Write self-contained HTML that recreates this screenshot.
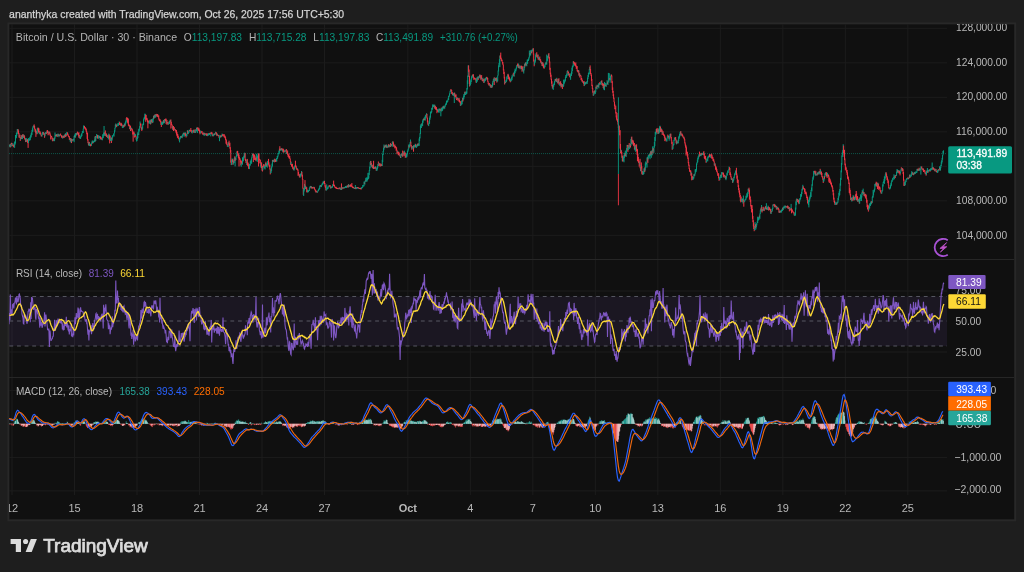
<!DOCTYPE html>
<html><head><meta charset="utf-8">
<style>
html,body{margin:0;padding:0;background:#1e1e1e;width:1024px;height:572px;overflow:hidden}
svg{display:block;font-family:"Liberation Sans",sans-serif;will-change:transform}
</style></head>
<body>
<svg width="1024" height="572" viewBox="0 0 1024 572">
<rect x="0" y="0" width="1024" height="572" fill="#1e1e1e"/>
<text x="9.1" y="17.6" font-size="11.3" fill="#d4d4d4" stroke="#d4d4d4" stroke-width="0.25" textLength="335" lengthAdjust="spacingAndGlyphs">ananthyka created with TradingView.com, Oct 26, 2025 17:56 UTC+5:30</text>
<rect x="8.4" y="23.4" width="1006.8" height="496.9" fill="#101010" stroke="#282828" stroke-width="1.9"/>
<defs><clipPath id="cp"><rect x="9" y="24" width="938" height="471"/></clipPath>
<clipPath id="cpm"><rect x="9" y="24" width="938" height="235"/></clipPath>
<clipPath id="cpt"><rect x="9" y="495" width="938" height="24"/></clipPath><clipPath id="cpa"><rect x="947" y="24" width="67" height="471"/></clipPath></defs>
<path d="M12.0 24V495M74.5 24V495M137.0 24V495M199.5 24V495M262.0 24V495M324.5 24V495M407.8 24V495M470.3 24V495M532.8 24V495M595.3 24V495M657.8 24V495M720.3 24V495M782.8 24V495M845.3 24V495M907.8 24V495M9 28.3H947M9 62.8H947M9 97.3H947M9 131.8H947M9 166.3H947M9 200.8H947M9 235.3H947M9 291.0H947M9 352.0H947M9 390.6H947M9 423.8H947M9 457.6H947M9 490.9H947" stroke="#1c1c1c" stroke-width="1" fill="none" clip-path="url(#cp)"/>
<path d="M9 259.5H1014M9 377.5H1014" stroke="#262626" stroke-width="1"/>
<!-- current price dotted -->
<path d="M9 153.6H947" stroke="#089981" stroke-width="1" stroke-dasharray="1 1" opacity="0.5"/>
<g clip-path="url(#cpm)">
<g stroke-width="1" fill="none"><path d="M9.00 145.3V146.3M9.43 144.5V146.2M9.87 145.4V147.2" stroke="#089981"/><path d="M10.30 143.9V147.4" stroke="#f23645"/><path d="M10.74 144.9V146.2M11.17 142.9V146.7" stroke="#089981"/><path d="M11.60 142.8V144.0M12.04 143.2V145.8M12.47 144.6V145.8" stroke="#f23645"/><path d="M12.91 143.1V145.7" stroke="#089981"/><path d="M13.34 145.1V147.3M13.77 144.4V146.6" stroke="#f23645"/><path d="M14.21 145.3V146.6M14.64 141.5V147.9M15.08 141.8V144.7M15.51 135.0V143.4M15.94 135.3V138.5M16.38 132.7V137.9M16.81 132.6V135.8M17.25 129.0V134.0M17.68 129.1V131.7" stroke="#089981"/><path d="M18.11 129.2V132.8M18.55 130.5V134.2M18.98 133.0V137.6" stroke="#f23645"/><path d="M19.42 134.8V137.2" stroke="#089981"/><path d="M19.85 134.6V138.0M20.28 137.2V140.9" stroke="#f23645"/><path d="M20.72 137.7V139.8" stroke="#089981"/><path d="M21.15 135.1V139.0" stroke="#f23645"/><path d="M21.59 135.5V138.5" stroke="#089981"/><path d="M22.02 135.6V138.9" stroke="#f23645"/><path d="M22.45 134.6V139.1" stroke="#089981"/><path d="M22.89 134.2V136.8M23.32 134.6V137.5" stroke="#f23645"/><path d="M23.76 134.6V137.9" stroke="#089981"/><path d="M24.19 135.1V138.0M24.62 136.2V138.9M25.06 138.4V140.1M25.49 138.4V142.1" stroke="#f23645"/><path d="M25.93 138.0V141.8" stroke="#089981"/><path d="M26.36 139.5V141.8" stroke="#f23645"/><path d="M26.79 138.3V141.6" stroke="#089981"/><path d="M27.23 139.8V140.9M27.66 139.2V143.1M28.10 141.2V147.9" stroke="#f23645"/><path d="M28.53 138.2V143.0M28.96 138.8V140.5M29.40 138.7V140.4M29.83 137.2V140.6M30.27 136.4V139.9M30.70 135.1V137.7M31.14 133.3V137.4M31.57 132.4V135.4M32.00 129.9V134.9M32.44 128.2V131.9M32.87 126.6V131.5M33.31 125.9V127.3M33.74 125.3V127.4" stroke="#089981"/><path d="M34.17 124.4V127.9M34.61 126.0V129.3M35.04 128.5V131.7M35.48 129.2V132.7M35.91 131.8V136.9" stroke="#f23645"/><path d="M36.34 130.9V133.1" stroke="#089981"/><path d="M36.78 130.6V134.3" stroke="#f23645"/><path d="M37.21 128.5V134.1M37.65 127.9V130.5" stroke="#089981"/><path d="M38.08 127.5V129.9M38.51 128.3V132.3M38.95 128.4V133.2" stroke="#f23645"/><path d="M39.38 131.6V134.3" stroke="#089981"/><path d="M39.82 131.1V132.2M40.25 131.8V134.0M40.68 133.0V134.8M41.12 134.7V136.4M41.55 135.0V136.3" stroke="#f23645"/><path d="M41.99 133.5V136.6M42.42 131.9V134.8M42.85 132.0V133.6" stroke="#089981"/><path d="M43.29 131.9V134.6M43.72 132.8V134.5" stroke="#f23645"/><path d="M44.16 132.8V134.0" stroke="#089981"/><path d="M44.59 133.6V137.8" stroke="#f23645"/><path d="M45.02 134.3V136.3M45.46 132.3V134.4M45.89 132.2V133.3" stroke="#089981"/><path d="M46.33 132.3V134.1" stroke="#f23645"/><path d="M46.76 131.3V133.2" stroke="#089981"/><path d="M47.19 130.0V132.7M47.63 130.3V133.1M48.06 131.7V135.3" stroke="#f23645"/><path d="M48.50 131.6V133.6" stroke="#089981"/><path d="M48.93 131.5V134.8" stroke="#f23645"/><path d="M49.36 131.9V133.7" stroke="#089981"/><path d="M49.80 131.7V134.3M50.23 133.5V136.1M50.67 135.2V139.5" stroke="#f23645"/><path d="M51.10 136.2V137.2" stroke="#089981"/><path d="M51.53 135.9V137.4M51.97 136.7V139.3M52.40 138.1V141.0M52.84 140.1V141.4" stroke="#f23645"/><path d="M53.27 138.9V141.0M53.70 138.4V140.6" stroke="#089981"/><path d="M54.14 137.9V140.9" stroke="#f23645"/><path d="M54.57 137.5V141.2M55.01 132.5V138.6M55.44 134.5V136.7" stroke="#089981"/><path d="M55.87 135.1V136.1" stroke="#f23645"/><path d="M56.31 134.0V136.2" stroke="#089981"/><path d="M56.74 134.7V136.4M57.18 134.2V136.9" stroke="#f23645"/><path d="M57.61 134.4V136.4M58.04 133.5V136.4" stroke="#089981"/><path d="M58.48 134.4V135.8" stroke="#f23645"/><path d="M58.91 134.9V137.2" stroke="#089981"/><path d="M59.35 134.7V136.2" stroke="#f23645"/><path d="M59.78 134.4V135.4M60.21 133.9V135.5" stroke="#089981"/><path d="M60.65 133.5V135.5M61.08 135.3V136.3M61.52 135.4V137.3M61.95 135.5V138.0M62.38 136.2V138.3" stroke="#f23645"/><path d="M62.82 136.6V138.5M63.25 135.3V137.2" stroke="#089981"/><path d="M63.69 136.1V137.9M64.12 136.4V137.4M64.55 134.7V137.5" stroke="#f23645"/><path d="M64.99 134.4V137.0M65.42 133.1V137.1" stroke="#089981"/><path d="M65.86 134.2V136.9M66.29 134.2V135.8" stroke="#f23645"/><path d="M66.72 131.9V135.0M67.16 133.0V134.0" stroke="#089981"/><path d="M67.59 132.3V134.9M68.03 133.8V136.1M68.46 135.4V136.7M68.89 136.1V137.3M69.33 136.3V139.8M69.76 138.0V139.7" stroke="#f23645"/><path d="M70.20 138.4V141.7" stroke="#089981"/><path d="M70.63 138.1V141.4" stroke="#f23645"/><path d="M71.06 138.6V142.8" stroke="#089981"/><path d="M71.50 138.8V143.1" stroke="#f23645"/><path d="M71.93 139.2V141.8" stroke="#089981"/><path d="M72.37 139.7V140.7" stroke="#f23645"/><path d="M72.80 139.2V140.2" stroke="#089981"/><path d="M73.24 139.1V140.4" stroke="#f23645"/><path d="M73.67 138.7V140.6M74.10 135.9V142.2M74.54 134.6V137.5" stroke="#089981"/><path d="M74.97 136.1V137.3" stroke="#f23645"/><path d="M75.41 133.2V137.7M75.84 133.3V136.2M76.27 133.4V134.4" stroke="#089981"/><path d="M76.71 132.9V135.3" stroke="#f23645"/><path d="M77.14 132.5V135.0" stroke="#089981"/><path d="M77.58 131.6V134.1" stroke="#f23645"/><path d="M78.01 133.3V134.3" stroke="#089981"/><path d="M78.44 133.0V135.6M78.88 132.2V137.6M79.31 135.0V137.7" stroke="#f23645"/><path d="M79.75 136.0V138.4" stroke="#089981"/><path d="M80.18 136.7V138.7" stroke="#f23645"/><path d="M80.61 136.4V138.9M81.05 134.7V137.3M81.48 133.6V136.5M81.92 133.2V136.1M82.35 131.0V133.5M82.78 131.1V132.7M83.22 128.7V133.0M83.65 125.4V129.0M84.09 125.9V127.6" stroke="#089981"/><path d="M84.52 125.9V128.0M84.95 127.4V129.3M85.39 127.3V128.8M85.82 127.9V130.4M86.26 128.8V131.9M86.69 130.8V134.2M87.12 133.6V138.9M87.56 132.6V140.5M87.99 139.2V143.2M88.43 141.9V145.3" stroke="#f23645"/><path d="M88.86 141.9V145.5" stroke="#089981"/><path d="M89.29 141.9V145.6" stroke="#f23645"/><path d="M89.73 143.4V146.0M90.16 143.7V146.1" stroke="#089981"/><path d="M90.60 144.2V146.3M91.03 144.8V145.8" stroke="#f23645"/><path d="M91.46 143.2V145.7M91.90 141.5V143.8M92.33 140.4V142.9" stroke="#089981"/><path d="M92.77 141.6V143.6" stroke="#f23645"/><path d="M93.20 141.3V143.0M93.63 140.8V142.8M94.07 140.7V141.9M94.50 139.5V141.9M94.94 136.6V142.1" stroke="#089981"/><path d="M95.37 136.0V141.2" stroke="#f23645"/><path d="M95.80 137.1V141.0M96.24 136.1V138.3M96.67 134.0V136.7M97.11 135.8V136.8" stroke="#089981"/><path d="M97.54 134.9V138.5M97.97 135.8V138.4" stroke="#f23645"/><path d="M98.41 135.2V138.7M98.84 136.1V137.3M99.28 135.7V138.1" stroke="#089981"/><path d="M99.71 136.4V137.8" stroke="#f23645"/><path d="M100.14 136.1V139.9" stroke="#089981"/><path d="M100.58 136.5V138.8M101.01 137.0V139.0M101.45 138.3V139.3M101.88 138.3V139.9" stroke="#f23645"/><path d="M102.31 137.1V140.3M102.75 134.3V138.1M103.18 134.6V138.2M103.62 132.6V136.4M104.05 126.0V135.3M104.48 132.5V135.7" stroke="#089981"/><path d="M104.92 132.4V133.9M105.35 130.4V136.2" stroke="#f23645"/><path d="M105.79 133.6V135.8" stroke="#089981"/><path d="M106.22 133.3V135.3M106.65 134.3V137.1M107.09 135.1V136.6M107.52 136.3V137.9" stroke="#f23645"/><path d="M107.96 134.9V137.8M108.39 136.4V139.5M108.82 133.6V138.5" stroke="#089981"/><path d="M109.26 134.5V138.1M109.69 136.1V143.4M110.13 135.5V140.6" stroke="#f23645"/><path d="M110.56 138.1V140.8M110.99 137.2V140.9" stroke="#089981"/><path d="M111.43 137.6V143.0" stroke="#f23645"/><path d="M111.86 138.9V141.1M112.30 135.4V139.6M112.73 135.4V137.5M113.17 135.1V136.1M113.60 133.8V135.5M114.03 133.0V136.6M114.47 130.2V133.4M114.90 127.8V131.6M115.34 124.6V128.3M115.77 123.5V126.8" stroke="#089981"/><path d="M116.20 124.5V126.2M116.64 124.7V127.2" stroke="#f23645"/><path d="M117.07 124.8V126.3M117.51 124.6V125.6M117.94 123.2V125.6M118.37 122.9V125.8M118.81 123.0V124.7M119.24 121.4V124.1" stroke="#089981"/><path d="M119.68 122.0V125.0M120.11 123.4V125.2" stroke="#f23645"/><path d="M120.54 123.3V125.6" stroke="#089981"/><path d="M120.98 122.7V125.7M121.41 123.4V125.4M121.85 123.8V126.0M122.28 125.3V127.5" stroke="#f23645"/><path d="M122.71 125.8V128.1M123.15 125.2V127.9M123.58 124.8V127.2" stroke="#089981"/><path d="M124.02 125.3V127.1" stroke="#f23645"/><path d="M124.45 123.4V126.1" stroke="#089981"/><path d="M124.88 123.9V126.3" stroke="#f23645"/><path d="M125.32 122.1V125.5M125.75 120.6V123.9M126.19 118.2V122.5" stroke="#089981"/><path d="M126.62 117.2V120.3" stroke="#f23645"/><path d="M127.05 119.4V121.3" stroke="#089981"/><path d="M127.49 117.7V122.6M127.92 120.2V123.5M128.36 118.5V125.6M128.79 124.1V125.9M129.22 124.8V126.8M129.66 125.3V129.2" stroke="#f23645"/><path d="M130.09 126.2V128.4" stroke="#089981"/><path d="M130.53 125.7V131.0" stroke="#f23645"/><path d="M130.96 128.4V129.8M131.39 127.6V129.0" stroke="#089981"/><path d="M131.83 128.2V130.5M132.26 129.1V131.7M132.70 130.3V134.5M133.13 131.5V141.7M133.56 132.5V134.0M134.00 131.7V134.6M134.43 133.3V137.5" stroke="#f23645"/><path d="M134.87 133.8V136.1M135.30 133.9V135.9" stroke="#089981"/><path d="M135.73 135.3V137.1M136.17 136.5V139.7" stroke="#f23645"/><path d="M136.60 138.8V141.5M137.04 137.2V140.9M137.47 133.4V139.1M137.90 131.8V138.1" stroke="#089981"/><path d="M138.34 133.7V134.7" stroke="#f23645"/><path d="M138.77 128.8V135.0M139.21 128.8V131.5M139.64 126.2V129.5M140.07 121.5V127.0" stroke="#089981"/><path d="M140.51 123.5V125.6M140.94 123.6V128.0M141.38 127.3V129.6M141.81 128.0V131.0" stroke="#f23645"/><path d="M142.24 126.7V129.9M142.68 124.3V128.6M143.11 123.3V125.2M143.55 119.2V125.1M143.98 117.7V120.4M144.41 116.9V119.1M144.85 113.6V119.1M145.28 113.9V117.6" stroke="#089981"/><path d="M145.72 114.7V121.8M146.15 114.9V120.0M146.58 118.1V119.6M147.02 117.9V120.4M147.45 119.5V122.3M147.89 121.1V128.3M148.32 121.2V122.4M148.75 120.4V123.4" stroke="#f23645"/><path d="M149.19 121.4V123.7M149.62 120.6V123.5M150.06 119.7V122.3" stroke="#089981"/><path d="M150.49 120.3V124.4" stroke="#f23645"/><path d="M150.92 119.6V124.1M151.36 119.1V122.5" stroke="#089981"/><path d="M151.79 119.5V121.9M152.23 120.3V123.1" stroke="#f23645"/><path d="M152.66 118.8V121.9M153.09 118.1V122.6M153.53 116.0V119.5" stroke="#089981"/><path d="M153.96 115.4V118.7" stroke="#f23645"/><path d="M154.40 114.9V118.1M154.83 114.8V117.3" stroke="#089981"/><path d="M155.27 114.1V117.4" stroke="#f23645"/><path d="M155.70 115.4V117.5M156.13 114.3V116.2" stroke="#089981"/><path d="M156.57 113.9V116.5" stroke="#f23645"/><path d="M157.00 114.4V115.8" stroke="#089981"/><path d="M157.44 114.1V116.7M157.87 114.4V116.8M158.30 115.9V117.4M158.74 115.3V119.5M159.17 118.5V120.6M159.61 119.7V121.3M160.04 119.1V121.2M160.47 120.6V122.4M160.91 120.8V124.8M161.34 122.9V127.0" stroke="#f23645"/><path d="M161.78 122.0V125.0M162.21 122.2V124.9M162.64 121.8V124.6M163.08 120.8V124.1M163.51 120.0V123.0" stroke="#089981"/><path d="M163.95 120.1V123.0" stroke="#f23645"/><path d="M164.38 119.1V123.2" stroke="#089981"/><path d="M164.81 119.3V120.3" stroke="#f23645"/><path d="M165.25 119.3V121.0" stroke="#089981"/><path d="M165.68 118.6V121.4M166.12 118.7V124.0" stroke="#f23645"/><path d="M166.55 121.4V123.0" stroke="#089981"/><path d="M166.98 120.0V124.9M167.42 122.1V123.8" stroke="#f23645"/><path d="M167.85 123.4V124.4" stroke="#089981"/><path d="M168.29 123.5V124.6" stroke="#f23645"/><path d="M168.72 122.1V124.3" stroke="#089981"/><path d="M169.15 121.2V123.4" stroke="#f23645"/><path d="M169.59 121.1V124.0M170.02 119.7V122.5M170.46 120.2V121.7" stroke="#089981"/><path d="M170.89 119.5V128.6M171.32 121.8V125.1M171.76 124.2V125.3M172.19 124.8V128.1M172.63 126.2V129.7" stroke="#f23645"/><path d="M173.06 126.1V129.8" stroke="#089981"/><path d="M173.49 126.0V131.0M173.93 128.6V129.6M174.36 127.2V130.3" stroke="#f23645"/><path d="M174.80 129.0V130.2" stroke="#089981"/><path d="M175.23 129.1V130.3M175.66 129.7V131.5M176.10 130.3V133.2M176.53 130.1V134.6M176.97 131.9V136.1M177.40 133.8V137.5M177.83 134.2V138.1M178.27 135.8V138.4M178.70 138.0V139.0M179.14 138.7V140.6" stroke="#f23645"/><path d="M179.57 137.9V142.4M180.00 137.1V139.4M180.44 136.1V138.5M180.87 135.9V138.0" stroke="#089981"/><path d="M181.31 136.0V137.2M181.74 136.7V137.7" stroke="#f23645"/><path d="M182.17 135.1V138.2M182.61 134.4V136.5M183.04 133.4V136.5M183.48 132.7V134.9" stroke="#089981"/><path d="M183.91 132.9V134.2" stroke="#f23645"/><path d="M184.34 132.6V136.6" stroke="#089981"/><path d="M184.78 133.0V134.7" stroke="#f23645"/><path d="M185.21 132.1V134.6" stroke="#089981"/><path d="M185.65 133.2V136.2M186.08 134.2V137.5" stroke="#f23645"/><path d="M186.51 134.0V136.2M186.95 133.5V136.3M187.38 130.1V134.0" stroke="#089981"/><path d="M187.82 130.7V134.1" stroke="#f23645"/><path d="M188.25 132.4V134.1M188.68 131.2V133.0M189.12 129.8V132.6" stroke="#089981"/><path d="M189.55 130.0V131.2" stroke="#f23645"/><path d="M189.99 129.6V130.6" stroke="#089981"/><path d="M190.42 130.2V131.5M190.85 128.0V131.4M191.29 130.1V131.6M191.72 130.6V132.9" stroke="#f23645"/><path d="M192.16 130.9V133.5M192.59 130.4V131.9M193.02 130.4V131.7" stroke="#089981"/><path d="M193.46 130.3V131.7M193.89 129.6V133.0" stroke="#f23645"/><path d="M194.33 130.5V132.4M194.76 129.8V132.8" stroke="#089981"/><path d="M195.19 129.4V132.9" stroke="#f23645"/><path d="M195.63 131.9V132.9M196.06 129.4V131.9M196.50 127.5V131.0" stroke="#089981"/><path d="M196.93 128.0V129.0" stroke="#f23645"/><path d="M197.37 127.7V133.1" stroke="#089981"/><path d="M197.80 127.2V129.2M198.23 127.8V130.2M198.67 129.0V130.9M199.10 128.4V131.1M199.54 130.1V132.8M199.97 130.6V134.3" stroke="#f23645"/><path d="M200.40 131.8V133.3M200.84 130.6V132.7" stroke="#089981"/><path d="M201.27 131.6V132.6M201.71 131.2V132.4M202.14 131.3V133.8M202.57 133.4V134.4M203.01 132.7V134.6M203.44 132.8V134.7" stroke="#f23645"/><path d="M203.88 132.5V135.6" stroke="#089981"/><path d="M204.31 132.9V135.0" stroke="#f23645"/><path d="M204.74 134.0V135.8M205.18 133.8V134.9M205.61 133.5V134.5" stroke="#089981"/><path d="M206.05 133.0V135.3M206.48 133.7V135.6M206.91 134.5V136.0" stroke="#f23645"/><path d="M207.35 133.9V136.2" stroke="#089981"/><path d="M207.78 133.3V135.4" stroke="#f23645"/><path d="M208.22 134.0V135.8M208.65 133.1V135.0M209.08 133.4V134.4M209.52 133.1V135.1" stroke="#089981"/><path d="M209.95 132.8V133.8M210.39 133.0V134.0" stroke="#f23645"/><path d="M210.82 132.4V136.4" stroke="#089981"/><path d="M211.25 131.9V133.8M211.69 133.2V134.2M212.12 132.4V134.5" stroke="#f23645"/><path d="M212.56 134.4V135.9" stroke="#089981"/><path d="M212.99 134.1V136.5" stroke="#f23645"/><path d="M213.42 134.5V136.0M213.86 133.6V135.4M214.29 133.4V135.3" stroke="#089981"/><path d="M214.73 133.6V135.0" stroke="#f23645"/><path d="M215.16 133.1V134.7M215.59 131.7V133.6" stroke="#089981"/><path d="M216.03 132.1V133.6M216.46 132.6V134.8M216.90 133.5V136.1" stroke="#f23645"/><path d="M217.33 133.6V135.6" stroke="#089981"/><path d="M217.76 134.5V135.6" stroke="#f23645"/><path d="M218.20 135.1V136.1" stroke="#089981"/><path d="M218.63 135.1V136.3M219.07 135.6V138.1" stroke="#f23645"/><path d="M219.50 136.5V141.2M219.93 134.9V138.2M220.37 135.7V137.4" stroke="#089981"/><path d="M220.80 135.7V137.2M221.24 135.0V137.1" stroke="#f23645"/><path d="M221.67 134.9V137.1M222.10 133.5V135.2" stroke="#089981"/><path d="M222.54 134.1V136.2" stroke="#f23645"/><path d="M222.97 134.5V135.5" stroke="#089981"/><path d="M223.41 134.3V135.7M223.84 135.2V136.6M224.27 134.2V137.4M224.71 136.4V137.4M225.14 135.7V138.4M225.58 137.1V140.2M226.01 138.9V143.7M226.44 140.2V143.8M226.88 142.2V145.0M227.31 144.1V146.5" stroke="#f23645"/><path d="M227.75 145.7V146.7M228.18 142.6V147.1M228.61 142.3V144.5" stroke="#089981"/><path d="M229.05 140.7V145.5M229.48 143.5V145.8M229.92 142.7V148.6M230.35 147.2V152.7M230.78 150.1V162.6M231.22 160.3V165.0" stroke="#f23645"/><path d="M231.65 159.6V165.1M232.09 158.3V161.6" stroke="#089981"/><path d="M232.52 159.3V161.9M232.95 159.2V164.8" stroke="#f23645"/><path d="M233.39 160.3V164.4" stroke="#089981"/><path d="M233.82 160.7V163.0" stroke="#f23645"/><path d="M234.26 157.9V163.1" stroke="#089981"/><path d="M234.69 156.4V161.2" stroke="#f23645"/><path d="M235.12 157.4V166.4" stroke="#089981"/><path d="M235.56 157.7V160.5" stroke="#f23645"/><path d="M235.99 156.2V160.1M236.43 154.3V156.8M236.86 151.5V154.7" stroke="#089981"/><path d="M237.29 150.9V153.3M237.73 150.9V155.9" stroke="#f23645"/><path d="M238.16 153.8V157.5" stroke="#089981"/><path d="M238.60 153.3V158.4M239.03 154.7V166.5M239.47 157.1V159.8M239.90 158.0V160.0M240.33 159.5V162.4M240.77 160.7V165.4" stroke="#f23645"/><path d="M241.20 162.0V166.8" stroke="#089981"/><path d="M241.64 160.6V163.4M242.07 161.9V163.8" stroke="#f23645"/><path d="M242.50 157.3V164.7M242.94 157.9V161.6M243.37 157.3V161.1M243.81 155.8V158.6M244.24 154.1V157.8M244.67 152.6V157.2" stroke="#089981"/><path d="M245.11 153.1V159.9M245.54 158.9V161.0M245.98 159.7V162.9M246.41 161.6V162.8" stroke="#f23645"/><path d="M246.84 159.4V165.1" stroke="#089981"/><path d="M247.28 158.9V165.0M247.71 162.5V165.9M248.15 162.7V166.5M248.58 164.4V168.7M249.01 167.2V169.1" stroke="#f23645"/><path d="M249.45 163.9V169.0M249.88 164.4V165.7M250.32 161.3V165.5M250.75 160.4V163.2M251.18 159.2V162.4M251.62 157.5V163.8M252.05 155.3V158.1M252.49 153.6V156.2" stroke="#089981"/><path d="M252.92 153.5V154.8M253.35 153.8V162.1M253.79 154.1V157.4M254.22 155.3V157.5M254.66 154.6V160.0M255.09 156.4V159.3M255.52 157.9V160.1M255.96 159.9V161.2" stroke="#f23645"/><path d="M256.39 153.8V160.6" stroke="#089981"/><path d="M256.83 157.3V159.8" stroke="#f23645"/><path d="M257.26 156.1V161.9M257.69 155.4V158.3M258.13 153.6V158.2" stroke="#089981"/><path d="M258.56 153.4V166.5M259.00 153.8V159.5M259.43 158.8V160.2M259.86 159.3V163.3M260.30 159.8V163.7" stroke="#f23645"/><path d="M260.73 162.9V167.6" stroke="#089981"/><path d="M261.17 162.0V166.0M261.60 163.0V168.2M262.03 165.9V170.7M262.47 165.8V171.5" stroke="#f23645"/><path d="M262.90 167.1V170.3M263.34 164.7V167.3" stroke="#089981"/><path d="M263.77 164.0V166.6M264.20 164.6V168.4" stroke="#f23645"/><path d="M264.64 166.0V168.3M265.07 166.2V169.5M265.51 163.0V166.9" stroke="#089981"/><path d="M265.94 161.7V165.5" stroke="#f23645"/><path d="M266.37 163.2V166.5" stroke="#089981"/><path d="M266.81 164.2V166.8" stroke="#f23645"/><path d="M267.24 163.0V167.7M267.68 161.1V165.1M268.11 160.7V163.8" stroke="#089981"/><path d="M268.54 158.9V164.7M268.98 162.3V166.3M269.41 165.3V167.0M269.85 164.6V169.5M270.28 168.7V174.4" stroke="#f23645"/><path d="M270.71 171.6V173.3M271.15 168.1V172.7M271.58 166.4V171.1M272.02 163.5V167.5M272.45 159.9V166.4" stroke="#089981"/><path d="M272.88 160.0V161.7" stroke="#f23645"/><path d="M273.32 159.7V161.7M273.75 159.9V162.1" stroke="#089981"/><path d="M274.19 160.0V161.7M274.62 158.7V162.3" stroke="#f23645"/><path d="M275.05 159.6V161.8" stroke="#089981"/><path d="M275.49 159.4V161.8M275.92 159.8V162.0" stroke="#f23645"/><path d="M276.36 158.2V161.1M276.79 158.0V161.6M277.22 155.9V159.0M277.66 155.8V158.3M278.09 153.2V156.5M278.53 152.9V153.9M278.96 150.6V154.3M279.39 148.6V152.8" stroke="#089981"/><path d="M279.83 146.2V150.6M280.26 149.2V150.4" stroke="#f23645"/><path d="M280.70 148.7V150.5" stroke="#089981"/><path d="M281.13 148.3V150.0" stroke="#f23645"/><path d="M281.57 148.3V150.5" stroke="#089981"/><path d="M282.00 148.3V149.7M282.43 148.8V151.2" stroke="#f23645"/><path d="M282.87 149.7V152.0" stroke="#089981"/><path d="M283.30 148.7V152.8M283.74 149.6V151.6M284.17 150.9V151.9" stroke="#f23645"/><path d="M284.60 150.6V152.4" stroke="#089981"/><path d="M285.04 150.3V151.4" stroke="#f23645"/><path d="M285.47 150.6V151.6M285.91 149.7V151.1" stroke="#089981"/><path d="M286.34 149.0V153.7" stroke="#f23645"/><path d="M286.77 152.0V154.0" stroke="#089981"/><path d="M287.21 152.0V153.5M287.64 150.4V155.1M288.08 154.7V156.9M288.51 154.6V156.5M288.94 153.4V158.4M289.38 156.0V158.1M289.81 156.1V159.0M290.25 158.5V161.5M290.68 161.0V164.8" stroke="#f23645"/><path d="M291.11 162.1V164.8" stroke="#089981"/><path d="M291.55 164.0V166.6M291.98 164.6V166.5M292.42 163.8V167.7M292.85 166.2V169.1M293.28 167.6V169.4M293.72 167.4V170.2" stroke="#f23645"/><path d="M294.15 167.8V170.6M294.59 166.2V169.2M295.02 165.1V167.0" stroke="#089981"/><path d="M295.45 160.7V166.6M295.89 165.2V167.6M296.32 166.3V169.4M296.76 168.1V169.7" stroke="#f23645"/><path d="M297.19 168.1V169.5" stroke="#089981"/><path d="M297.62 168.8V170.5M298.06 169.6V175.8M298.49 171.9V174.6M298.93 173.9V175.6M299.36 174.4V177.4M299.79 174.9V177.3" stroke="#f23645"/><path d="M300.23 173.8V177.6M300.66 173.5V176.1M301.10 174.1V175.1M301.53 171.0V175.3" stroke="#089981"/><path d="M301.96 171.8V176.7M302.40 174.7V179.6M302.83 179.0V188.6M303.27 187.9V194.8" stroke="#f23645"/><path d="M303.70 189.4V196.0M304.13 187.5V191.5M304.57 183.9V189.9" stroke="#089981"/><path d="M305.00 180.1V186.6M305.44 185.7V188.9" stroke="#f23645"/><path d="M305.87 186.1V188.9" stroke="#089981"/><path d="M306.30 187.3V189.3M306.74 187.3V192.4M307.17 189.7V192.0" stroke="#f23645"/><path d="M307.61 189.7V192.6" stroke="#089981"/><path d="M308.04 190.7V191.7" stroke="#f23645"/><path d="M308.47 190.4V192.2M308.91 190.1V191.1M309.34 188.2V191.0M309.78 187.1V189.1M310.21 186.0V188.1M310.64 185.9V186.9" stroke="#089981"/><path d="M311.08 186.1V188.1" stroke="#f23645"/><path d="M311.51 186.5V188.3" stroke="#089981"/><path d="M311.95 186.9V188.6M312.38 187.3V188.3M312.81 187.3V188.3M313.25 187.1V188.2" stroke="#f23645"/><path d="M313.68 186.8V188.3" stroke="#089981"/><path d="M314.12 186.9V188.5M314.55 187.5V189.7M314.98 189.4V190.4M315.42 189.6V191.8M315.85 191.4V192.5" stroke="#f23645"/><path d="M316.29 191.2V192.3" stroke="#089981"/><path d="M316.72 190.6V192.2M317.15 191.6V192.6" stroke="#f23645"/><path d="M317.59 191.3V192.7M318.02 190.3V191.6M318.46 189.2V191.0M318.89 188.5V190.2M319.32 187.6V189.5M319.76 185.7V189.0M320.19 184.9V187.1M320.63 185.1V186.2" stroke="#089981"/><path d="M321.06 185.0V187.0" stroke="#f23645"/><path d="M321.49 185.2V187.1M321.93 183.8V185.8M322.36 182.8V184.9M322.80 182.6V184.5M323.23 181.1V184.1" stroke="#089981"/><path d="M323.67 181.9V182.9" stroke="#f23645"/><path d="M324.10 180.7V182.0" stroke="#089981"/><path d="M324.53 180.9V184.0M324.97 183.1V186.6M325.40 185.3V188.1M325.84 187.7V190.4" stroke="#f23645"/><path d="M326.27 189.1V190.7M326.70 184.4V189.7M327.14 188.6V189.6M327.57 187.4V189.0M328.01 186.3V188.9M328.44 186.5V187.5M328.87 185.4V186.9" stroke="#089981"/><path d="M329.31 185.3V186.3M329.74 185.6V186.6M330.18 185.1V187.6M330.61 186.8V188.5" stroke="#f23645"/><path d="M331.04 186.2V188.5" stroke="#089981"/><path d="M331.48 186.8V187.8" stroke="#f23645"/><path d="M331.91 187.0V188.0M332.35 186.0V187.6M332.78 184.2V186.9M333.21 184.5V186.0" stroke="#089981"/><path d="M333.65 180.6V186.0M334.08 185.0V186.0M334.52 184.7V186.8M334.95 186.7V187.7M335.38 187.1V188.1M335.82 186.6V188.3M336.25 187.1V188.7M336.69 188.0V189.0M337.12 187.8V188.8M337.55 188.0V189.0M337.99 188.1V189.2" stroke="#f23645"/><path d="M338.42 188.2V189.2" stroke="#089981"/><path d="M338.86 187.8V188.8" stroke="#f23645"/><path d="M339.29 187.5V188.6" stroke="#089981"/><path d="M339.72 187.7V188.7M340.16 187.5V189.6" stroke="#f23645"/><path d="M340.59 188.7V189.7M341.03 187.9V189.7" stroke="#089981"/><path d="M341.46 183.4V189.8" stroke="#f23645"/><path d="M341.89 187.3V189.6" stroke="#089981"/><path d="M342.33 187.4V188.4M342.76 187.7V188.7" stroke="#f23645"/><path d="M343.20 187.4V188.4M343.63 187.4V188.4" stroke="#089981"/><path d="M344.06 187.4V188.6" stroke="#f23645"/><path d="M344.50 187.0V188.0M344.93 187.1V188.1M345.37 186.2V187.7M345.80 186.1V187.9" stroke="#089981"/><path d="M346.23 186.3V187.5" stroke="#f23645"/><path d="M346.67 185.8V188.0M347.10 185.6V186.9" stroke="#089981"/><path d="M347.54 185.4V186.7M347.97 185.9V187.7" stroke="#f23645"/><path d="M348.40 184.1V187.4" stroke="#089981"/><path d="M348.84 184.5V186.9" stroke="#f23645"/><path d="M349.27 185.1V186.9" stroke="#089981"/><path d="M349.71 185.3V186.4" stroke="#f23645"/><path d="M350.14 184.9V187.2" stroke="#089981"/><path d="M350.57 184.6V186.7M351.01 184.2V186.1M351.44 185.4V186.8M351.88 183.0V186.7M352.31 186.3V187.9M352.74 186.5V187.8M353.18 187.3V188.3M353.61 186.9V188.1" stroke="#f23645"/><path d="M354.05 187.7V188.7" stroke="#089981"/><path d="M354.48 187.9V188.9" stroke="#f23645"/><path d="M354.91 187.9V188.9M355.35 185.0V188.4" stroke="#089981"/><path d="M355.78 187.2V189.2" stroke="#f23645"/><path d="M356.22 188.1V189.1M356.65 187.0V188.5M357.08 187.0V188.6" stroke="#089981"/><path d="M357.52 187.1V188.1" stroke="#f23645"/><path d="M357.95 187.5V188.5" stroke="#089981"/><path d="M358.39 187.3V188.3M358.82 187.7V188.7" stroke="#f23645"/><path d="M359.25 188.1V189.1" stroke="#089981"/><path d="M359.69 188.0V189.0M360.12 187.8V188.8M360.56 187.9V189.0M360.99 188.0V189.7" stroke="#f23645"/><path d="M361.42 187.3V189.0M361.86 187.3V188.3M362.29 187.1V188.1M362.73 185.0V187.5M363.16 185.6V186.6M363.60 185.2V186.2M364.03 181.6V186.3" stroke="#089981"/><path d="M364.46 182.2V184.0" stroke="#f23645"/><path d="M364.90 181.1V184.7M365.33 180.2V181.8M365.77 177.8V181.7" stroke="#089981"/><path d="M366.20 179.7V181.4" stroke="#f23645"/><path d="M366.63 177.4V181.4M367.07 178.6V181.6M367.50 177.5V180.1M367.94 172.9V179.0M368.37 175.6V179.3M368.80 172.8V178.4M369.24 170.2V174.9M369.67 166.6V171.0M370.11 162.1V168.3M370.54 160.9V165.1" stroke="#089981"/><path d="M370.97 161.1V165.0M371.41 163.2V166.6" stroke="#f23645"/><path d="M371.84 164.3V167.0" stroke="#089981"/><path d="M372.28 164.9V168.1M372.71 165.9V168.1" stroke="#f23645"/><path d="M373.14 165.9V168.8" stroke="#089981"/><path d="M373.58 160.8V169.1M374.01 167.2V168.6M374.45 167.1V168.9" stroke="#f23645"/><path d="M374.88 167.5V168.6M375.31 166.0V168.6" stroke="#089981"/><path d="M375.75 167.0V168.6M376.18 167.9V170.8" stroke="#f23645"/><path d="M376.62 168.3V170.6M377.05 166.7V170.7M377.48 165.9V169.2M377.92 164.0V167.7" stroke="#089981"/><path d="M378.35 161.5V166.0" stroke="#f23645"/><path d="M378.79 163.6V165.5M379.22 162.8V164.4" stroke="#089981"/><path d="M379.65 163.5V165.8M380.09 163.5V166.7" stroke="#f23645"/><path d="M380.52 164.6V166.1" stroke="#089981"/><path d="M380.96 163.6V166.2M381.39 164.2V166.0M381.82 164.8V165.8" stroke="#f23645"/><path d="M382.26 159.8V166.0M382.69 153.8V162.0M383.13 151.0V155.0M383.56 147.7V151.7M383.99 144.5V149.7" stroke="#089981"/><path d="M384.43 145.8V147.9" stroke="#f23645"/><path d="M384.86 145.6V147.7" stroke="#089981"/><path d="M385.30 145.3V146.9" stroke="#f23645"/><path d="M385.73 144.8V147.5" stroke="#089981"/><path d="M386.16 144.6V147.1" stroke="#f23645"/><path d="M386.60 144.8V147.7" stroke="#089981"/><path d="M387.03 145.9V148.1" stroke="#f23645"/><path d="M387.47 146.4V147.6M387.90 145.5V146.8M388.33 144.7V147.2" stroke="#089981"/><path d="M388.77 144.1V147.4" stroke="#f23645"/><path d="M389.20 145.7V147.3" stroke="#089981"/><path d="M389.64 145.0V146.5" stroke="#f23645"/><path d="M390.07 144.5V146.9" stroke="#089981"/><path d="M390.50 143.2V146.9" stroke="#f23645"/><path d="M390.94 144.8V146.4M391.37 144.0V145.9" stroke="#089981"/><path d="M391.81 144.0V145.6" stroke="#f23645"/><path d="M392.24 142.2V146.8M392.67 141.3V144.3" stroke="#089981"/><path d="M393.11 141.4V143.8M393.54 142.5V146.4M393.98 145.7V146.7" stroke="#f23645"/><path d="M394.41 145.1V146.6" stroke="#089981"/><path d="M394.84 144.4V148.4M395.28 145.9V147.4M395.71 146.2V148.1M396.15 147.1V150.8M396.58 147.5V150.2M397.01 149.9V154.2" stroke="#f23645"/><path d="M397.45 151.1V152.8" stroke="#089981"/><path d="M397.88 151.5V153.1M398.32 151.9V155.3M398.75 151.8V154.8M399.18 152.7V155.2" stroke="#f23645"/><path d="M399.62 154.7V155.8" stroke="#089981"/><path d="M400.05 154.4V156.6M400.49 156.2V158.0" stroke="#f23645"/><path d="M400.92 154.4V157.9M401.35 153.4V155.7" stroke="#089981"/><path d="M401.79 154.1V155.5" stroke="#f23645"/><path d="M402.22 154.3V156.0" stroke="#089981"/><path d="M402.66 150.6V156.8" stroke="#f23645"/><path d="M403.09 153.5V155.4M403.52 152.6V154.1" stroke="#089981"/><path d="M403.96 151.2V156.2" stroke="#f23645"/><path d="M404.39 150.7V154.4" stroke="#089981"/><path d="M404.83 152.5V155.8M405.26 152.6V157.8M405.70 155.5V157.4" stroke="#f23645"/><path d="M406.13 154.4V156.8M406.56 153.5V157.6M407.00 153.3V156.7M407.43 151.0V154.3M407.87 149.6V151.9M408.30 148.6V150.5M408.73 144.5V149.0" stroke="#089981"/><path d="M409.17 145.4V147.6" stroke="#f23645"/><path d="M409.60 144.4V147.1M410.04 142.2V146.0M410.47 139.5V143.5" stroke="#089981"/><path d="M410.90 141.6V146.6M411.34 145.1V147.8M411.77 146.8V149.7" stroke="#f23645"/><path d="M412.21 146.3V149.3" stroke="#089981"/><path d="M412.64 146.3V147.5" stroke="#f23645"/><path d="M413.07 146.1V148.0" stroke="#089981"/><path d="M413.51 145.5V151.7" stroke="#f23645"/><path d="M413.94 145.0V148.3M414.38 145.2V147.3M414.81 144.8V146.3M415.24 143.7V146.7" stroke="#089981"/><path d="M415.68 144.3V147.2" stroke="#f23645"/><path d="M416.11 146.6V147.9M416.55 145.2V147.7M416.98 144.4V147.0" stroke="#089981"/><path d="M417.41 143.8V145.9" stroke="#f23645"/><path d="M417.85 143.7V146.1" stroke="#089981"/><path d="M418.28 143.3V145.3" stroke="#f23645"/><path d="M418.72 144.0V145.9M419.15 138.5V145.8M419.58 136.9V141.1M420.02 133.2V138.4M420.45 125.7V134.1M420.89 124.3V127.7M421.32 124.2V128.0M421.75 123.3V125.5" stroke="#089981"/><path d="M422.19 123.5V124.5" stroke="#f23645"/><path d="M422.62 120.5V126.2M423.06 119.1V122.8M423.49 118.6V120.6" stroke="#089981"/><path d="M423.92 118.5V120.1" stroke="#f23645"/><path d="M424.36 117.2V119.8" stroke="#089981"/><path d="M424.79 118.9V120.4" stroke="#f23645"/><path d="M425.23 115.8V120.5M425.66 115.0V118.5M426.09 114.4V117.3M426.53 113.2V115.0" stroke="#089981"/><path d="M426.96 113.9V118.4M427.40 117.6V122.4M427.83 120.5V124.5M428.26 123.5V125.4" stroke="#f23645"/><path d="M428.70 123.6V126.1M429.13 121.5V123.8M429.57 117.6V123.8M430.00 115.7V119.7M430.43 111.6V117.7M430.87 112.1V113.7M431.30 111.0V113.2M431.74 107.8V112.2M432.17 107.9V109.8M432.60 104.4V109.4M433.04 105.8V106.8M433.47 104.7V107.0M433.91 104.6V105.6" stroke="#089981"/><path d="M434.34 104.9V108.2" stroke="#f23645"/><path d="M434.77 104.7V108.6" stroke="#089981"/><path d="M435.21 105.8V108.9M435.64 106.3V109.4M436.08 107.7V110.0M436.51 107.2V110.0M436.94 108.8V113.2" stroke="#f23645"/><path d="M437.38 109.1V110.7" stroke="#089981"/><path d="M437.81 109.9V111.9M438.25 109.9V112.0" stroke="#f23645"/><path d="M438.68 109.2V112.5M439.11 108.3V112.7" stroke="#089981"/><path d="M439.55 109.1V110.2" stroke="#f23645"/><path d="M439.98 108.6V110.8" stroke="#089981"/><path d="M440.42 109.2V110.6" stroke="#f23645"/><path d="M440.85 108.9V116.3" stroke="#089981"/><path d="M441.28 107.6V111.1" stroke="#f23645"/><path d="M441.72 107.9V111.5M442.15 108.1V110.8M442.59 106.5V110.7M443.02 106.9V108.9" stroke="#089981"/><path d="M443.45 106.1V108.0" stroke="#f23645"/><path d="M443.89 105.6V109.3" stroke="#089981"/><path d="M444.32 106.5V108.1" stroke="#f23645"/><path d="M444.76 105.8V108.7M445.19 104.8V106.8M445.62 103.8V105.5M446.06 102.7V105.1M446.49 100.6V104.5M446.93 101.4V102.6M447.36 100.5V102.4M447.80 99.6V101.8M448.23 98.0V100.2M448.66 96.0V100.0M449.10 95.3V97.0M449.53 93.3V95.8M449.97 91.3V93.9M450.40 89.8V92.0" stroke="#089981"/><path d="M450.83 89.3V90.4M451.27 89.5V90.5M451.70 90.0V93.8M452.14 92.3V94.2M452.57 92.4V95.0" stroke="#f23645"/><path d="M453.00 93.3V95.8" stroke="#089981"/><path d="M453.44 93.5V95.3" stroke="#f23645"/><path d="M453.87 93.0V96.0M454.31 92.5V103.0" stroke="#089981"/><path d="M454.74 92.8V96.6" stroke="#f23645"/><path d="M455.17 94.7V96.1" stroke="#089981"/><path d="M455.61 94.8V97.1M456.04 94.3V98.6M456.48 97.4V100.1" stroke="#f23645"/><path d="M456.91 97.3V98.9M457.34 97.7V98.7" stroke="#089981"/><path d="M457.78 97.8V100.5M458.21 98.4V100.6" stroke="#f23645"/><path d="M458.65 98.8V100.4" stroke="#089981"/><path d="M459.08 97.9V102.0M459.51 99.8V102.3M459.95 100.9V102.5M460.38 101.3V105.8" stroke="#f23645"/><path d="M460.82 104.3V105.8M461.25 103.1V105.1M461.68 100.7V104.3M462.12 100.1V104.3M462.55 97.8V101.7" stroke="#089981"/><path d="M462.99 97.8V101.4" stroke="#f23645"/><path d="M463.42 96.2V99.7M463.85 94.2V99.3M464.29 93.9V97.2M464.72 91.8V95.1" stroke="#089981"/><path d="M465.16 91.5V94.5" stroke="#f23645"/><path d="M465.59 92.4V95.0M466.02 93.1V94.5M466.46 91.4V93.7M466.89 88.1V93.7M467.33 80.3V89.5M467.76 75.5V84.0M468.19 65.3V77.0" stroke="#089981"/><path d="M468.63 65.4V71.9M469.06 69.5V76.9M469.50 75.9V86.5" stroke="#f23645"/><path d="M469.93 84.0V85.6M470.36 81.4V85.4M470.80 79.7V84.0M471.23 78.4V82.0M471.67 76.3V79.4M472.10 75.3V78.1" stroke="#089981"/><path d="M472.53 74.6V76.5" stroke="#f23645"/><path d="M472.97 74.7V77.3" stroke="#089981"/><path d="M473.40 74.2V77.7M473.84 77.0V79.9M474.27 77.8V78.8M474.70 77.8V79.4M475.14 78.2V79.6" stroke="#f23645"/><path d="M475.57 79.3V80.3" stroke="#089981"/><path d="M476.01 78.1V82.6" stroke="#f23645"/><path d="M476.44 79.5V83.0M476.87 77.4V80.5M477.31 78.4V81.7M477.74 76.6V79.1" stroke="#089981"/><path d="M478.18 76.7V80.0" stroke="#f23645"/><path d="M478.61 76.7V78.7M479.04 76.0V77.5M479.48 75.1V76.8" stroke="#089981"/><path d="M479.91 74.4V78.2" stroke="#f23645"/><path d="M480.35 75.0V77.9" stroke="#089981"/><path d="M480.78 75.4V79.7" stroke="#f23645"/><path d="M481.21 77.1V79.4" stroke="#089981"/><path d="M481.65 75.1V78.7M482.08 78.0V80.7M482.52 79.3V81.3" stroke="#f23645"/><path d="M482.95 77.7V80.5" stroke="#089981"/><path d="M483.38 79.2V81.1M483.82 79.7V83.0" stroke="#f23645"/><path d="M484.25 79.8V82.7M484.69 78.9V81.9" stroke="#089981"/><path d="M485.12 78.0V80.5" stroke="#f23645"/><path d="M485.55 78.3V80.8M485.99 77.4V80.1M486.42 76.9V79.2" stroke="#089981"/><path d="M486.86 76.9V78.0M487.29 77.6V79.6M487.72 78.0V81.8M488.16 81.3V84.2M488.59 83.5V84.5M489.03 83.5V85.7M489.46 83.1V85.2" stroke="#f23645"/><path d="M489.90 83.9V86.1" stroke="#089981"/><path d="M490.33 84.4V87.5" stroke="#f23645"/><path d="M490.76 86.1V87.4" stroke="#089981"/><path d="M491.20 86.0V87.5" stroke="#f23645"/><path d="M491.63 84.8V88.0" stroke="#089981"/><path d="M492.07 85.0V87.5" stroke="#f23645"/><path d="M492.50 82.5V86.6M492.93 80.8V85.3M493.37 79.1V82.1M493.80 78.4V79.9" stroke="#089981"/><path d="M494.24 77.3V85.0" stroke="#f23645"/><path d="M494.67 78.7V81.4M495.10 77.7V79.8" stroke="#089981"/><path d="M495.54 78.2V80.8" stroke="#f23645"/><path d="M495.97 79.4V81.0M496.41 77.3V80.4" stroke="#089981"/><path d="M496.84 78.1V82.6" stroke="#f23645"/><path d="M497.27 79.4V81.7M497.71 75.3V81.3M498.14 70.5V75.6M498.58 65.4V71.5M499.01 63.1V66.9M499.44 59.1V64.6M499.88 55.6V67.2" stroke="#089981"/><path d="M500.31 55.3V58.6M500.75 52.6V59.0M501.18 57.7V60.5M501.61 59.4V61.0M502.05 59.7V61.9M502.48 61.8V63.7M502.92 62.1V65.1M503.35 64.6V70.4M503.78 69.3V74.0M504.22 71.8V78.5M504.65 76.8V84.5" stroke="#f23645"/><path d="M505.09 81.3V83.4" stroke="#089981"/><path d="M505.52 81.8V82.8" stroke="#f23645"/><path d="M505.95 80.1V82.5M506.39 79.4V81.9M506.82 76.6V80.7M507.26 75.8V79.0M507.69 74.4V76.7" stroke="#089981"/><path d="M508.12 73.8V76.6M508.56 75.1V78.9M508.99 76.6V79.6M509.43 77.4V80.2M509.86 78.3V81.2M510.29 80.0V82.3" stroke="#f23645"/><path d="M510.73 79.1V81.3M511.16 78.7V81.3M511.60 77.2V79.1M512.03 75.3V80.2M512.46 76.4V77.5M512.90 74.3V76.4" stroke="#089981"/><path d="M513.33 72.8V75.4M513.77 75.1V76.2" stroke="#f23645"/><path d="M514.20 71.9V76.6M514.63 70.7V74.1M515.07 68.7V73.1M515.50 69.8V71.1M515.94 68.5V71.4M516.37 66.6V69.4M516.80 65.2V67.7M517.24 64.8V66.3" stroke="#089981"/><path d="M517.67 63.5V66.1M518.11 63.9V67.5" stroke="#f23645"/><path d="M518.54 63.6V68.2" stroke="#089981"/><path d="M518.97 64.8V67.8" stroke="#f23645"/><path d="M519.41 65.8V67.6" stroke="#089981"/><path d="M519.84 66.7V68.6" stroke="#f23645"/><path d="M520.28 66.2V69.3M520.71 65.7V67.2" stroke="#089981"/><path d="M521.14 65.6V68.2M521.58 65.9V69.0M522.01 67.1V71.7" stroke="#f23645"/><path d="M522.45 66.9V70.7" stroke="#089981"/><path d="M522.88 66.0V69.9M523.31 69.7V71.8" stroke="#f23645"/><path d="M523.75 69.4V73.5M524.18 67.0V70.4M524.62 63.5V68.2" stroke="#089981"/><path d="M525.05 64.3V66.4" stroke="#f23645"/><path d="M525.48 62.4V65.5" stroke="#089981"/><path d="M525.92 62.5V64.7M526.35 63.9V65.6" stroke="#f23645"/><path d="M526.79 61.9V66.3M527.22 59.6V63.8M527.65 59.7V63.6M528.09 59.5V60.9M528.52 58.4V60.9M528.96 56.9V59.6M529.39 50.5V57.6M529.82 52.9V56.3" stroke="#089981"/><path d="M530.26 53.0V54.9" stroke="#f23645"/><path d="M530.69 50.4V55.5M531.13 49.9V52.5" stroke="#089981"/><path d="M531.56 50.6V53.3" stroke="#f23645"/><path d="M532.00 49.7V52.5M532.43 49.6V51.1M532.86 48.5V51.3" stroke="#089981"/><path d="M533.30 48.2V54.5M533.73 53.6V61.5M534.17 60.2V66.3" stroke="#f23645"/><path d="M534.60 61.5V64.8M535.03 59.2V62.9M535.47 55.1V61.6M535.90 53.4V55.9M536.34 53.6V54.6" stroke="#089981"/><path d="M536.77 52.2V57.2M537.20 54.9V57.6" stroke="#f23645"/><path d="M537.64 54.8V57.5" stroke="#089981"/><path d="M538.07 54.5V59.6" stroke="#f23645"/><path d="M538.51 57.0V59.2" stroke="#089981"/><path d="M538.94 58.2V60.1" stroke="#f23645"/><path d="M539.37 57.8V60.6" stroke="#089981"/><path d="M539.81 56.5V59.8M540.24 59.1V60.7M540.68 59.5V62.5M541.11 61.2V63.4" stroke="#f23645"/><path d="M541.54 62.0V64.0" stroke="#089981"/><path d="M541.98 62.1V65.9" stroke="#f23645"/><path d="M542.41 62.4V66.1" stroke="#089981"/><path d="M542.85 62.3V66.0M543.28 63.5V67.3M543.71 65.3V68.2M544.15 66.1V68.7" stroke="#f23645"/><path d="M544.58 65.4V67.9M545.02 63.7V67.1M545.45 63.1V64.5M545.88 61.8V64.9" stroke="#089981"/><path d="M546.32 62.1V64.1" stroke="#f23645"/><path d="M546.75 54.6V64.6M547.19 59.3V61.4M547.62 55.7V60.5M548.05 56.0V57.9M548.49 53.8V57.2" stroke="#089981"/><path d="M548.92 53.1V58.6M549.36 56.9V62.6M549.79 61.5V69.8M550.22 67.8V74.3M550.66 72.6V76.9M551.09 74.7V79.7M551.53 78.7V83.7M551.96 81.2V86.3M552.39 84.8V88.5" stroke="#f23645"/><path d="M552.83 87.6V88.6M553.26 84.6V89.9M553.70 84.2V87.0M554.13 82.6V85.3M554.56 81.1V84.9M555.00 79.2V82.3M555.43 78.8V80.8" stroke="#089981"/><path d="M555.87 78.9V80.8M556.30 79.2V81.6" stroke="#f23645"/><path d="M556.73 77.8V82.2" stroke="#089981"/><path d="M557.17 78.7V82.0M557.60 81.2V83.4" stroke="#f23645"/><path d="M558.04 81.0V83.1M558.47 79.0V82.6" stroke="#089981"/><path d="M558.90 78.2V84.6M559.34 82.3V84.4" stroke="#f23645"/><path d="M559.77 83.5V85.6M560.21 82.1V86.1" stroke="#089981"/><path d="M560.64 81.2V84.8M561.07 84.2V87.5M561.51 83.4V86.8" stroke="#f23645"/><path d="M561.94 84.2V86.6" stroke="#089981"/><path d="M562.38 84.2V89.0M562.81 85.3V86.3" stroke="#f23645"/><path d="M563.24 84.4V87.0M563.68 79.7V86.2M564.11 79.7V84.2M564.55 81.2V82.9M564.98 79.4V82.1M565.41 76.9V80.9M565.85 75.1V77.7M566.28 75.2V77.9M566.72 73.6V76.4M567.15 70.9V75.7M567.58 70.3V71.8" stroke="#089981"/><path d="M568.02 70.8V73.7M568.45 72.0V75.5" stroke="#f23645"/><path d="M568.89 73.1V75.1" stroke="#089981"/><path d="M569.32 74.3V75.3M569.75 73.5V77.0M570.19 75.9V77.9" stroke="#f23645"/><path d="M570.62 74.4V79.8M571.06 73.1V75.3M571.49 71.4V75.9M571.93 67.7V73.9M572.36 65.7V70.9M572.79 65.7V67.6M573.23 61.2V66.6" stroke="#089981"/><path d="M573.66 61.3V63.8" stroke="#f23645"/><path d="M574.10 63.1V65.8" stroke="#089981"/><path d="M574.53 62.2V64.6M574.96 63.1V65.5M575.40 63.8V66.1M575.83 62.4V66.7M576.27 65.5V68.9M576.70 66.3V68.4M577.13 66.1V71.3M577.57 70.0V71.7M578.00 70.2V72.5" stroke="#f23645"/><path d="M578.44 70.0V72.4" stroke="#089981"/><path d="M578.87 70.5V75.5" stroke="#f23645"/><path d="M579.30 73.0V76.1" stroke="#089981"/><path d="M579.74 73.4V77.5" stroke="#f23645"/><path d="M580.17 74.7V75.8" stroke="#089981"/><path d="M580.61 75.2V76.2M581.04 75.7V80.1M581.47 78.0V79.7M581.91 78.5V81.4M582.34 80.0V82.1" stroke="#f23645"/><path d="M582.78 81.6V82.6" stroke="#089981"/><path d="M583.21 81.4V82.9M583.64 81.5V83.8M584.08 81.1V86.1" stroke="#f23645"/><path d="M584.51 82.1V85.7M584.95 81.9V84.9" stroke="#089981"/><path d="M585.38 82.7V84.1" stroke="#f23645"/><path d="M585.81 82.1V84.3" stroke="#089981"/><path d="M586.25 81.7V83.2" stroke="#f23645"/><path d="M586.68 81.8V83.6M587.12 81.1V84.0M587.55 77.5V82.2M587.98 75.1V79.1M588.42 73.0V77.1M588.85 72.4V74.6M589.29 69.0V74.2M589.72 66.9V69.7" stroke="#089981"/><path d="M590.15 65.4V70.0M590.59 69.1V74.1M591.02 73.0V75.8M591.46 74.6V80.9M591.89 79.0V86.0M592.32 84.8V89.0M592.76 88.2V92.7M593.19 91.2V95.7" stroke="#f23645"/><path d="M593.63 94.3V95.7M594.06 91.5V94.7" stroke="#089981"/><path d="M594.49 90.5V93.3" stroke="#f23645"/><path d="M594.93 91.4V93.9M595.36 90.5V93.8M595.80 87.1V92.2" stroke="#089981"/><path d="M596.23 85.6V88.4M596.66 87.6V88.6" stroke="#f23645"/><path d="M597.10 84.7V89.3" stroke="#089981"/><path d="M597.53 85.4V86.8" stroke="#f23645"/><path d="M597.97 85.1V87.0" stroke="#089981"/><path d="M598.40 84.4V87.1" stroke="#f23645"/><path d="M598.83 83.0V88.3M599.27 83.8V85.2" stroke="#089981"/><path d="M599.70 82.2V84.3" stroke="#f23645"/><path d="M600.14 83.2V84.2M600.57 82.6V84.6M601.00 81.0V83.4M601.44 80.8V82.8" stroke="#089981"/><path d="M601.87 80.3V85.1" stroke="#f23645"/><path d="M602.31 82.8V85.6" stroke="#089981"/><path d="M602.74 83.0V85.6M603.17 83.7V88.0M603.61 83.8V88.7" stroke="#f23645"/><path d="M604.04 85.8V90.0M604.48 81.9V90.2" stroke="#089981"/><path d="M604.91 84.3V86.5" stroke="#f23645"/><path d="M605.34 82.9V86.3" stroke="#089981"/><path d="M605.78 84.8V86.0" stroke="#f23645"/><path d="M606.21 83.9V86.9M606.65 83.4V84.4M607.08 80.2V83.6" stroke="#089981"/><path d="M607.51 81.6V84.3" stroke="#f23645"/><path d="M607.95 81.6V85.0M608.38 72.9V82.4M608.82 78.4V80.2M609.25 73.2V79.3" stroke="#089981"/><path d="M609.68 78.0V80.4" stroke="#f23645"/><path d="M610.12 77.7V82.7M610.55 76.1V80.2M610.99 74.5V76.9" stroke="#089981"/><path d="M611.42 74.6V76.2M611.85 75.5V82.9M612.29 81.2V90.0M612.72 87.4V92.8M613.16 90.9V96.1M613.59 94.2V98.8M614.03 97.7V102.1M614.46 101.7V106.3M614.89 104.4V109.3M615.33 107.8V109.0M615.76 105.7V113.5M616.20 112.0V117.4M616.63 115.5V119.7M617.06 112.9V120.8M617.50 118.8V122.1M617.93 121.7V124.5M618.37 123.9V128.0M618.80 125.0V130.0M619.23 126.1V132.1M619.67 130.7V135.3M620.10 130.1V148.6M620.54 144.0V153.3" stroke="#f23645"/><path d="M620.97 149.7V152.2" stroke="#089981"/><path d="M621.40 150.3V154.1M621.84 152.1V157.8" stroke="#f23645"/><path d="M622.27 156.2V161.4" stroke="#089981"/><path d="M622.71 155.6V161.4M623.14 159.8V161.4" stroke="#f23645"/><path d="M623.57 156.6V161.2M624.01 154.9V162.3M624.44 152.8V157.9" stroke="#089981"/><path d="M624.88 154.8V156.1" stroke="#f23645"/><path d="M625.31 150.7V156.0" stroke="#089981"/><path d="M625.74 152.9V156.4" stroke="#f23645"/><path d="M626.18 150.5V156.9M626.61 148.1V153.4M627.05 144.9V151.0" stroke="#089981"/><path d="M627.48 145.3V146.3M627.91 145.0V151.9" stroke="#f23645"/><path d="M628.35 146.8V150.1M628.78 145.1V147.6" stroke="#089981"/><path d="M629.22 143.1V147.9" stroke="#f23645"/><path d="M629.65 147.4V149.1M630.08 144.2V148.0" stroke="#089981"/><path d="M630.52 143.8V147.3" stroke="#f23645"/><path d="M630.95 139.0V145.8M631.39 137.2V144.1" stroke="#089981"/><path d="M631.82 136.6V143.3" stroke="#f23645"/><path d="M632.25 140.2V144.2" stroke="#089981"/><path d="M632.69 139.8V142.4M633.12 140.4V144.8M633.56 141.6V145.7M633.99 143.1V146.4M634.42 143.0V149.5" stroke="#f23645"/><path d="M634.86 145.2V150.4" stroke="#089981"/><path d="M635.29 144.6V149.3" stroke="#f23645"/><path d="M635.73 146.8V151.9M636.16 145.0V150.4" stroke="#089981"/><path d="M636.59 144.3V151.1M637.03 148.8V154.8M637.46 149.3V161.2M637.90 153.6V159.2M638.33 157.0V162.2M638.76 159.3V163.1M639.20 161.3V166.6" stroke="#f23645"/><path d="M639.63 161.7V164.7" stroke="#089981"/><path d="M640.07 158.8V168.3M640.50 166.8V171.0" stroke="#f23645"/><path d="M640.93 164.7V171.5" stroke="#089981"/><path d="M641.37 162.4V168.5M641.80 166.3V173.8M642.24 171.0V174.9" stroke="#f23645"/><path d="M642.67 171.1V174.7" stroke="#089981"/><path d="M643.10 171.5V174.2" stroke="#f23645"/><path d="M643.54 171.6V174.6M643.97 168.4V173.8M644.41 168.5V171.9" stroke="#089981"/><path d="M644.84 167.3V171.9" stroke="#f23645"/><path d="M645.27 163.4V170.6M645.71 161.5V168.1M646.14 162.5V165.2" stroke="#089981"/><path d="M646.58 162.7V163.9" stroke="#f23645"/><path d="M647.01 157.5V167.5M647.44 156.7V161.9" stroke="#089981"/><path d="M647.88 157.6V162.9" stroke="#f23645"/><path d="M648.31 155.1V159.4M648.75 154.5V157.0M649.18 154.9V157.8" stroke="#089981"/><path d="M649.61 154.0V155.9" stroke="#f23645"/><path d="M650.05 152.8V159.2M650.48 151.6V155.9" stroke="#089981"/><path d="M650.92 151.1V154.8" stroke="#f23645"/><path d="M651.35 150.6V157.8" stroke="#089981"/><path d="M651.78 151.4V154.7" stroke="#f23645"/><path d="M652.22 150.3V155.4M652.65 146.4V151.4" stroke="#089981"/><path d="M653.09 148.5V153.2M653.52 148.2V150.7" stroke="#f23645"/><path d="M653.95 146.2V152.7M654.39 141.9V147.6M654.82 137.0V146.1M655.26 132.0V141.2M655.69 131.6V134.2M656.13 129.1V134.5" stroke="#089981"/><path d="M656.56 128.7V132.5M656.99 128.5V132.0" stroke="#f23645"/><path d="M657.43 129.7V131.9" stroke="#089981"/><path d="M657.86 128.1V133.8" stroke="#f23645"/><path d="M658.30 128.7V134.0" stroke="#089981"/><path d="M658.73 129.5V133.4" stroke="#f23645"/><path d="M659.16 128.9V133.3M659.60 126.3V131.6M660.03 125.7V132.0" stroke="#089981"/><path d="M660.47 126.7V132.1M660.90 129.7V130.7" stroke="#f23645"/><path d="M661.33 128.3V132.3" stroke="#089981"/><path d="M661.77 129.1V131.9M662.20 130.3V134.9" stroke="#f23645"/><path d="M662.64 131.9V133.7" stroke="#089981"/><path d="M663.07 131.2V134.9M663.50 133.5V135.5M663.94 134.8V135.8M664.37 134.5V137.8M664.81 135.7V141.1" stroke="#f23645"/><path d="M665.24 138.0V139.4" stroke="#089981"/><path d="M665.67 137.5V140.3M666.11 139.5V141.5" stroke="#f23645"/><path d="M666.54 138.8V140.7M666.98 138.2V141.5M667.41 135.9V138.5" stroke="#089981"/><path d="M667.84 134.6V136.3" stroke="#f23645"/><path d="M668.28 135.6V136.9" stroke="#089981"/><path d="M668.71 135.8V138.6" stroke="#f23645"/><path d="M669.15 137.1V140.7M669.58 135.7V138.9M670.01 133.9V136.8M670.45 133.8V136.9" stroke="#089981"/><path d="M670.88 133.6V138.4M671.32 137.0V140.7M671.75 140.2V143.9M672.18 141.8V149.8" stroke="#f23645"/><path d="M672.62 147.7V149.3M673.05 145.5V148.7M673.49 143.8V145.8M673.92 139.9V145.1M674.35 137.4V140.8M674.79 138.1V139.3" stroke="#089981"/><path d="M675.22 137.4V139.2M675.66 137.0V140.4M676.09 139.5V143.4" stroke="#f23645"/><path d="M676.52 140.5V144.4" stroke="#089981"/><path d="M676.96 140.5V143.5M677.39 142.2V143.2" stroke="#f23645"/><path d="M677.83 141.3V143.4M678.26 139.7V143.3M678.69 136.6V141.0M679.13 135.7V138.8M679.56 133.9V137.4M680.00 132.2V136.3M680.43 131.4V134.2" stroke="#089981"/><path d="M680.86 131.2V135.3" stroke="#f23645"/><path d="M681.30 133.6V135.8" stroke="#089981"/><path d="M681.73 133.6V134.7M682.17 133.7V136.3M682.60 134.7V136.4M683.03 135.6V137.5" stroke="#f23645"/><path d="M683.47 137.0V138.0" stroke="#089981"/><path d="M683.90 136.6V138.8M684.34 137.7V140.4M684.77 139.2V143.4M685.20 142.5V145.6M685.64 144.4V147.7M686.07 145.5V155.6M686.51 147.3V153.5M686.94 152.2V154.3M687.37 151.7V156.8M687.81 154.0V158.8M688.24 157.5V163.2M688.68 162.0V165.7M689.11 164.7V169.0M689.54 168.2V171.7M689.98 170.5V171.5M690.41 170.3V172.5M690.85 170.6V175.7" stroke="#f23645"/><path d="M691.28 172.3V174.9" stroke="#089981"/><path d="M691.71 173.2V180.3M692.15 176.7V177.7M692.58 176.3V179.8" stroke="#f23645"/><path d="M693.02 177.5V180.0M693.45 176.9V178.6M693.88 174.3V178.5" stroke="#089981"/><path d="M694.32 173.9V176.1" stroke="#f23645"/><path d="M694.75 173.7V176.2M695.19 169.3V174.3M695.62 169.4V172.6M696.05 169.1V172.0M696.49 163.5V170.4M696.92 162.4V164.7M697.36 159.6V162.9M697.79 157.7V162.2M698.23 156.1V159.5M698.66 155.3V158.3M699.09 153.9V155.7" stroke="#089981"/><path d="M699.53 151.6V156.6" stroke="#f23645"/><path d="M699.96 154.2V155.8" stroke="#089981"/><path d="M700.40 153.3V155.7" stroke="#f23645"/><path d="M700.83 154.2V156.2M701.26 152.8V155.5" stroke="#089981"/><path d="M701.70 153.3V154.6M702.13 153.6V154.8" stroke="#f23645"/><path d="M702.57 153.1V154.9M703.00 152.9V154.1M703.43 152.0V154.7" stroke="#089981"/><path d="M703.87 151.1V155.4M704.30 153.3V158.2M704.74 156.1V158.9M705.17 156.4V159.4M705.60 155.8V159.6M706.04 158.5V162.8" stroke="#f23645"/><path d="M706.47 160.9V162.3M706.91 158.8V161.2M707.34 158.4V160.7M707.77 156.8V161.4M708.21 156.0V158.3M708.64 155.9V157.3M709.08 154.8V156.1" stroke="#089981"/><path d="M709.51 154.1V156.9M709.94 155.6V157.4" stroke="#f23645"/><path d="M710.38 154.7V157.8" stroke="#089981"/><path d="M710.81 154.3V156.1" stroke="#f23645"/><path d="M711.25 154.7V155.7" stroke="#089981"/><path d="M711.68 153.6V158.6M712.11 155.3V158.2M712.55 157.2V158.7M712.98 157.2V160.8M713.42 158.9V160.9M713.85 159.4V161.9M714.28 161.4V165.5" stroke="#f23645"/><path d="M714.72 163.2V165.7" stroke="#089981"/><path d="M715.15 163.5V166.4M715.59 165.6V169.8M716.02 166.4V169.3M716.45 167.5V171.3M716.89 169.1V172.1M717.32 171.4V173.5M717.76 173.1V175.7M718.19 174.3V175.8M718.62 173.2V178.3M719.06 176.8V180.9" stroke="#f23645"/><path d="M719.49 177.3V180.1M719.93 176.8V179.9M720.36 174.7V177.9M720.79 175.1V176.6" stroke="#089981"/><path d="M721.23 174.5V176.2" stroke="#f23645"/><path d="M721.66 172.0V177.9M722.10 172.8V174.0M722.53 172.4V173.7" stroke="#089981"/><path d="M722.96 172.3V174.9M723.40 172.8V176.7M723.83 174.5V177.5M724.27 175.1V176.4M724.70 174.9V177.4" stroke="#f23645"/><path d="M725.13 175.7V178.1" stroke="#089981"/><path d="M725.57 175.9V179.2" stroke="#f23645"/><path d="M726.00 176.6V180.2M726.44 175.6V178.6M726.87 173.2V175.8M727.30 172.2V175.4M727.74 170.7V172.8M728.17 170.2V172.9M728.61 169.4V170.5M729.04 166.6V170.2" stroke="#089981"/><path d="M729.47 167.2V169.8M729.91 168.0V175.1M730.34 172.3V175.2M730.78 174.0V177.2M731.21 176.5V179.5" stroke="#f23645"/><path d="M731.64 178.0V180.0" stroke="#089981"/><path d="M732.08 178.1V180.1M732.51 179.5V182.8" stroke="#f23645"/><path d="M732.95 179.7V182.8M733.38 179.2V181.5M733.81 177.0V180.3M734.25 175.7V178.3M734.68 173.5V176.3M735.12 172.6V175.0M735.55 170.4V173.6M735.98 171.6V173.4" stroke="#089981"/><path d="M736.42 167.8V175.0M736.85 173.4V178.7M737.29 175.5V182.7M737.72 179.0V183.0M738.15 180.0V187.0M738.59 185.1V190.1M739.02 188.1V192.6M739.46 190.4V194.7M739.89 192.9V197.3M740.33 194.9V201.0M740.76 199.9V202.4M741.19 196.6V201.7" stroke="#f23645"/><path d="M741.63 198.7V201.5M742.06 198.8V201.6" stroke="#089981"/><path d="M742.50 198.8V201.7" stroke="#f23645"/><path d="M742.93 198.4V203.5M743.36 195.5V200.7" stroke="#089981"/><path d="M743.80 199.9V206.7" stroke="#f23645"/><path d="M744.23 201.3V202.3M744.67 200.3V201.9M745.10 199.0V200.8M745.53 198.7V199.7M745.97 195.7V199.8M746.40 196.1V198.3M746.84 193.3V197.2M747.27 193.6V197.4M747.70 192.1V196.0M748.14 188.7V193.8M748.57 188.9V190.9" stroke="#089981"/><path d="M749.01 187.7V192.0M749.44 189.7V199.7M749.87 195.7V198.2M750.31 196.7V202.1M750.74 199.5V206.4M751.18 205.1V208.9M751.61 205.2V212.4M752.04 205.2V212.3M752.48 209.0V218.9M752.91 215.9V222.2M753.35 220.2V226.4M753.78 223.2V229.0M754.21 225.9V231.2" stroke="#f23645"/><path d="M754.65 228.6V229.6M755.08 222.1V230.2" stroke="#089981"/><path d="M755.52 224.3V228.0" stroke="#f23645"/><path d="M755.95 226.2V229.4M756.38 223.7V227.3M756.82 223.0V225.4M757.25 221.2V223.1M757.69 216.7V223.0M758.12 217.3V220.8M758.55 217.6V220.0M758.99 216.7V219.9" stroke="#089981"/><path d="M759.42 215.5V217.9" stroke="#f23645"/><path d="M759.86 213.6V218.9M760.29 210.3V214.1M760.72 208.6V211.4" stroke="#089981"/><path d="M761.16 207.5V210.4" stroke="#f23645"/><path d="M761.59 205.0V211.5" stroke="#089981"/><path d="M762.03 206.8V212.5M762.46 209.2V211.2" stroke="#f23645"/><path d="M762.89 209.7V210.8M763.33 208.6V210.8" stroke="#089981"/><path d="M763.76 206.8V209.7M764.20 208.4V211.1" stroke="#f23645"/><path d="M764.63 208.6V209.7M765.06 207.3V209.4" stroke="#089981"/><path d="M765.50 206.2V209.2" stroke="#f23645"/><path d="M765.93 207.8V208.8M766.37 203.2V209.6" stroke="#089981"/><path d="M766.80 207.8V209.4M767.23 208.1V209.8" stroke="#f23645"/><path d="M767.67 206.9V209.9M768.10 205.6V209.3" stroke="#089981"/><path d="M768.54 206.6V210.5" stroke="#f23645"/><path d="M768.97 207.6V209.5" stroke="#089981"/><path d="M769.40 207.3V210.0M769.84 207.7V209.9M770.27 209.2V211.4M770.71 209.0V213.6" stroke="#f23645"/><path d="M771.14 211.1V214.0" stroke="#089981"/><path d="M771.57 211.2V212.2" stroke="#f23645"/><path d="M772.01 208.9V211.9M772.44 208.2V210.7M772.88 204.5V208.9" stroke="#089981"/><path d="M773.31 204.6V205.6" stroke="#f23645"/><path d="M773.74 204.2V205.2" stroke="#089981"/><path d="M774.18 203.9V205.7M774.61 204.5V206.8M775.05 205.5V207.5" stroke="#f23645"/><path d="M775.48 204.7V207.2" stroke="#089981"/><path d="M775.91 205.6V207.1M776.35 206.1V209.4" stroke="#f23645"/><path d="M776.78 207.0V209.4" stroke="#089981"/><path d="M777.22 207.5V209.7" stroke="#f23645"/><path d="M777.65 206.7V208.6" stroke="#089981"/><path d="M778.08 207.5V208.8M778.52 208.1V209.7M778.95 208.8V212.7" stroke="#f23645"/><path d="M779.39 210.6V212.7" stroke="#089981"/><path d="M779.82 210.9V212.9" stroke="#f23645"/><path d="M780.26 210.6V212.6" stroke="#089981"/><path d="M780.69 210.8V212.0" stroke="#f23645"/><path d="M781.12 210.5V212.9M781.56 209.8V212.0M781.99 209.3V211.1M782.43 207.8V211.0" stroke="#089981"/><path d="M782.86 207.7V209.7" stroke="#f23645"/><path d="M783.29 207.2V210.1M783.73 206.8V208.3M784.16 205.7V207.9M784.60 206.6V207.6M785.03 205.5V208.7" stroke="#089981"/><path d="M785.46 205.8V207.3" stroke="#f23645"/><path d="M785.90 205.9V207.1M786.33 206.2V207.3" stroke="#089981"/><path d="M786.77 206.3V207.7" stroke="#f23645"/><path d="M787.20 206.3V207.5" stroke="#089981"/><path d="M787.63 205.5V207.8M788.07 206.0V209.0M788.50 207.3V208.9" stroke="#f23645"/><path d="M788.94 207.4V209.1" stroke="#089981"/><path d="M789.37 207.2V211.4" stroke="#f23645"/><path d="M789.80 207.6V209.3" stroke="#089981"/><path d="M790.24 208.4V210.2M790.67 209.4V210.4" stroke="#f23645"/><path d="M791.11 203.9V210.2" stroke="#089981"/><path d="M791.54 208.2V213.3M791.97 209.0V211.2M792.41 210.1V211.7M792.84 210.9V212.4M793.28 211.7V212.8M793.71 212.5V213.5M794.14 212.4V215.4" stroke="#f23645"/><path d="M794.58 214.3V215.6M795.01 212.7V216.0M795.45 207.5V215.3M795.88 201.4V209.6M796.31 199.5V205.2M796.75 198.5V200.6" stroke="#089981"/><path d="M797.18 198.9V201.2M797.62 199.2V202.2" stroke="#f23645"/><path d="M798.05 199.7V200.8" stroke="#089981"/><path d="M798.48 199.8V202.9M798.92 200.8V204.2" stroke="#f23645"/><path d="M799.35 199.4V203.8M799.79 198.3V201.6M800.22 198.0V199.8M800.65 194.1V198.9M801.09 193.9V197.1M801.52 191.8V196.3M801.96 189.1V194.1M802.39 187.7V190.5M802.82 184.8V189.4" stroke="#089981"/><path d="M803.26 186.3V188.4M803.69 187.9V188.9M804.13 188.0V189.8M804.56 188.6V191.9M804.99 188.8V194.1M805.43 191.8V193.5M805.86 191.5V194.3M806.30 192.4V195.6M806.73 194.8V198.0M807.16 196.6V199.9M807.60 196.8V203.1M808.03 201.5V204.2" stroke="#f23645"/><path d="M808.47 199.7V205.1M808.90 201.3V207.4M809.33 197.8V201.9M809.77 196.6V200.5M810.20 195.2V198.6M810.64 192.2V196.8M811.07 189.9V197.0M811.50 187.5V190.8M811.94 184.3V191.4M812.37 179.8V185.8M812.81 177.3V180.5M813.24 176.1V179.6M813.67 170.9V177.5M814.11 171.1V174.6" stroke="#089981"/><path d="M814.54 171.2V172.4M814.98 170.6V173.6" stroke="#f23645"/><path d="M815.41 171.7V175.8" stroke="#089981"/><path d="M815.84 171.2V174.9" stroke="#f23645"/><path d="M816.28 174.1V175.2" stroke="#089981"/><path d="M816.71 174.4V175.4" stroke="#f23645"/><path d="M817.15 173.1V175.6M817.58 172.4V174.5" stroke="#089981"/><path d="M818.01 172.7V174.8" stroke="#f23645"/><path d="M818.45 172.1V174.0M818.88 171.5V172.5" stroke="#089981"/><path d="M819.32 171.3V173.4" stroke="#f23645"/><path d="M819.75 171.2V174.5" stroke="#089981"/><path d="M820.18 168.8V173.2" stroke="#f23645"/><path d="M820.62 169.9V174.5" stroke="#089981"/><path d="M821.05 171.4V174.2M821.49 171.8V175.2M821.92 173.0V177.0M822.36 176.2V178.0M822.79 177.7V179.7M823.22 178.3V183.0" stroke="#f23645"/><path d="M823.66 178.7V182.0M824.09 176.0V180.6" stroke="#089981"/><path d="M824.53 175.9V178.7" stroke="#f23645"/><path d="M824.96 173.3V177.0M825.39 173.0V175.2M825.83 172.1V173.8" stroke="#089981"/><path d="M826.26 172.1V175.6M826.70 172.6V176.5M827.13 174.4V178.0" stroke="#f23645"/><path d="M827.56 172.8V176.7" stroke="#089981"/><path d="M828.00 174.4V175.7M828.43 174.7V176.7M828.87 175.5V181.7M829.30 177.5V183.0M829.73 178.3V180.1M830.17 179.3V182.1M830.60 180.5V183.9M831.04 181.8V184.9M831.47 183.0V186.3M831.90 185.2V187.2M832.34 185.6V188.5M832.77 187.5V191.7M833.21 190.0V195.3M833.64 193.1V199.6M834.07 197.7V202.2M834.51 200.7V203.2M834.94 202.7V204.9" stroke="#f23645"/><path d="M835.38 202.7V204.9M835.81 201.6V204.3M836.24 203.3V204.6" stroke="#089981"/><path d="M836.68 202.5V204.7" stroke="#f23645"/><path d="M837.11 202.2V204.3M837.55 201.8V202.8M837.98 198.0V202.6M838.41 196.3V200.2M838.85 192.9V197.5M839.28 191.1V195.8M839.72 189.1V195.1M840.15 183.4V191.2M840.58 177.9V185.7M841.02 170.4V179.9M841.45 163.0V172.4M841.89 155.4V164.8M842.32 152.3V156.9M842.75 150.2V154.9M843.19 144.2V151.2" stroke="#089981"/><path d="M843.62 145.6V153.0M844.06 150.0V156.9M844.49 149.8V160.1M844.92 158.4V165.3M845.36 163.6V170.3M845.79 166.6V168.7M846.23 167.5V170.4M846.66 169.9V172.6M847.09 169.9V175.1M847.53 172.3V178.7M847.96 175.7V179.3M848.40 177.1V180.4M848.83 179.4V184.0M849.26 182.6V192.9M849.70 188.0V193.4M850.13 189.8V195.4M850.57 193.7V199.9" stroke="#f23645"/><path d="M851.00 197.2V199.8" stroke="#089981"/><path d="M851.43 197.9V200.7" stroke="#f23645"/><path d="M851.87 199.2V201.6M852.30 196.9V199.6" stroke="#089981"/><path d="M852.74 198.6V200.8" stroke="#f23645"/><path d="M853.17 195.1V200.2" stroke="#089981"/><path d="M853.60 196.3V199.2M854.04 196.8V200.5M854.47 196.9V200.0" stroke="#f23645"/><path d="M854.91 196.8V200.1M855.34 195.0V199.5" stroke="#089981"/><path d="M855.77 194.1V197.3M856.21 191.0V197.9M856.64 193.5V200.0M857.08 198.7V200.8M857.51 196.1V201.6" stroke="#f23645"/><path d="M857.94 199.8V201.5M858.38 199.4V201.7M858.81 199.0V200.9" stroke="#089981"/><path d="M859.25 197.4V203.6" stroke="#f23645"/><path d="M859.68 198.4V203.6M860.11 197.9V201.0M860.55 194.3V198.9M860.98 195.7V197.8M861.42 195.4V201.0M861.85 192.4V197.5M862.28 190.0V194.8" stroke="#089981"/><path d="M862.72 191.2V193.0" stroke="#f23645"/><path d="M863.15 188.6V194.2M863.59 191.9V194.2" stroke="#089981"/><path d="M864.02 192.1V195.9" stroke="#f23645"/><path d="M864.46 193.6V196.3" stroke="#089981"/><path d="M864.89 194.1V196.1M865.32 193.8V197.5M865.76 195.6V198.4M866.19 194.6V198.8M866.63 198.1V202.7M867.06 199.8V207.2M867.49 204.9V209.1M867.93 204.7V209.8M868.36 205.6V211.6" stroke="#f23645"/><path d="M868.80 208.3V210.2M869.23 206.1V208.6M869.66 203.6V208.4M870.10 203.1V206.0M870.53 202.5V205.9M870.97 201.3V204.4M871.40 201.5V204.2" stroke="#089981"/><path d="M871.83 201.0V203.2" stroke="#f23645"/><path d="M872.27 196.8V202.8M872.70 195.7V197.9M873.14 190.0V197.5M873.57 191.6V195.4M874.00 189.6V192.5M874.44 188.6V191.6M874.87 183.9V189.7M875.31 184.2V186.5M875.74 183.1V185.5" stroke="#089981"/><path d="M876.17 181.7V185.2M876.61 182.4V186.6" stroke="#f23645"/><path d="M877.04 184.3V185.6" stroke="#089981"/><path d="M877.48 182.8V189.1" stroke="#f23645"/><path d="M877.91 182.7V186.0" stroke="#089981"/><path d="M878.34 183.6V187.5M878.78 186.6V189.9M879.21 186.6V189.3M879.65 186.6V188.3M880.08 187.5V191.1M880.51 190.6V191.8M880.95 190.0V193.4M881.38 192.4V193.5" stroke="#f23645"/><path d="M881.82 191.3V193.7M882.25 189.9V191.7M882.68 184.4V190.7M883.12 182.2V186.5M883.55 181.3V183.0M883.99 179.2V182.5M884.42 176.3V183.9M884.85 176.9V180.9M885.29 174.4V178.5M885.72 172.4V175.8" stroke="#089981"/><path d="M886.16 172.3V174.5M886.59 173.8V177.4M887.02 175.9V180.1M887.46 177.4V180.5M887.89 179.2V183.2M888.33 180.5V185.4M888.76 185.0V188.2M889.19 187.4V189.2" stroke="#f23645"/><path d="M889.63 188.1V189.3M890.06 187.2V189.2M890.50 185.2V188.2M890.93 183.2V186.4M891.36 181.5V185.7M891.80 180.2V182.3M892.23 179.5V181.7M892.67 178.1V180.2M893.10 177.6V180.2M893.53 177.2V178.3M893.97 174.3V178.2M894.40 175.8V179.3M894.84 175.5V176.5" stroke="#089981"/><path d="M895.27 175.4V178.1" stroke="#f23645"/><path d="M895.70 174.9V176.3" stroke="#089981"/><path d="M896.14 175.0V176.0" stroke="#f23645"/><path d="M896.57 171.6V175.6M897.01 169.1V173.2M897.44 169.6V172.8" stroke="#089981"/><path d="M897.87 170.2V172.0" stroke="#f23645"/><path d="M898.31 170.4V171.4" stroke="#089981"/><path d="M898.74 170.6V173.3" stroke="#f23645"/><path d="M899.18 170.2V172.5" stroke="#089981"/><path d="M899.61 171.1V173.6M900.04 172.6V175.4" stroke="#f23645"/><path d="M900.48 171.6V173.6M900.91 169.6V171.9" stroke="#089981"/><path d="M901.35 167.3V170.5" stroke="#f23645"/><path d="M901.78 168.9V170.3M902.21 168.1V170.3" stroke="#089981"/><path d="M902.65 168.2V171.0M903.08 169.2V174.1M903.52 172.0V180.7M903.95 179.4V185.9M904.38 182.5V186.0" stroke="#f23645"/><path d="M904.82 181.8V185.9M905.25 181.8V185.0M905.69 180.5V182.5M906.12 179.3V181.9M906.56 178.5V179.9M906.99 178.0V179.8M907.42 177.9V178.9" stroke="#089981"/><path d="M907.86 177.4V178.7" stroke="#f23645"/><path d="M908.29 178.0V179.4" stroke="#089981"/><path d="M908.73 177.7V178.9" stroke="#f23645"/><path d="M909.16 176.6V178.2M909.59 174.6V177.9" stroke="#089981"/><path d="M910.03 174.7V177.9" stroke="#f23645"/><path d="M910.46 175.9V176.9M910.90 174.6V176.6M911.33 173.3V176.3M911.76 171.1V174.2M912.20 172.4V173.4" stroke="#089981"/><path d="M912.63 172.3V174.8" stroke="#f23645"/><path d="M913.07 172.6V174.5" stroke="#089981"/><path d="M913.50 173.4V175.2" stroke="#f23645"/><path d="M913.93 173.6V174.9M914.37 172.1V174.1" stroke="#089981"/><path d="M914.80 172.3V173.8" stroke="#f23645"/><path d="M915.24 171.6V174.0M915.67 172.3V173.3M916.10 171.3V173.0M916.54 171.8V172.8M916.97 168.9V172.6" stroke="#089981"/><path d="M917.41 168.8V170.6" stroke="#f23645"/><path d="M917.84 169.1V171.0" stroke="#089981"/><path d="M918.27 168.7V170.8" stroke="#f23645"/><path d="M918.71 169.2V170.2" stroke="#089981"/><path d="M919.14 167.7V170.3" stroke="#f23645"/><path d="M919.58 168.4V170.8" stroke="#089981"/><path d="M920.01 168.7V169.7" stroke="#f23645"/><path d="M920.44 168.6V169.8M920.88 166.3V174.6M921.31 167.3V168.7" stroke="#089981"/><path d="M921.75 166.4V168.5M922.18 168.2V169.9" stroke="#f23645"/><path d="M922.61 168.6V170.1" stroke="#089981"/><path d="M923.05 168.4V170.5M923.48 168.7V172.0M923.92 169.9V171.6M924.35 170.2V171.3M924.78 169.9V172.6M925.22 171.6V174.2" stroke="#f23645"/><path d="M925.65 172.6V174.0" stroke="#089981"/><path d="M926.09 172.9V175.7" stroke="#f23645"/><path d="M926.52 170.6V174.7M926.95 171.6V172.8M927.39 168.0V172.6" stroke="#089981"/><path d="M927.82 170.4V172.9" stroke="#f23645"/><path d="M928.26 169.7V172.4M928.69 170.0V171.0M929.12 169.8V170.8M929.56 169.6V170.8" stroke="#089981"/><path d="M929.99 169.1V171.8" stroke="#f23645"/><path d="M930.43 169.2V170.9M930.86 167.9V170.3M931.29 168.6V170.2M931.73 167.9V169.3M932.16 162.5V169.4" stroke="#089981"/><path d="M932.60 167.2V169.5" stroke="#f23645"/><path d="M933.03 167.0V169.8" stroke="#089981"/><path d="M933.46 167.6V169.2M933.90 168.8V169.9M934.33 168.4V170.6M934.77 169.7V171.2" stroke="#f23645"/><path d="M935.20 169.5V171.4M935.63 168.7V170.3" stroke="#089981"/><path d="M936.07 169.1V171.7M936.50 170.9V172.1M936.94 171.5V172.5" stroke="#f23645"/><path d="M937.37 170.4V172.8M937.80 170.1V172.8M938.24 169.3V171.5" stroke="#089981"/><path d="M938.67 169.3V170.4" stroke="#f23645"/><path d="M939.11 169.6V170.6M939.54 166.3V169.6" stroke="#089981"/><path d="M939.97 168.0V170.4" stroke="#f23645"/><path d="M940.41 166.7V170.6M940.84 164.8V168.2M941.28 161.7V166.1M941.71 160.3V163.9M942.14 157.9V162.4M942.58 155.0V159.7M943.01 151.0V155.3M943.45 150.3V153.5" stroke="#089981"/></g>
<path d="M618.4 97.3V174" stroke="#089981" stroke-width="0.9"/><path d="M618.4 174V205.3" stroke="#f23645" stroke-width="0.9"/>
</g>
<!-- legend main -->
<g font-size="11.5" fill="#b4b4b4">
<text x="15.8" y="40.7" textLength="161.3" lengthAdjust="spacingAndGlyphs">Bitcoin / U.S. Dollar · 30 · Binance</text>
<text x="183.8" y="40.7" textLength="58.2" lengthAdjust="spacingAndGlyphs">O<tspan fill="#089981">113,197.83</tspan></text>
<text x="248.9" y="40.7" textLength="57.6" lengthAdjust="spacingAndGlyphs">H<tspan fill="#089981">113,715.28</tspan></text>
<text x="313.3" y="40.7" textLength="56.1" lengthAdjust="spacingAndGlyphs">L<tspan fill="#089981">113,197.83</tspan></text>
<text x="375.9" y="40.7" textLength="57.2" lengthAdjust="spacingAndGlyphs">C<tspan fill="#089981">113,491.89</tspan></text>
<text x="440" y="40.7" fill="#089981" textLength="77.8" lengthAdjust="spacingAndGlyphs">+310.76 (+0.27%)</text>
</g>
<!-- RSI -->
<rect x="9" y="296.5" width="938" height="49.5" fill="#7e57c2" opacity="0.1"/>
<path d="M9.4 296.5H947M9.4 321H947M9.4 346H947" stroke="#787b86" stroke-width="1" stroke-dasharray="3.81 3.81" opacity="0.65" clip-path="url(#cp)"/>
<g clip-path="url(#cp)">
<path d="M9.0 324.3L9.4 313.1L9.9 320.2L10.3 294.4L10.7 310.3L11.2 314.8L11.6 309.3L12.0 315.7L12.5 304.8L12.9 304.4L13.3 304.0L13.8 308.4L14.2 303.5L14.6 302.7L15.1 301.1L15.5 297.5L15.9 301.4L16.4 304.5L16.8 296.0L17.2 298.2L17.7 301.8L18.1 301.7L18.5 299.8L19.0 294.3L19.4 294.0L19.9 296.1L20.3 298.9L20.7 306.4L21.2 304.9L21.6 307.6L22.0 314.0L22.5 316.3L22.9 315.8L23.3 323.3L23.8 323.9L24.2 317.1L24.6 315.0L25.1 317.7L25.5 315.4L25.9 316.0L26.4 319.1L26.8 323.1L27.2 323.1L27.7 316.7L28.1 311.5L28.5 311.2L29.0 308.7L29.4 310.2L29.8 309.0L30.3 322.3L30.7 302.3L31.1 319.0L31.6 297.1L32.0 298.0L32.4 298.0L32.9 303.9L33.3 306.3L33.7 309.9L34.2 307.6L34.6 309.2L35.0 306.8L35.5 317.5L35.9 319.7L36.3 309.1L36.8 312.2L37.2 309.4L37.6 313.8L38.1 314.1L38.5 318.8L38.9 316.4L39.4 322.1L39.8 327.6L40.2 317.5L40.7 325.7L41.1 324.5L41.6 322.2L42.0 327.1L42.4 327.1L42.9 323.8L43.3 324.1L43.7 321.0L44.2 319.1L44.6 312.2L45.0 326.4L45.5 316.6L45.9 314.6L46.3 317.7L46.8 321.7L47.2 325.6L47.6 329.7L48.1 330.0L48.5 329.0L48.9 329.0L49.4 347.1L49.8 330.4L50.2 331.9L50.7 338.5L51.1 340.9L51.5 339.2L52.0 339.0L52.4 338.5L52.8 336.5L53.3 336.1L53.7 328.3L54.1 331.3L54.6 319.8L55.0 324.3L55.4 330.6L55.9 327.6L56.3 323.3L56.7 320.3L57.2 326.5L57.6 324.3L58.0 318.5L58.5 321.1L58.9 319.3L59.3 321.8L59.8 320.7L60.2 322.8L60.6 320.6L61.1 323.7L61.5 321.2L62.0 322.3L62.4 329.4L62.8 323.6L63.3 330.5L63.7 325.9L64.1 330.0L64.6 322.1L65.0 326.3L65.4 322.6L65.9 325.9L66.3 316.8L66.7 327.4L67.2 323.1L67.6 324.2L68.0 329.6L68.5 330.6L68.9 325.3L69.3 334.5L69.8 329.1L70.2 330.7L70.6 330.2L71.1 324.1L71.5 336.5L71.9 333.6L72.4 335.6L72.8 337.2L73.2 327.8L73.7 335.4L74.1 326.8L74.5 323.6L75.0 317.4L75.4 324.3L75.8 319.8L76.3 313.1L76.7 319.0L77.1 316.9L77.6 315.4L78.0 307.6L78.4 318.1L78.9 308.5L79.3 317.7L79.7 316.3L80.2 312.9L80.6 307.3L81.0 311.2L81.5 310.8L81.9 311.6L82.3 311.8L82.8 311.8L83.2 312.5L83.7 317.2L84.1 315.0L84.5 315.9L85.0 319.6L85.4 321.6L85.8 320.3L86.3 319.1L86.7 323.4L87.1 323.2L87.6 330.3L88.0 334.8L88.4 329.4L88.9 340.5L89.3 330.3L89.7 332.2L90.2 329.9L90.6 330.8L91.0 325.0L91.5 334.3L91.9 330.4L92.3 327.2L92.8 323.0L93.2 326.6L93.6 325.5L94.1 329.4L94.5 320.5L94.9 320.1L95.4 317.9L95.8 314.0L96.2 313.4L96.7 320.3L97.1 318.9L97.5 313.7L98.0 319.3L98.4 316.1L98.8 318.3L99.3 319.9L99.7 316.8L100.1 321.1L100.6 320.3L101.0 317.4L101.4 315.3L101.9 314.4L102.3 317.6L102.7 314.3L103.2 328.4L103.6 304.7L104.1 310.4L104.5 314.5L104.9 309.1L105.4 310.0L105.8 304.4L106.2 310.8L106.7 318.9L107.1 319.7L107.5 320.4L108.0 321.2L108.4 329.3L108.8 323.2L109.3 329.0L109.7 325.4L110.1 334.1L110.6 329.8L111.0 328.3L111.4 329.6L111.9 325.9L112.3 316.3L112.7 327.2L113.2 323.0L113.6 323.3L114.0 318.9L114.5 318.5L114.9 309.8L115.3 311.3L115.8 280.6L116.2 303.5L116.6 296.4L117.1 303.5L117.5 290.4L117.9 300.0L118.4 297.7L118.8 306.4L119.2 303.2L119.7 306.0L120.1 305.5L120.5 303.6L121.0 309.9L121.4 305.1L121.8 310.5L122.3 310.9L122.7 306.0L123.1 312.5L123.6 306.7L124.0 306.0L124.4 311.8L124.9 311.5L125.3 314.3L125.8 313.7L126.2 310.6L126.6 316.5L127.1 320.2L127.5 312.5L127.9 317.6L128.4 313.4L128.8 325.6L129.2 328.5L129.7 315.9L130.1 320.9L130.5 325.1L131.0 335.6L131.4 332.6L131.8 339.0L132.3 333.8L132.7 336.7L133.1 329.6L133.6 344.7L134.0 336.6L134.4 334.4L134.9 336.1L135.3 341.4L135.7 339.4L136.2 337.3L136.6 334.6L137.0 338.3L137.5 340.5L137.9 333.9L138.3 330.2L138.8 325.5L139.2 326.8L139.6 323.8L140.1 322.8L140.5 321.0L140.9 310.0L141.4 317.3L141.8 318.6L142.2 308.6L142.7 311.4L143.1 312.8L143.5 309.9L144.0 302.3L144.4 301.8L144.8 306.8L145.3 302.0L145.7 303.3L146.2 307.9L146.6 309.5L147.0 312.6L147.5 312.5L147.9 312.5L148.3 308.6L148.8 313.8L149.2 310.7L149.6 309.2L150.1 312.4L150.5 313.6L150.9 316.3L151.4 307.7L151.8 305.4L152.2 307.9L152.7 307.8L153.1 305.4L153.5 309.4L154.0 301.0L154.4 301.0L154.8 302.9L155.3 304.1L155.7 300.4L156.1 303.5L156.6 310.8L157.0 306.7L157.4 307.7L157.9 312.2L158.3 311.1L158.7 317.5L159.2 314.9L159.6 322.4L160.0 297.8L160.5 319.1L160.9 316.9L161.3 316.7L161.8 322.2L162.2 321.5L162.6 325.0L163.1 328.8L163.5 326.2L163.9 327.2L164.4 328.9L164.8 329.4L165.2 333.5L165.7 330.1L166.1 334.5L166.5 341.0L167.0 340.4L167.4 343.2L167.9 336.7L168.3 337.6L168.7 340.2L169.2 330.8L169.6 331.8L170.0 331.0L170.5 334.0L170.9 338.2L171.3 330.8L171.8 329.6L172.2 336.9L172.6 338.9L173.1 342.5L173.5 346.2L173.9 346.6L174.4 346.8L174.8 335.9L175.2 346.0L175.7 351.3L176.1 348.1L176.5 344.4L177.0 345.7L177.4 344.1L177.8 345.2L178.3 343.0L178.7 341.0L179.1 330.6L179.6 341.7L180.0 339.5L180.4 342.2L180.9 337.3L181.3 333.1L181.7 336.4L182.2 337.6L182.6 332.8L183.0 334.3L183.5 333.5L183.9 341.0L184.3 341.1L184.8 336.8L185.2 336.4L185.6 332.9L186.1 335.1L186.5 330.4L186.9 328.7L187.4 329.7L187.8 325.7L188.3 326.8L188.7 323.2L189.1 328.2L189.6 330.5L190.0 341.2L190.4 320.4L190.9 319.8L191.3 313.5L191.7 310.9L192.2 313.5L192.6 312.2L193.0 308.1L193.5 310.4L193.9 318.1L194.3 322.9L194.8 309.0L195.2 315.2L195.6 316.6L196.1 307.8L196.5 320.4L196.9 310.0L197.4 309.5L197.8 308.8L198.2 315.4L198.7 316.1L199.1 317.1L199.5 307.0L200.0 315.1L200.4 316.1L200.8 315.0L201.3 320.9L201.7 324.4L202.1 323.3L202.6 319.0L203.0 321.6L203.4 324.1L203.9 329.5L204.3 325.5L204.7 330.2L205.2 320.8L205.6 329.4L206.0 328.5L206.5 328.2L206.9 334.8L207.3 329.3L207.8 332.9L208.2 334.7L208.6 332.3L209.1 335.8L209.5 327.2L210.0 329.6L210.4 325.9L210.8 327.2L211.3 319.9L211.7 342.4L212.1 329.8L212.6 328.1L213.0 329.5L213.4 323.7L213.9 327.3L214.3 332.8L214.7 329.4L215.2 330.2L215.6 330.2L216.0 328.0L216.5 331.5L216.9 333.7L217.3 326.2L217.8 330.1L218.2 333.8L218.6 327.1L219.1 331.3L219.5 335.7L219.9 330.3L220.4 325.2L220.8 330.0L221.2 330.9L221.7 329.0L222.1 331.2L222.5 331.1L223.0 317.5L223.4 331.6L223.8 332.1L224.3 332.5L224.7 334.4L225.1 336.7L225.6 344.1L226.0 337.8L226.4 329.0L226.9 333.2L227.3 333.0L227.7 339.6L228.2 344.9L228.6 344.7L229.0 350.7L229.5 350.9L229.9 346.9L230.4 353.2L230.8 349.9L231.2 356.7L231.7 356.3L232.1 353.4L232.5 359.7L233.0 363.9L233.4 356.8L233.8 349.3L234.3 349.7L234.7 351.9L235.1 348.5L235.6 348.3L236.0 340.4L236.4 346.8L236.9 348.7L237.3 343.2L237.7 339.0L238.2 336.8L238.6 340.1L239.0 335.5L239.5 337.4L239.9 332.3L240.3 337.8L240.8 341.8L241.2 339.3L241.6 331.5L242.1 332.0L242.5 335.4L242.9 336.7L243.4 338.7L243.8 335.7L244.2 336.3L244.7 334.6L245.1 333.3L245.5 325.4L246.0 329.0L246.4 330.0L246.8 328.4L247.3 335.3L247.7 322.7L248.1 322.1L248.6 323.5L249.0 318.0L249.4 319.2L249.9 324.4L250.3 315.6L250.7 314.7L251.2 312.0L251.6 313.0L252.1 319.1L252.5 315.1L252.9 322.8L253.4 316.4L253.8 314.2L254.2 316.4L254.7 318.6L255.1 320.0L255.5 316.5L256.0 297.1L256.4 320.6L256.8 326.2L257.3 327.5L257.7 322.1L258.1 324.1L258.6 317.8L259.0 324.2L259.4 330.5L259.9 332.0L260.3 335.3L260.7 331.2L261.2 334.4L261.6 338.5L262.0 335.8L262.5 304.5L262.9 337.6L263.3 336.3L263.8 332.0L264.2 333.5L264.6 328.9L265.1 327.8L265.5 333.3L265.9 330.9L266.4 317.2L266.8 324.0L267.2 325.3L267.7 318.2L268.1 316.9L268.5 316.8L269.0 312.5L269.4 322.3L269.8 317.8L270.3 320.7L270.7 332.4L271.1 316.1L271.6 317.4L272.0 314.4L272.5 298.1L272.9 313.0L273.3 307.3L273.8 316.4L274.2 310.3L274.6 313.0L275.1 300.8L275.5 300.8L275.9 300.8L276.4 301.1L276.8 299.3L277.2 297.0L277.7 295.6L278.1 299.1L278.5 299.4L279.0 304.3L279.4 299.2L279.8 295.6L280.3 293.2L280.7 295.0L281.1 300.9L281.6 305.4L282.0 305.4L282.4 314.5L282.9 307.3L283.3 311.1L283.7 316.4L284.2 304.4L284.6 316.2L285.0 324.5L285.5 328.6L285.9 329.2L286.3 330.2L286.8 335.2L287.2 338.6L287.6 338.2L288.1 345.5L288.5 348.8L288.9 350.8L289.4 341.8L289.8 342.3L290.2 350.0L290.7 354.0L291.1 354.7L291.5 343.3L292.0 343.4L292.4 346.5L292.8 348.7L293.3 350.3L293.7 346.5L294.2 323.6L294.6 343.1L295.0 347.6L295.5 336.9L295.9 338.1L296.3 342.0L296.8 345.0L297.2 341.2L297.6 344.8L298.1 335.0L298.5 339.2L298.9 335.4L299.4 333.1L299.8 338.4L300.2 336.3L300.7 341.8L301.1 344.1L301.5 343.2L302.0 341.4L302.4 340.5L302.8 341.6L303.3 344.9L303.7 344.2L304.1 348.2L304.6 349.0L305.0 345.8L305.4 347.2L305.9 343.4L306.3 344.6L306.7 345.5L307.2 344.6L307.6 346.9L308.0 341.8L308.5 346.3L308.9 342.4L309.3 337.1L309.8 334.3L310.2 336.8L310.6 340.0L311.1 348.7L311.5 332.5L311.9 324.6L312.4 324.2L312.8 323.9L313.2 319.8L313.7 324.3L314.1 323.4L314.6 331.3L315.0 327.6L315.4 317.2L315.9 328.3L316.3 326.5L316.7 328.1L317.2 331.6L317.6 340.2L318.0 330.6L318.5 321.9L318.9 320.1L319.3 323.8L319.8 326.3L320.2 315.8L320.6 320.2L321.1 324.8L321.5 315.8L321.9 317.5L322.4 319.0L322.8 319.8L323.2 322.7L323.7 321.2L324.1 311.4L324.5 315.6L325.0 315.1L325.4 315.6L325.8 314.8L326.3 324.2L326.7 323.6L327.1 322.4L327.6 326.6L328.0 328.7L328.4 327.4L328.9 326.9L329.3 323.4L329.7 320.9L330.2 322.4L330.6 324.8L331.0 327.1L331.5 337.6L331.9 319.8L332.3 319.6L332.8 323.5L333.2 322.4L333.6 340.5L334.1 325.8L334.5 326.3L334.9 332.8L335.4 336.4L335.8 338.2L336.3 334.1L336.7 327.7L337.1 325.4L337.6 322.1L338.0 322.6L338.4 328.3L338.9 327.1L339.3 326.2L339.7 322.7L340.2 322.4L340.6 323.4L341.0 317.6L341.5 320.6L341.9 325.1L342.3 316.9L342.8 319.2L343.2 317.9L343.6 317.9L344.1 323.3L344.5 320.3L344.9 307.9L345.4 316.2L345.8 321.1L346.2 319.5L346.7 313.9L347.1 314.5L347.5 319.6L348.0 317.5L348.4 314.4L348.8 325.6L349.3 311.7L349.7 310.5L350.1 306.3L350.6 314.6L351.0 322.3L351.4 316.9L351.9 326.9L352.3 327.3L352.7 313.4L353.2 324.8L353.6 323.2L354.0 327.2L354.5 330.3L354.9 331.7L355.3 324.5L355.8 333.0L356.2 333.5L356.7 338.4L357.1 333.2L357.5 328.8L358.0 324.0L358.4 326.6L358.8 325.0L359.3 329.9L359.7 332.6L360.1 322.8L360.6 314.9L361.0 314.8L361.4 310.0L361.9 312.9L362.3 305.7L362.7 303.9L363.2 298.9L363.6 301.7L364.0 295.2L364.5 293.4L364.9 289.4L365.3 293.9L365.8 288.4L366.2 281.2L366.6 279.6L367.1 278.5L367.5 279.3L367.9 278.7L368.4 274.0L368.8 272.8L369.2 272.2L369.7 273.6L370.1 271.0L370.5 273.3L371.0 278.4L371.4 278.6L371.8 273.7L372.3 295.5L372.7 286.0L373.1 270.0L373.6 287.4L374.0 293.5L374.4 283.2L374.9 293.4L375.3 291.2L375.7 290.4L376.2 289.8L376.6 295.2L377.0 294.4L377.5 291.5L377.9 300.5L378.4 297.8L378.8 296.5L379.2 297.1L379.7 299.4L380.1 297.1L380.5 293.8L381.0 289.1L381.4 296.7L381.8 292.6L382.3 284.9L382.7 289.1L383.1 283.7L383.6 290.3L384.0 283.1L384.4 283.9L384.9 285.4L385.3 288.1L385.7 290.8L386.2 299.1L386.6 293.7L387.0 296.2L387.5 291.6L387.9 292.5L388.3 288.3L388.8 290.0L389.2 286.6L389.6 273.8L390.1 289.9L390.5 297.1L390.9 296.3L391.4 296.0L391.8 290.8L392.2 295.4L392.7 299.4L393.1 304.1L393.5 306.6L394.0 308.3L394.4 317.4L394.8 314.4L395.3 315.8L395.7 316.5L396.1 313.3L396.6 318.8L397.0 324.9L397.4 328.7L397.9 327.6L398.3 327.6L398.8 330.5L399.2 334.3L399.6 338.3L400.1 359.9L400.5 340.4L400.9 345.2L401.4 341.8L401.8 340.7L402.2 339.9L402.7 333.7L403.1 337.7L403.5 331.9L404.0 333.4L404.4 329.8L404.8 322.7L405.3 319.3L405.7 312.7L406.1 315.0L406.6 318.5L407.0 317.7L407.4 315.2L407.9 316.0L408.3 313.7L408.7 309.8L409.2 316.2L409.6 309.9L410.0 309.9L410.5 312.8L410.9 307.5L411.3 322.9L411.8 305.8L412.2 308.6L412.6 305.8L413.1 303.3L413.5 303.5L413.9 297.3L414.4 300.5L414.8 298.7L415.2 300.4L415.7 299.9L416.1 310.9L416.5 300.2L417.0 303.0L417.4 301.8L417.8 298.1L418.3 297.3L418.7 299.2L419.1 298.4L419.6 293.5L420.0 290.2L420.5 297.7L420.9 289.1L421.3 287.9L421.8 288.7L422.2 288.8L422.6 285.0L423.1 282.9L423.5 282.8L423.9 285.4L424.4 274.0L424.8 287.2L425.2 288.6L425.7 289.6L426.1 288.7L426.5 290.2L427.0 290.3L427.4 297.5L427.8 298.7L428.3 294.7L428.7 297.1L429.1 300.2L429.6 294.7L430.0 291.0L430.4 297.7L430.9 296.0L431.3 295.8L431.7 298.7L432.2 296.2L432.6 303.6L433.0 301.4L433.5 308.7L433.9 309.3L434.3 304.9L434.8 301.5L435.2 294.8L435.6 302.3L436.1 310.8L436.5 306.2L436.9 307.0L437.4 307.7L437.8 306.5L438.2 310.7L438.7 304.8L439.1 302.1L439.5 304.5L440.0 314.0L440.4 307.5L440.9 310.2L441.3 313.2L441.7 307.7L442.2 304.0L442.6 308.4L443.0 306.1L443.5 304.4L443.9 301.6L444.3 303.6L444.8 297.9L445.2 299.0L445.6 297.5L446.1 295.5L446.5 292.2L446.9 296.3L447.4 296.7L447.8 301.3L448.2 300.7L448.7 303.7L449.1 305.2L449.5 304.7L450.0 304.7L450.4 304.0L450.8 310.3L451.3 307.4L451.7 308.7L452.1 301.5L452.6 316.9L453.0 318.1L453.4 309.0L453.9 321.0L454.3 315.3L454.7 315.6L455.2 322.4L455.6 315.1L456.0 317.7L456.5 317.5L456.9 321.3L457.3 327.9L457.8 328.6L458.2 317.1L458.6 307.8L459.1 317.2L459.5 322.0L459.9 318.5L460.4 320.1L460.8 319.8L461.2 318.3L461.7 303.6L462.1 311.8L462.6 299.0L463.0 306.2L463.4 306.1L463.9 309.7L464.3 308.7L464.7 308.9L465.2 310.3L465.6 310.8L466.0 306.9L466.5 304.1L466.9 302.7L467.3 305.0L467.8 302.6L468.2 305.5L468.6 304.0L469.1 298.8L469.5 305.3L469.9 301.1L470.4 300.4L470.8 303.9L471.2 301.9L471.7 306.5L472.1 304.8L472.5 306.5L473.0 306.2L473.4 311.1L473.8 314.1L474.3 317.9L474.7 298.3L475.1 310.9L475.6 316.3L476.0 313.4L476.4 320.6L476.9 310.8L477.3 314.1L477.7 310.5L478.2 314.4L478.6 315.7L479.0 313.4L479.5 303.2L479.9 297.0L480.3 304.3L480.8 304.9L481.2 308.5L481.6 306.8L482.1 314.6L482.5 319.2L483.0 318.1L483.4 310.4L483.8 314.1L484.3 319.6L484.7 325.4L485.1 329.9L485.6 321.2L486.0 326.6L486.4 329.8L486.9 333.9L487.3 332.5L487.7 336.0L488.2 331.5L488.6 331.3L489.0 329.9L489.5 334.1L489.9 339.0L490.3 333.1L490.8 318.6L491.2 328.1L491.6 321.7L492.1 322.6L492.5 321.7L492.9 317.0L493.4 316.1L493.8 312.1L494.2 304.3L494.7 306.1L495.1 301.5L495.5 313.5L496.0 302.5L496.4 296.2L496.8 304.3L497.3 301.8L497.7 311.9L498.1 291.9L498.6 298.9L499.0 287.3L499.4 293.9L499.9 292.3L500.3 293.4L500.7 301.1L501.2 297.0L501.6 304.1L502.0 307.4L502.5 311.0L502.9 313.2L503.3 311.8L503.8 318.4L504.2 321.6L504.7 323.7L505.1 321.8L505.5 323.8L506.0 331.5L506.4 334.8L506.8 331.1L507.3 327.6L507.7 328.6L508.1 325.4L508.6 326.0L509.0 328.0L509.4 325.6L509.9 308.0L510.3 303.7L510.7 323.6L511.2 320.7L511.6 316.1L512.0 319.1L512.5 325.0L512.9 324.4L513.3 318.3L513.8 315.5L514.2 311.8L514.6 322.0L515.1 321.1L515.5 324.3L515.9 318.1L516.4 310.8L516.8 316.7L517.2 316.3L517.7 310.9L518.1 296.4L518.5 307.2L519.0 307.3L519.4 306.8L519.8 303.4L520.3 309.1L520.7 303.4L521.1 311.1L521.6 310.2L522.0 308.0L522.4 313.0L522.9 311.8L523.3 308.6L523.7 312.1L524.2 313.3L524.6 311.1L525.1 312.1L525.5 308.6L525.9 308.4L526.4 309.4L526.8 304.9L527.2 309.1L527.7 304.6L528.1 294.2L528.5 298.7L529.0 301.7L529.4 299.9L529.8 301.4L530.3 304.2L530.7 298.6L531.1 293.8L531.6 297.8L532.0 304.0L532.4 302.5L532.9 294.0L533.3 303.6L533.7 303.4L534.2 319.7L534.6 307.7L535.0 308.7L535.5 311.8L535.9 313.7L536.3 319.0L536.8 308.6L537.2 321.4L537.6 314.4L538.1 319.0L538.5 323.3L538.9 322.8L539.4 323.5L539.8 319.6L540.2 328.5L540.7 324.9L541.1 327.3L541.5 329.6L542.0 330.1L542.4 324.8L542.8 322.9L543.3 330.4L543.7 327.8L544.1 331.6L544.6 324.3L545.0 323.0L545.4 324.1L545.9 321.6L546.3 326.5L546.8 321.9L547.2 323.8L547.6 331.6L548.1 329.1L548.5 332.0L548.9 330.9L549.4 330.6L549.8 311.3L550.2 339.9L550.7 346.4L551.1 343.2L551.5 346.6L552.0 346.7L552.4 351.1L552.8 354.6L553.3 350.6L553.7 350.9L554.1 354.2L554.6 347.6L555.0 348.8L555.4 346.4L555.9 345.5L556.3 340.8L556.7 343.2L557.2 338.8L557.6 335.7L558.0 332.9L558.5 326.1L558.9 333.7L559.3 330.0L559.8 330.3L560.2 331.2L560.6 319.0L561.1 327.5L561.5 329.8L561.9 325.0L562.4 325.2L562.8 331.3L563.2 324.8L563.7 321.7L564.1 323.3L564.5 317.8L565.0 320.7L565.4 318.6L565.8 312.0L566.3 316.2L566.7 312.7L567.2 309.7L567.6 314.0L568.0 309.4L568.5 302.7L568.9 304.6L569.3 301.8L569.8 312.6L570.2 308.0L570.6 309.1L571.1 311.9L571.5 308.9L571.9 312.7L572.4 312.4L572.8 313.2L573.2 310.8L573.7 320.1L574.1 302.9L574.5 309.9L575.0 316.2L575.4 310.2L575.8 308.1L576.3 311.4L576.7 317.8L577.1 318.0L577.6 324.0L578.0 317.8L578.4 316.9L578.9 324.8L579.3 329.2L579.7 322.7L580.2 332.0L580.6 331.3L581.0 330.9L581.5 338.9L581.9 340.0L582.3 334.6L582.8 337.2L583.2 331.5L583.6 328.9L584.1 333.4L584.5 331.9L584.9 329.2L585.4 330.9L585.8 332.0L586.2 332.2L586.7 332.8L587.1 335.7L587.5 319.4L588.0 346.2L588.4 332.5L588.9 326.6L589.3 324.1L589.7 323.6L590.2 327.8L590.6 332.5L591.0 330.5L591.5 330.4L591.9 322.5L592.3 324.0L592.8 331.3L593.2 331.0L593.6 336.0L594.1 338.3L594.5 342.2L594.9 341.6L595.4 335.3L595.8 334.3L596.2 333.9L596.7 333.4L597.1 335.0L597.5 328.2L598.0 326.4L598.4 323.5L598.8 321.9L599.3 318.6L599.7 318.3L600.1 313.3L600.6 313.7L601.0 318.3L601.4 320.4L601.9 316.5L602.3 316.2L602.7 317.5L603.2 315.1L603.6 312.7L604.0 312.9L604.5 314.9L604.9 316.3L605.3 312.9L605.8 316.3L606.2 311.9L606.6 316.1L607.1 313.5L607.5 336.9L607.9 317.5L608.4 317.1L608.8 321.8L609.3 319.8L609.7 318.9L610.1 324.7L610.6 344.0L611.0 334.4L611.4 336.1L611.9 338.6L612.3 338.7L612.7 345.7L613.2 351.0L613.6 350.0L614.0 348.7L614.5 355.8L614.9 354.6L615.3 355.0L615.8 359.9L616.2 350.9L616.6 356.1L617.1 361.6L617.5 358.1L617.9 358.1L618.4 353.8L618.8 347.4L619.2 352.3L619.7 347.1L620.1 350.1L620.5 344.6L621.0 343.1L621.4 342.5L621.8 328.7L622.3 336.3L622.7 332.6L623.1 338.8L623.6 332.0L624.0 332.1L624.4 329.3L624.9 330.7L625.3 341.4L625.7 332.2L626.2 337.1L626.6 331.7L627.0 325.1L627.5 328.7L627.9 333.3L628.3 327.5L628.8 327.7L629.2 317.9L629.6 322.8L630.1 316.7L630.5 318.9L631.0 322.6L631.4 323.9L631.8 321.4L632.3 327.3L632.7 323.9L633.1 324.9L633.6 326.7L634.0 331.4L634.4 331.1L634.9 331.3L635.3 336.9L635.7 330.4L636.2 329.3L636.6 332.4L637.0 336.9L637.5 334.3L637.9 336.2L638.3 332.5L638.8 338.4L639.2 336.8L639.6 342.4L640.1 348.3L640.5 346.0L640.9 346.2L641.4 340.0L641.8 337.3L642.2 341.5L642.7 337.0L643.1 344.8L643.5 337.1L644.0 333.7L644.4 328.6L644.8 335.4L645.3 318.2L645.7 324.0L646.1 328.7L646.6 323.9L647.0 325.3L647.4 327.2L647.9 333.4L648.3 326.5L648.7 320.8L649.2 315.2L649.6 316.2L650.0 309.4L650.5 311.2L650.9 299.6L651.4 331.3L651.8 313.2L652.2 298.3L652.7 306.1L653.1 308.0L653.5 305.5L654.0 300.6L654.4 300.9L654.8 300.7L655.3 295.5L655.7 291.3L656.1 295.1L656.6 291.8L657.0 290.0L657.4 292.7L657.9 291.7L658.3 294.6L658.7 293.4L659.2 303.6L659.6 291.1L660.0 296.1L660.5 301.8L660.9 301.8L661.3 301.8L661.8 307.8L662.2 308.8L662.6 304.8L663.1 287.9L663.5 306.7L663.9 305.8L664.4 310.2L664.8 322.6L665.2 306.6L665.7 313.5L666.1 316.1L666.5 307.7L667.0 304.7L667.4 311.4L667.8 315.8L668.3 321.4L668.7 318.8L669.1 323.7L669.6 325.5L670.0 325.8L670.4 328.5L670.9 324.0L671.3 322.2L671.7 324.5L672.2 326.7L672.6 334.8L673.1 334.7L673.5 328.9L673.9 337.8L674.4 330.0L674.8 324.0L675.2 324.4L675.7 307.4L676.1 321.1L676.5 320.3L677.0 318.2L677.4 318.0L677.8 316.7L678.3 318.8L678.7 309.9L679.1 294.9L679.6 309.3L680.0 304.4L680.4 306.7L680.9 313.1L681.3 319.2L681.7 313.5L682.2 316.6L682.6 319.7L683.0 327.3L683.5 332.3L683.9 334.3L684.3 332.0L684.8 331.6L685.2 340.2L685.6 341.6L686.1 342.5L686.5 347.6L686.9 351.6L687.4 355.1L687.8 354.3L688.2 357.9L688.7 362.1L689.1 364.0L689.5 362.9L690.0 357.0L690.4 366.0L690.8 362.6L691.3 358.2L691.7 355.4L692.1 350.9L692.6 347.3L693.0 352.3L693.5 343.4L693.9 340.9L694.3 339.3L694.8 332.9L695.2 338.0L695.6 332.9L696.1 330.4L696.5 346.1L696.9 322.5L697.4 324.5L697.8 320.5L698.2 320.5L698.7 319.8L699.1 316.1L699.5 311.4L700.0 295.2L700.4 314.2L700.8 318.4L701.3 321.2L701.7 322.2L702.1 317.6L702.6 317.9L703.0 319.4L703.4 313.5L703.9 317.3L704.3 315.7L704.7 321.5L705.2 312.4L705.6 318.9L706.0 318.9L706.5 317.3L706.9 313.6L707.3 318.2L707.8 323.9L708.2 327.3L708.6 328.8L709.1 328.9L709.5 337.6L709.9 336.0L710.4 328.9L710.8 324.3L711.2 328.4L711.7 332.4L712.1 332.0L712.5 325.3L713.0 332.5L713.4 333.7L713.8 336.8L714.3 334.0L714.7 330.7L715.2 334.3L715.6 336.0L716.0 341.8L716.5 338.4L716.9 331.9L717.3 336.8L717.8 334.2L718.2 334.7L718.6 340.6L719.1 336.8L719.5 332.3L719.9 332.9L720.4 335.8L720.8 325.9L721.2 332.7L721.7 322.9L722.1 327.3L722.5 328.1L723.0 328.2L723.4 328.1L723.8 307.0L724.3 323.6L724.7 321.6L725.1 322.7L725.6 321.7L726.0 329.0L726.4 321.9L726.9 324.6L727.3 317.9L727.7 320.5L728.2 321.4L728.6 322.0L729.0 316.0L729.5 326.0L729.9 315.0L730.3 319.0L730.8 317.5L731.2 300.6L731.6 312.2L732.1 319.6L732.5 317.0L732.9 319.1L733.4 311.7L733.8 321.5L734.2 323.5L734.7 324.3L735.1 325.9L735.6 332.5L736.0 330.5L736.4 334.7L736.9 336.5L737.3 339.6L737.7 337.1L738.2 338.0L738.6 335.8L739.0 334.0L739.5 360.0L739.9 337.4L740.3 353.0L740.8 328.2L741.2 333.4L741.6 335.0L742.1 338.1L742.5 331.5L742.9 348.5L743.4 333.9L743.8 332.8L744.2 330.2L744.7 326.5L745.1 331.4L745.5 330.2L746.0 329.3L746.4 321.8L746.8 322.9L747.3 330.6L747.7 333.3L748.1 333.2L748.6 332.8L749.0 330.7L749.4 336.0L749.9 339.3L750.3 338.4L750.7 334.6L751.2 341.6L751.6 343.4L752.0 348.0L752.5 350.8L752.9 354.2L753.3 354.0L753.8 344.7L754.2 343.2L754.6 352.0L755.1 340.2L755.5 341.9L755.9 341.5L756.4 339.3L756.8 342.5L757.3 338.0L757.7 331.0L758.1 324.7L758.6 330.1L759.0 326.2L759.4 319.6L759.9 322.2L760.3 319.9L760.7 319.0L761.2 322.4L761.6 318.8L762.0 320.4L762.5 321.2L762.9 318.0L763.3 317.7L763.8 316.4L764.2 322.7L764.6 322.2L765.1 319.5L765.5 322.8L765.9 321.3L766.4 322.9L766.8 319.5L767.2 321.9L767.7 323.0L768.1 324.9L768.5 314.0L769.0 322.1L769.4 323.7L769.8 325.8L770.3 324.2L770.7 323.0L771.1 319.4L771.6 327.2L772.0 325.0L772.4 320.2L772.9 315.4L773.3 323.0L773.7 317.0L774.2 318.5L774.6 314.7L775.0 316.7L775.5 315.4L775.9 317.2L776.3 316.2L776.8 318.7L777.2 316.9L777.7 313.1L778.1 313.6L778.5 325.0L779.0 322.0L779.4 322.6L779.8 312.0L780.3 315.3L780.7 316.9L781.1 317.7L781.6 320.0L782.0 313.7L782.4 321.0L782.9 315.7L783.3 314.7L783.7 322.9L784.2 305.1L784.6 323.9L785.0 320.3L785.5 321.4L785.9 318.3L786.3 330.1L786.8 315.2L787.2 320.8L787.6 324.8L788.1 322.5L788.5 324.6L788.9 327.7L789.4 329.5L789.8 324.2L790.2 328.5L790.7 321.6L791.1 330.0L791.5 324.1L792.0 341.8L792.4 329.7L792.8 324.0L793.3 323.2L793.7 325.0L794.1 325.9L794.6 319.0L795.0 315.8L795.4 317.9L795.9 317.2L796.3 314.1L796.7 312.8L797.2 305.2L797.6 304.4L798.0 300.3L798.5 304.2L798.9 301.4L799.4 305.4L799.8 302.8L800.2 299.5L800.7 297.7L801.1 293.2L801.5 298.2L802.0 297.2L802.4 301.1L802.8 300.0L803.3 295.5L803.7 292.2L804.1 315.7L804.6 303.3L805.0 302.9L805.4 290.2L805.9 303.4L806.3 306.2L806.7 305.4L807.2 293.8L807.6 312.6L808.0 316.3L808.5 309.8L808.9 305.0L809.3 307.8L809.8 305.3L810.2 309.1L810.6 305.9L811.1 300.9L811.5 305.1L811.9 296.9L812.4 298.3L812.8 291.5L813.2 289.7L813.7 306.1L814.1 292.0L814.5 292.2L815.0 289.1L815.4 287.0L815.8 291.3L816.3 288.9L816.7 286.7L817.1 288.0L817.6 301.7L818.0 292.3L818.4 296.1L818.9 294.7L819.3 282.4L819.8 301.5L820.2 300.4L820.6 307.4L821.1 307.1L821.5 312.2L821.9 309.0L822.4 308.0L822.8 313.1L823.2 309.9L823.7 309.3L824.1 313.7L824.5 308.2L825.0 317.1L825.4 314.6L825.8 317.5L826.3 321.9L826.7 319.7L827.1 323.0L827.6 333.6L828.0 329.4L828.4 333.7L828.9 334.4L829.3 332.5L829.7 323.3L830.2 332.8L830.6 332.1L831.0 340.5L831.5 340.3L831.9 349.3L832.3 348.3L832.8 351.4L833.2 361.4L833.6 348.9L834.1 359.6L834.5 354.0L834.9 351.5L835.4 348.4L835.8 344.0L836.2 336.1L836.7 340.3L837.1 335.8L837.5 333.3L838.0 329.2L838.4 322.9L838.8 332.7L839.3 316.3L839.7 316.7L840.1 318.9L840.6 313.8L841.0 320.0L841.5 310.0L841.9 303.2L842.3 295.7L842.8 301.7L843.2 295.4L843.6 300.4L844.1 309.8L844.5 299.2L844.9 310.2L845.4 316.4L845.8 320.7L846.2 318.9L846.7 326.6L847.1 314.8L847.5 332.1L848.0 336.4L848.4 338.1L848.8 331.1L849.3 339.4L849.7 329.5L850.1 333.2L850.6 339.8L851.0 342.3L851.4 343.5L851.9 344.6L852.3 341.8L852.7 332.5L853.2 343.4L853.6 333.9L854.0 341.0L854.5 332.2L854.9 329.5L855.3 326.5L855.8 328.7L856.2 331.8L856.6 330.0L857.1 331.9L857.5 320.1L857.9 334.6L858.4 340.9L858.8 338.8L859.2 346.0L859.7 332.6L860.1 340.6L860.5 329.9L861.0 318.7L861.4 321.2L861.9 321.3L862.3 320.3L862.7 324.0L863.2 321.8L863.6 316.1L864.0 312.9L864.5 322.4L864.9 324.3L865.3 321.6L865.8 323.5L866.2 323.2L866.6 328.5L867.1 330.4L867.5 320.7L867.9 322.2L868.4 323.7L868.8 325.4L869.2 326.6L869.7 313.8L870.1 323.6L870.5 321.7L871.0 315.6L871.4 309.4L871.8 315.0L872.3 311.2L872.7 308.9L873.1 308.7L873.6 305.7L874.0 305.8L874.4 311.0L874.9 308.6L875.3 298.9L875.7 306.9L876.2 305.1L876.6 309.6L877.0 310.5L877.5 306.7L877.9 305.3L878.3 313.6L878.8 310.7L879.2 298.2L879.6 303.8L880.1 301.6L880.5 304.6L880.9 308.2L881.4 307.4L881.8 306.9L882.2 304.5L882.7 299.9L883.1 295.1L883.6 297.0L884.0 311.9L884.4 300.8L884.9 305.7L885.3 302.7L885.7 300.2L886.2 308.0L886.6 298.4L887.0 305.9L887.5 306.0L887.9 306.5L888.3 307.4L888.8 321.6L889.2 311.1L889.6 310.9L890.1 305.9L890.5 316.0L890.9 305.1L891.4 307.0L891.8 318.6L892.2 306.5L892.7 305.3L893.1 301.2L893.5 297.3L894.0 309.4L894.4 308.6L894.8 305.2L895.3 301.8L895.7 303.8L896.1 310.8L896.6 302.1L897.0 308.1L897.4 304.5L897.9 305.9L898.3 302.6L898.7 306.5L899.2 315.0L899.6 319.5L900.0 313.1L900.5 315.5L900.9 315.7L901.3 316.2L901.8 317.1L902.2 314.6L902.6 317.4L903.1 320.1L903.5 319.2L904.0 317.6L904.4 322.1L904.8 324.5L905.3 324.0L905.7 327.9L906.1 327.1L906.6 321.3L907.0 321.9L907.4 321.2L907.9 322.1L908.3 326.3L908.7 313.4L909.2 315.1L909.6 313.9L910.0 311.6L910.5 303.9L910.9 307.7L911.3 308.3L911.8 309.6L912.2 309.3L912.6 316.0L913.1 309.6L913.5 301.9L913.9 311.0L914.4 313.6L914.8 308.4L915.2 308.2L915.7 302.3L916.1 310.3L916.5 307.1L917.0 308.7L917.4 309.0L917.8 305.5L918.3 299.5L918.7 302.9L919.1 307.6L919.6 305.8L920.0 310.0L920.4 307.4L920.9 308.0L921.3 313.3L921.7 312.3L922.2 311.1L922.6 315.4L923.0 308.2L923.5 301.8L923.9 311.5L924.3 313.5L924.8 309.7L925.2 307.5L925.7 309.0L926.1 306.5L926.5 307.1L927.0 316.2L927.4 316.7L927.8 317.2L928.3 323.8L928.7 320.1L929.1 315.5L929.6 314.2L930.0 317.3L930.4 322.4L930.9 321.0L931.3 314.4L931.7 314.4L932.2 313.1L932.6 317.7L933.0 320.1L933.5 324.6L933.9 325.2L934.3 331.4L934.8 332.2L935.2 329.5L935.6 326.2L936.1 327.8L936.5 326.0L936.9 325.9L937.4 322.5L937.8 328.1L938.2 325.2L938.7 323.9L939.1 330.1L939.5 324.5L940.0 316.9L940.4 308.9L940.8 301.6L941.3 293.2L941.7 293.3L942.1 288.6L942.6 290.1L943.0 285.6L943.4 283.4L943.9 284.1" stroke="#7e57c2" stroke-width="1.1" fill="none"/>
<path d="M9.4 315.3L9.9 315.3L10.4 315.3L10.9 315.3L11.4 314.7L11.9 314.8L12.4 314.5L12.9 314.9L13.4 314.8L13.9 313.9L14.4 313.3L14.9 312.7L15.4 311.2L15.9 310.3L16.4 309.7L16.9 308.5L17.4 307.4L17.9 305.9L18.4 304.9L18.9 304.3L19.4 304.5L19.9 303.9L20.4 304.6L20.9 305.2L21.4 306.8L21.9 308.4L22.4 309.5L22.9 310.4L23.4 311.8L23.9 312.8L24.4 314.2L24.9 316.2L25.4 316.8L25.9 318.0L26.4 319.3L26.9 320.4L27.4 320.4L27.9 320.6L28.4 319.9L28.9 319.3L29.4 317.3L29.9 315.5L30.4 313.5L30.9 311.9L31.4 309.8L31.9 309.0L32.4 308.2L32.9 307.4L33.4 306.6L33.9 306.5L34.4 305.2L34.9 305.0L35.4 305.0L35.9 305.3L36.4 306.1L36.9 307.3L37.4 308.3L37.9 309.7L38.4 311.0L38.9 312.5L39.4 314.2L39.9 315.6L40.4 316.3L40.9 317.3L41.4 318.1L41.9 319.5L42.4 321.0L42.9 322.1L43.4 322.8L43.9 323.0L44.4 323.4L44.9 323.3L45.4 322.7L45.9 321.7L46.4 321.1L46.9 320.9L47.4 320.5L47.9 320.2L48.4 319.5L48.9 319.7L49.4 320.1L49.9 321.5L50.4 323.3L50.9 324.7L51.4 326.0L51.9 326.9L52.4 328.3L52.9 329.7L53.4 330.6L53.9 330.5L54.4 330.2L54.9 330.0L55.4 328.5L55.9 327.7L56.4 326.5L56.9 325.4L57.4 324.6L57.9 323.6L58.4 322.6L58.9 321.0L59.4 320.2L59.9 319.5L60.4 319.9L60.9 319.8L61.4 319.4L61.9 319.6L62.4 320.3L62.9 320.4L63.4 320.8L63.9 321.3L64.4 322.8L64.9 322.8L65.4 323.2L65.9 323.4L66.4 322.9L66.9 322.2L67.4 321.3L67.9 320.8L68.4 320.7L68.9 320.9L69.4 321.0L69.9 322.0L70.4 323.3L70.9 323.7L71.4 324.8L71.9 326.2L72.4 327.4L72.9 327.9L73.4 329.1L73.9 329.6L74.4 330.2L74.9 330.4L75.4 329.7L75.9 328.9L76.4 327.3L76.9 325.7L77.4 324.1L77.9 322.5L78.4 320.2L78.9 319.4L79.4 318.5L79.9 318.0L80.4 317.9L80.9 317.8L81.4 317.5L81.9 316.8L82.4 316.7L82.9 316.1L83.4 315.6L83.9 314.6L84.4 313.2L84.9 312.7L85.4 311.9L85.9 312.2L86.4 313.2L86.9 315.0L87.4 316.7L87.9 318.5L88.4 319.6L88.9 321.1L89.4 322.8L89.9 325.1L90.4 326.9L90.9 328.8L91.4 330.1L91.9 330.7L92.4 330.3L92.9 330.5L93.4 329.0L93.9 328.0L94.4 326.3L94.9 326.0L95.4 325.6L95.9 324.3L96.4 323.1L96.9 322.6L97.4 321.9L97.9 321.5L98.4 320.2L98.9 320.1L99.4 319.2L99.9 319.2L100.4 318.9L100.9 318.8L101.4 317.9L101.9 317.3L102.4 317.1L102.9 316.6L103.4 316.6L103.9 316.0L104.4 316.0L104.9 315.4L105.4 314.9L105.9 314.8L106.4 314.7L106.9 313.8L107.4 313.3L107.9 313.0L108.4 313.4L108.9 314.4L109.4 315.3L109.9 316.1L110.4 317.1L110.9 318.0L111.4 319.1L111.9 320.2L112.4 321.4L112.9 321.8L113.4 322.1L113.9 321.0L114.4 319.5L114.9 318.2L115.4 316.6L115.9 314.8L116.4 313.4L116.9 312.2L117.4 309.7L117.9 307.7L118.4 305.1L118.9 303.6L119.4 303.1L119.9 303.4L120.4 304.1L120.9 304.7L121.4 305.8L121.9 306.4L122.4 307.5L122.9 307.4L123.4 308.6L123.9 308.6L124.4 309.4L124.9 310.2L125.4 311.3L125.9 311.5L126.4 311.9L126.9 312.2L127.4 312.6L127.9 313.0L128.4 313.8L128.9 314.3L129.4 315.0L129.9 316.4L130.4 318.0L130.9 319.9L131.4 322.4L131.9 324.0L132.4 325.6L132.9 326.7L133.4 328.2L133.9 330.4L134.4 331.4L134.9 332.8L135.4 334.3L135.9 334.4L136.4 335.4L136.9 335.5L137.4 334.8L137.9 333.3L138.4 331.3L138.9 330.5L139.4 329.3L139.9 328.2L140.4 326.1L140.9 324.8L141.4 323.8L141.9 321.9L142.4 320.2L142.9 318.2L143.4 316.1L143.9 314.7L144.4 312.7L144.9 311.4L145.4 310.2L145.9 308.8L146.4 307.7L146.9 307.2L147.4 307.8L147.9 307.5L148.4 307.7L148.9 307.5L149.4 307.3L149.9 307.7L150.4 308.3L150.9 309.0L151.4 309.5L151.9 310.5L152.4 310.8L152.9 311.3L153.4 311.5L153.9 312.6L154.4 312.3L154.9 312.0L155.4 312.3L155.9 311.9L156.4 311.2L156.9 310.9L157.4 311.1L157.9 311.3L158.4 311.8L158.9 310.7L159.4 311.3L159.9 312.6L160.4 314.6L160.9 315.0L161.4 315.5L161.9 316.6L162.4 317.6L162.9 318.3L163.4 319.3L163.9 320.0L164.4 320.8L164.9 322.1L165.4 322.6L165.9 324.0L166.4 324.8L166.9 325.2L167.4 325.6L167.9 325.9L168.4 327.1L168.9 328.1L169.4 328.5L169.9 329.5L170.4 329.3L170.9 330.6L171.4 331.2L171.9 332.0L172.4 332.6L172.9 333.2L173.4 333.3L173.9 333.9L174.4 335.5L174.9 335.9L175.4 337.5L175.9 338.2L176.4 339.6L176.9 340.4L177.4 341.2L177.9 342.5L178.4 343.6L178.9 343.6L179.4 344.1L179.9 344.6L180.4 343.4L180.9 342.5L181.4 341.5L181.9 340.2L182.4 338.9L182.9 338.2L183.4 337.1L183.9 335.5L184.4 333.7L184.9 332.1L185.4 330.8L185.9 330.1L186.4 329.2L186.9 328.1L187.4 326.8L187.9 325.7L188.4 324.6L188.9 323.6L189.4 322.9L189.9 322.4L190.4 321.9L190.9 320.4L191.4 320.4L191.9 320.0L192.4 319.6L192.9 318.7L193.4 318.3L193.9 317.6L194.4 317.2L194.9 316.6L195.4 315.7L195.9 315.2L196.4 313.9L196.9 312.7L197.4 312.6L197.9 311.6L198.4 311.8L198.9 313.2L199.4 314.3L199.9 315.4L200.4 315.8L200.9 316.8L201.4 317.7L201.9 318.2L202.4 318.8L202.9 320.3L203.4 321.4L203.9 322.4L204.4 322.8L204.9 323.2L205.4 324.7L205.9 325.8L206.4 326.5L206.9 327.4L207.4 328.9L207.9 329.6L208.4 329.7L208.9 331.1L209.4 330.8L209.9 330.0L210.4 329.2L210.9 328.5L211.4 327.8L211.9 326.8L212.4 326.3L212.9 325.8L213.4 325.1L213.9 324.7L214.4 323.4L214.9 323.0L215.4 322.9L215.9 323.6L216.4 323.4L216.9 323.7L217.4 323.4L217.9 323.8L218.4 324.0L218.9 324.5L219.4 324.9L219.9 325.2L220.4 325.9L220.9 326.6L221.4 327.2L221.9 327.1L222.4 327.5L222.9 327.8L223.4 327.7L223.9 327.9L224.4 328.0L224.9 329.2L225.4 330.5L225.9 331.9L226.4 332.8L226.9 333.4L227.4 334.0L227.9 334.7L228.4 335.6L228.9 336.6L229.4 336.9L229.9 338.0L230.4 339.6L230.9 341.3L231.4 341.9L231.9 343.0L232.4 344.2L232.9 345.1L233.4 346.5L233.9 347.6L234.4 348.2L234.9 348.8L235.4 348.3L235.9 348.2L236.4 346.2L236.9 344.6L237.4 343.1L237.9 341.7L238.4 339.5L238.9 338.5L239.4 337.3L239.9 336.1L240.4 335.0L240.9 333.9L241.4 333.3L241.9 332.1L242.4 331.1L242.9 330.2L243.4 330.3L243.9 330.3L244.4 330.3L244.9 329.9L245.4 330.3L245.9 329.7L246.4 329.6L246.9 329.5L247.4 328.6L247.9 327.6L248.4 327.7L248.9 327.2L249.4 326.6L249.9 325.4L250.4 324.2L250.9 323.1L251.4 321.8L251.9 321.1L252.4 320.2L252.9 319.5L253.4 318.5L253.9 318.0L254.4 317.3L254.9 316.2L255.4 316.2L255.9 316.5L256.4 317.2L256.9 317.1L257.4 319.1L257.9 319.4L258.4 320.8L258.9 322.2L259.4 322.9L259.9 324.1L260.4 325.3L260.9 327.4L261.4 327.9L261.9 329.2L262.4 330.3L262.9 331.6L263.4 333.1L263.9 334.3L264.4 335.4L264.9 336.2L265.4 336.4L265.9 336.1L266.4 334.9L266.9 334.2L267.4 332.4L267.9 330.8L268.4 329.8L268.9 329.0L269.4 328.7L269.9 327.6L270.4 326.6L270.9 325.9L271.4 324.8L271.9 323.1L272.4 322.2L272.9 321.2L273.4 320.4L273.9 320.3L274.4 319.1L274.9 317.8L275.4 316.8L275.9 316.2L276.4 315.2L276.9 314.8L277.4 313.5L277.9 312.7L278.4 312.0L278.9 311.2L279.4 310.1L279.9 309.0L280.4 307.8L280.9 305.8L281.4 305.0L281.9 304.8L282.4 304.8L282.9 305.3L283.4 305.4L283.9 306.5L284.4 308.4L284.9 309.9L285.4 311.8L285.9 314.3L286.4 316.0L286.9 317.8L287.4 319.9L287.9 321.0L288.4 322.9L288.9 324.9L289.4 326.4L289.9 328.3L290.4 330.3L290.9 332.0L291.4 333.7L291.9 335.9L292.4 337.5L292.9 339.0L293.4 338.8L293.9 339.3L294.4 339.7L294.9 339.5L295.4 339.2L295.9 339.0L296.4 339.2L296.9 338.4L297.4 337.4L297.9 337.1L298.4 336.6L298.9 336.7L299.4 336.2L299.9 335.8L300.4 336.1L300.9 335.7L301.4 335.5L301.9 335.5L302.4 335.4L302.9 336.4L303.4 336.5L303.9 336.3L304.4 337.5L304.9 337.3L305.4 337.4L305.9 337.7L306.4 338.8L306.9 338.6L307.4 338.3L307.9 338.0L308.4 337.8L308.9 336.8L309.4 337.0L309.9 335.8L310.4 335.0L310.9 334.4L311.4 333.8L311.9 332.8L312.4 332.0L312.9 332.3L313.4 332.1L313.9 331.3L314.4 330.6L314.9 330.3L315.4 329.5L315.9 329.2L316.4 327.6L316.9 327.4L317.4 327.0L317.9 326.2L318.4 325.8L318.9 325.2L319.4 324.5L319.9 323.8L320.4 323.5L320.9 323.2L321.4 322.4L321.9 321.5L322.4 321.8L322.9 320.3L323.4 320.6L323.9 320.3L324.4 320.0L324.9 319.2L325.4 318.2L325.9 318.5L326.4 318.6L326.9 318.6L327.4 318.2L327.9 318.2L328.4 318.5L328.9 319.3L329.4 319.3L329.9 319.5L330.4 320.1L330.9 320.0L331.4 321.0L331.9 321.3L332.4 321.2L332.9 321.5L333.4 322.7L333.9 322.9L334.4 323.0L334.9 322.5L335.4 323.0L335.9 323.6L336.4 323.7L336.9 324.0L337.4 324.1L337.9 323.6L338.4 324.1L338.9 324.4L339.4 325.1L339.9 325.3L340.4 325.3L340.9 325.2L341.4 325.1L341.9 324.8L342.4 323.8L342.9 323.4L343.4 322.4L343.9 321.8L344.4 321.2L344.9 320.9L345.4 320.2L345.9 319.1L346.4 318.1L346.9 317.5L347.4 317.3L347.9 316.8L348.4 315.7L348.9 315.6L349.4 314.8L349.9 314.2L350.4 314.5L350.9 314.1L351.4 314.3L351.9 315.3L352.4 315.8L352.9 316.7L353.4 318.2L353.9 319.0L354.4 319.1L354.9 320.3L355.4 321.3L355.9 322.1L356.4 322.2L356.9 322.6L357.4 322.8L357.9 322.7L358.4 322.5L358.9 322.1L359.4 322.4L359.9 322.4L360.4 322.4L360.9 321.6L361.4 320.4L361.9 318.8L362.4 317.7L362.9 315.3L363.4 313.2L363.9 311.3L364.4 309.9L364.9 308.3L365.4 306.2L365.9 304.2L366.4 302.7L366.9 301.0L367.4 299.3L367.9 297.6L368.4 295.3L368.9 293.9L369.4 291.7L369.9 289.7L370.4 287.7L370.9 285.8L371.4 285.0L371.9 285.3L372.4 285.0L372.9 285.3L373.4 286.3L373.9 286.9L374.4 287.2L374.9 288.9L375.4 290.2L375.9 291.7L376.4 293.1L376.9 294.2L377.4 295.4L377.9 297.1L378.4 297.9L378.9 298.9L379.4 300.5L379.9 300.9L380.4 302.1L380.9 302.8L381.4 303.9L381.9 303.3L382.4 302.1L382.9 300.8L383.4 299.9L383.9 300.0L384.4 299.2L384.9 298.0L385.4 297.2L385.9 296.0L386.4 295.7L386.9 294.9L387.4 293.8L387.9 292.6L388.4 293.4L388.9 293.8L389.4 294.1L389.9 295.1L390.4 295.2L390.9 295.2L391.4 295.6L391.9 296.7L392.4 297.3L392.9 297.6L393.4 298.4L393.9 299.5L394.4 300.8L394.9 301.9L395.4 304.2L395.9 306.0L396.4 308.2L396.9 310.4L397.4 312.3L397.9 314.5L398.4 316.4L398.9 319.4L399.4 321.3L399.9 323.5L400.4 326.3L400.9 327.9L401.4 330.0L401.9 332.2L402.4 334.4L402.9 335.9L403.4 336.6L403.9 336.1L404.4 335.8L404.9 334.8L405.4 333.0L405.9 332.5L406.4 330.7L406.9 329.4L407.4 327.7L407.9 326.8L408.4 325.4L408.9 323.3L409.4 322.8L409.9 322.1L410.4 320.5L410.9 318.8L411.4 317.8L411.9 316.2L412.4 314.3L412.9 313.0L413.4 311.2L413.9 311.1L414.4 311.0L414.9 311.4L415.4 311.1L415.9 310.7L416.4 310.6L416.9 311.0L417.4 310.8L417.9 310.0L418.4 309.2L418.9 308.1L419.4 306.6L419.9 305.4L420.4 304.7L420.9 302.4L421.4 301.0L421.9 300.1L422.4 299.5L422.9 297.3L423.4 296.4L423.9 294.8L424.4 293.3L424.9 292.2L425.4 291.7L425.9 291.4L426.4 291.6L426.9 292.5L427.4 293.2L427.9 294.0L428.4 295.3L428.9 295.4L429.4 296.6L429.9 297.9L430.4 299.0L430.9 299.4L431.4 300.3L431.9 301.6L432.4 302.0L432.9 302.4L433.4 302.6L433.9 303.0L434.4 303.8L434.9 304.2L435.4 304.8L435.9 305.6L436.4 305.6L436.9 306.4L437.4 306.9L437.9 306.7L438.4 307.1L438.9 307.3L439.4 307.3L439.9 307.3L440.4 307.2L440.9 307.6L441.4 307.9L441.9 308.6L442.4 309.0L442.9 308.4L443.4 307.9L443.9 308.0L444.4 307.4L444.9 307.3L445.4 306.9L445.9 307.0L446.4 305.6L446.9 305.5L447.4 305.4L447.9 304.8L448.4 304.7L448.9 304.6L449.4 304.8L449.9 305.5L450.4 306.2L450.9 307.2L451.4 308.0L451.9 308.8L452.4 309.0L452.9 310.0L453.4 311.2L453.9 312.7L454.4 312.9L454.9 313.8L455.4 314.7L455.9 315.8L456.4 316.5L456.9 316.6L457.4 317.6L457.9 318.4L458.4 318.7L458.9 319.2L459.4 320.0L459.9 320.3L460.4 320.2L460.9 320.3L461.4 319.9L461.9 319.1L462.4 318.5L462.9 317.5L463.4 316.6L463.9 315.7L464.4 315.3L464.9 314.3L465.4 312.6L465.9 311.4L466.4 310.6L466.9 309.7L467.4 308.4L467.9 308.0L468.4 307.3L468.9 305.8L469.4 305.5L469.9 304.3L470.4 303.8L470.9 303.2L471.4 304.0L471.9 304.8L472.4 304.8L472.9 305.1L473.4 305.8L473.9 306.1L474.4 307.7L474.9 308.2L475.4 309.0L475.9 309.4L476.4 310.0L476.9 310.5L477.4 312.1L477.9 312.5L478.4 312.6L478.9 313.1L479.4 313.2L479.9 313.5L480.4 314.1L480.9 314.1L481.4 314.0L481.9 313.7L482.4 313.9L482.9 314.8L483.4 315.2L483.9 315.9L484.4 317.1L484.9 317.8L485.4 318.2L485.9 319.3L486.4 320.5L486.9 321.3L487.4 322.8L487.9 323.6L488.4 325.2L488.9 325.8L489.4 326.9L489.9 327.7L490.4 328.6L490.9 329.1L491.4 328.5L491.9 328.5L492.4 328.0L492.9 326.4L493.4 324.8L493.9 323.6L494.4 322.2L494.9 320.6L495.4 319.3L495.9 317.2L496.4 315.5L496.9 314.1L497.4 312.1L497.9 310.5L498.4 308.2L498.9 306.6L499.4 305.3L499.9 303.6L500.4 302.3L500.9 300.5L501.4 299.0L501.9 298.5L502.4 298.8L502.9 300.2L503.4 301.3L503.9 303.5L504.4 305.9L504.9 308.3L505.4 311.1L505.9 313.6L506.4 316.2L506.9 318.7L507.4 321.6L507.9 323.7L508.4 326.2L508.9 327.9L509.4 328.9L509.9 329.2L510.4 328.6L510.9 327.7L511.4 326.9L511.9 327.0L512.4 325.8L512.9 325.9L513.4 324.0L513.9 323.4L514.4 322.1L514.9 320.9L515.4 319.3L515.9 318.1L516.4 316.6L516.9 315.8L517.4 313.9L517.9 312.5L518.4 310.8L518.9 309.5L519.4 309.1L519.9 308.3L520.4 307.1L520.9 306.5L521.4 306.1L521.9 306.0L522.4 307.1L522.9 307.4L523.4 307.9L523.9 308.8L524.4 309.5L524.9 309.4L525.4 309.9L525.9 310.1L526.4 309.7L526.9 309.4L527.4 308.5L527.9 308.0L528.4 307.0L528.9 306.3L529.4 305.0L529.9 304.2L530.4 303.4L530.9 303.5L531.4 303.8L531.9 304.3L532.4 304.8L532.9 306.0L533.4 306.6L533.9 307.1L534.4 307.9L534.9 309.2L535.4 310.0L535.9 311.4L536.4 312.7L536.9 313.6L537.4 314.5L537.9 315.5L538.4 317.0L538.9 317.8L539.4 319.4L539.9 320.8L540.4 321.5L540.9 322.6L541.4 323.4L541.9 325.0L542.4 325.6L542.9 326.7L543.4 327.9L543.9 328.4L544.4 329.0L544.9 329.2L545.4 328.9L545.9 328.4L546.4 327.3L546.9 326.5L547.4 325.7L547.9 326.0L548.4 326.2L548.9 326.4L549.4 326.5L549.9 327.9L550.4 329.1L550.9 330.5L551.4 332.2L551.9 334.0L552.4 335.6L552.9 337.0L553.4 338.9L553.9 340.6L554.4 341.3L554.9 342.3L555.4 342.3L555.9 342.0L556.4 340.6L556.9 339.7L557.4 337.9L557.9 337.0L558.4 335.4L558.9 333.5L559.4 332.1L559.9 331.2L560.4 330.1L560.9 328.5L561.4 327.7L561.9 327.2L562.4 325.9L562.9 324.5L563.4 324.7L563.9 323.5L564.4 322.5L564.9 321.3L565.4 320.5L565.9 319.3L566.4 318.8L566.9 318.3L567.4 316.9L567.9 316.5L568.4 315.4L568.9 314.9L569.4 314.3L569.9 313.7L570.4 312.8L570.9 312.6L571.4 312.4L571.9 312.0L572.4 311.8L572.9 311.6L573.4 311.5L573.9 311.3L574.4 311.3L574.9 312.0L575.4 311.4L575.9 311.2L576.4 311.2L576.9 311.3L577.4 311.9L577.9 313.4L578.4 314.0L578.9 315.3L579.4 316.6L579.9 317.6L580.4 318.6L580.9 320.0L581.4 321.3L581.9 323.1L582.4 324.3L582.9 325.3L583.4 326.4L583.9 327.4L584.4 328.6L584.9 329.8L585.4 330.3L585.9 330.4L586.4 331.0L586.9 331.8L587.4 331.3L587.9 330.9L588.4 330.4L588.9 330.1L589.4 328.7L589.9 327.6L590.4 325.8L590.9 325.3L591.4 324.6L591.9 324.0L592.4 322.8L592.9 322.8L593.4 323.8L593.9 325.3L594.4 326.1L594.9 327.0L595.4 327.7L595.9 329.2L596.4 330.6L596.9 331.4L597.4 330.3L597.9 330.1L598.4 329.7L598.9 328.5L599.4 327.7L599.9 327.2L600.4 326.1L600.9 325.0L601.4 323.6L601.9 322.9L602.4 322.3L602.9 321.9L603.4 321.6L603.9 321.4L604.4 321.3L604.9 321.5L605.4 321.3L605.9 321.6L606.4 321.0L606.9 321.0L607.4 321.0L607.9 320.8L608.4 320.6L608.9 320.5L609.4 320.5L609.9 321.1L610.4 321.6L610.9 321.8L611.4 323.0L611.9 325.1L612.4 327.2L612.9 328.9L613.4 331.1L613.9 333.9L614.4 336.4L614.9 338.8L615.4 341.2L615.9 343.2L616.4 345.8L616.9 347.7L617.4 350.0L617.9 351.0L618.4 351.7L618.9 351.5L619.4 350.5L619.9 348.6L620.4 347.1L620.9 344.9L621.4 342.7L621.9 341.1L622.4 339.8L622.9 338.3L623.4 336.9L623.9 335.4L624.4 333.8L624.9 333.0L625.4 332.5L625.9 332.1L626.4 331.3L626.9 329.8L627.4 329.2L627.9 328.9L628.4 328.7L628.9 328.3L629.4 327.6L629.9 326.4L630.4 325.9L630.9 324.8L631.4 324.3L631.9 323.5L632.4 322.4L632.9 322.7L633.4 322.7L633.9 322.8L634.4 323.9L634.9 325.0L635.4 325.1L635.9 326.7L636.4 326.9L636.9 327.8L637.4 328.7L637.9 329.4L638.4 329.6L638.9 331.1L639.4 331.9L639.9 333.2L640.4 334.3L640.9 335.3L641.4 336.3L641.9 337.2L642.4 338.0L642.9 338.3L643.4 337.4L643.9 335.7L644.4 334.2L644.9 333.5L645.4 332.2L645.9 330.9L646.4 330.1L646.9 329.2L647.4 328.6L647.9 327.1L648.4 326.2L648.9 325.2L649.4 323.5L649.9 322.8L650.4 321.7L650.9 320.7L651.4 319.6L651.9 318.2L652.4 317.5L652.9 315.7L653.4 314.2L653.9 312.9L654.4 310.9L654.9 309.4L655.4 308.7L655.9 308.0L656.4 307.4L656.9 306.3L657.4 305.0L657.9 303.3L658.4 302.2L658.9 301.6L659.4 301.5L659.9 301.7L660.4 302.5L660.9 303.7L661.4 304.2L661.9 305.1L662.4 305.4L662.9 306.3L663.4 307.2L663.9 307.6L664.4 308.4L664.9 309.2L665.4 309.9L665.9 310.8L666.4 312.3L666.9 313.5L667.4 314.0L667.9 314.8L668.4 315.6L668.9 315.7L669.4 316.6L669.9 318.2L670.4 318.9L670.9 319.5L671.4 320.3L671.9 320.4L672.4 320.6L672.9 321.5L673.4 322.7L673.9 323.5L674.4 324.3L674.9 325.5L675.4 325.5L675.9 325.2L676.4 324.7L676.9 323.9L677.4 322.9L677.9 322.1L678.4 321.3L678.9 320.1L679.4 319.4L679.9 318.2L680.4 317.0L680.9 316.4L681.4 315.0L681.9 314.2L682.4 314.2L682.9 315.2L683.4 316.3L683.9 318.2L684.4 320.9L684.9 322.6L685.4 324.8L685.9 327.5L686.4 329.9L686.9 332.1L687.4 333.2L687.9 335.2L688.4 337.2L688.9 339.6L689.4 341.8L689.9 343.4L690.4 346.0L690.9 347.7L691.4 349.3L691.9 350.3L692.4 349.9L692.9 349.2L693.4 347.4L693.9 345.4L694.4 343.3L694.9 341.4L695.4 339.4L695.9 337.5L696.4 335.8L696.9 333.2L697.4 331.4L697.9 329.5L698.4 327.2L698.9 325.8L699.4 323.8L699.9 322.4L700.4 319.7L700.9 318.3L701.4 316.7L701.9 316.7L702.4 316.9L702.9 317.3L703.4 317.4L703.9 317.7L704.4 318.2L704.9 318.3L705.4 318.9L705.9 319.2L706.4 320.0L706.9 320.5L707.4 320.6L707.9 321.3L708.4 322.2L708.9 322.4L709.4 322.9L709.9 323.1L710.4 323.8L710.9 324.4L711.4 325.8L711.9 326.6L712.4 327.0L712.9 327.8L713.4 328.0L713.9 328.9L714.4 329.1L714.9 329.6L715.4 330.6L715.9 331.8L716.4 331.8L716.9 333.2L717.4 333.0L717.9 333.2L718.4 333.2L718.9 332.8L719.4 331.9L719.9 331.4L720.4 331.4L720.9 330.9L721.4 329.9L721.9 329.8L722.4 329.7L722.9 329.1L723.4 328.9L723.9 328.4L724.4 327.9L724.9 327.1L725.4 327.3L725.9 327.1L726.4 326.6L726.9 326.9L727.4 325.9L727.9 325.1L728.4 323.9L728.9 323.3L729.4 322.8L729.9 323.0L730.4 322.7L730.9 322.7L731.4 322.5L731.9 321.7L732.4 321.8L732.9 321.6L733.4 322.1L733.9 322.5L734.4 322.8L734.9 323.6L735.4 323.0L735.9 323.8L736.4 324.7L736.9 325.3L737.4 326.8L737.9 328.5L738.4 329.4L738.9 330.5L739.4 331.8L739.9 333.0L740.4 334.0L740.9 335.5L741.4 336.6L741.9 336.9L742.4 337.3L742.9 336.7L743.4 336.2L743.9 335.4L744.4 334.1L744.9 333.4L745.4 332.9L745.9 331.8L746.4 330.8L746.9 329.5L747.4 328.5L747.9 327.4L748.4 326.3L748.9 325.9L749.4 325.7L749.9 326.0L750.4 327.3L750.9 328.1L751.4 329.3L751.9 330.8L752.4 333.2L752.9 335.2L753.4 336.8L753.9 337.7L754.4 339.3L754.9 341.0L755.4 341.5L755.9 342.5L756.4 342.2L756.9 341.6L757.4 339.8L757.9 337.8L758.4 336.0L758.9 334.5L759.4 332.8L759.9 330.8L760.4 328.4L760.9 326.9L761.4 325.4L761.9 324.0L762.4 321.9L762.9 320.8L763.4 318.1L763.9 317.6L764.4 317.4L764.9 317.8L765.4 317.3L765.9 317.4L766.4 318.3L766.9 318.3L767.4 318.2L767.9 318.2L768.4 317.9L768.9 317.9L769.4 318.4L769.9 318.8L770.4 319.3L770.9 320.0L771.4 320.1L771.9 320.4L772.4 319.9L772.9 319.7L773.4 319.0L773.9 319.3L774.4 319.3L774.9 318.3L775.4 317.8L775.9 317.5L776.4 317.0L776.9 317.2L777.4 316.7L777.9 316.2L778.4 316.0L778.9 315.3L779.4 315.3L779.9 315.8L780.4 316.5L780.9 316.7L781.4 316.5L781.9 316.4L782.4 317.0L782.9 317.2L783.4 317.7L783.9 318.0L784.4 318.7L784.9 318.8L785.4 319.3L785.9 319.8L786.4 319.9L786.9 320.3L787.4 320.9L787.9 321.2L788.4 321.7L788.9 322.0L789.4 322.7L789.9 323.0L790.4 323.6L790.9 324.2L791.4 325.5L791.9 326.2L792.4 326.5L792.9 327.0L793.4 326.5L793.9 326.5L794.4 326.2L794.9 324.6L795.4 323.1L795.9 322.1L796.4 320.4L796.9 319.0L797.4 317.6L797.9 315.4L798.4 313.8L798.9 312.5L799.4 311.7L799.9 310.2L800.4 308.6L800.9 307.2L801.4 306.1L801.9 304.5L802.4 303.0L802.9 301.3L803.4 299.7L803.9 298.1L804.4 297.5L804.9 298.6L805.4 300.0L805.9 302.1L806.4 303.9L806.9 305.6L807.4 306.5L807.9 308.1L808.4 310.1L808.9 311.3L809.4 312.9L809.9 314.9L810.4 315.7L810.9 315.6L811.4 314.1L811.9 313.1L812.4 311.6L812.9 310.3L813.4 308.9L813.9 307.0L814.4 305.2L814.9 302.8L815.4 301.1L815.9 298.8L816.4 297.9L816.9 296.9L817.4 296.8L817.9 297.5L818.4 298.3L818.9 299.3L819.4 300.5L819.9 301.6L820.4 302.5L820.9 303.2L821.4 304.2L821.9 305.6L822.4 306.9L822.9 307.5L823.4 308.8L823.9 310.1L824.4 311.5L824.9 313.0L825.4 313.7L825.9 314.9L826.4 316.3L826.9 317.1L827.4 318.1L827.9 319.9L828.4 321.0L828.9 322.7L829.4 324.3L829.9 326.0L830.4 327.4L830.9 330.0L831.4 332.7L831.9 334.5L832.4 336.2L832.9 338.1L833.4 340.6L833.9 342.2L834.4 344.2L834.9 346.8L835.4 348.0L835.9 348.5L836.4 347.7L836.9 346.2L837.4 343.5L837.9 341.5L838.4 339.2L838.9 336.4L839.4 334.3L839.9 332.8L840.4 330.0L840.9 327.8L841.4 325.0L841.9 322.3L842.4 321.0L842.9 318.6L843.4 315.3L843.9 313.2L844.4 311.4L844.9 308.8L845.4 307.1L845.9 306.7L846.4 306.6L846.9 308.0L847.4 310.0L847.9 313.8L848.4 316.4L848.9 319.2L849.4 323.3L849.9 326.0L850.4 327.3L850.9 328.9L851.4 330.0L851.9 331.6L852.4 333.2L852.9 334.2L853.4 335.7L853.9 336.5L854.4 336.4L854.9 336.1L855.4 335.3L855.9 335.7L856.4 334.8L856.9 335.1L857.4 334.6L857.9 333.9L858.4 334.3L858.9 333.8L859.4 333.1L859.9 332.8L860.4 332.0L860.9 331.2L861.4 330.4L861.9 329.5L862.4 328.7L862.9 328.7L863.4 327.9L863.9 327.3L864.4 326.2L864.9 325.8L865.4 324.7L865.9 324.6L866.4 324.5L866.9 325.4L867.4 326.0L867.9 326.5L868.4 327.6L868.9 327.7L869.4 327.1L869.9 326.6L870.4 326.7L870.9 325.3L871.4 324.5L871.9 323.3L872.4 322.2L872.9 320.6L873.4 319.4L873.9 318.5L874.4 317.6L874.9 315.3L875.4 314.3L875.9 312.8L876.4 311.5L876.9 310.4L877.4 309.1L877.9 309.0L878.4 308.6L878.9 308.5L879.4 309.5L879.9 310.2L880.4 310.1L880.9 310.9L881.4 311.5L881.9 311.9L882.4 312.0L882.9 311.5L883.4 311.2L883.9 310.1L884.4 309.0L884.9 309.0L885.4 309.1L885.9 308.3L886.4 308.2L886.9 307.9L887.4 308.2L887.9 308.3L888.4 309.6L888.9 309.4L889.4 310.5L889.9 311.7L890.4 312.6L890.9 313.7L891.4 314.4L891.9 314.7L892.4 314.8L892.9 315.0L893.4 314.8L893.9 314.3L894.4 313.0L894.9 312.5L895.4 311.7L895.9 311.6L896.4 310.6L896.9 309.4L897.4 308.6L897.9 307.9L898.4 307.4L898.9 307.3L899.4 307.9L899.9 307.6L900.4 308.6L900.9 309.6L901.4 309.8L901.9 310.2L902.4 311.3L902.9 312.2L903.4 313.3L903.9 314.3L904.4 315.7L904.9 317.3L905.4 318.2L905.9 319.3L906.4 321.2L906.9 322.0L907.4 322.9L907.9 322.9L908.4 323.1L908.9 322.4L909.4 321.9L909.9 320.2L910.4 319.6L910.9 319.2L911.4 317.8L911.9 316.6L912.4 316.7L912.9 317.2L913.4 317.1L913.9 316.6L914.4 316.2L914.9 316.1L915.4 315.4L915.9 315.0L916.4 314.6L916.9 313.9L917.4 313.2L917.9 312.7L918.4 312.7L918.9 312.5L919.4 311.2L919.9 311.3L920.4 310.8L920.9 310.1L921.4 309.6L921.9 309.0L922.4 309.2L922.9 309.5L923.4 309.0L923.9 309.0L924.4 310.4L924.9 311.4L925.4 312.1L925.9 313.3L926.4 314.8L926.9 315.5L927.4 316.2L927.9 317.4L928.4 317.8L928.9 318.4L929.4 319.4L929.9 320.1L930.4 320.3L930.9 320.3L931.4 319.7L931.9 318.4L932.4 318.2L932.9 317.3L933.4 316.3L933.9 316.6L934.4 315.9L934.9 316.1L935.4 315.9L935.9 316.4L936.4 316.9L936.9 317.3L937.4 317.8L937.9 318.3L938.4 318.9L938.9 318.8L939.4 318.3L939.9 318.0L940.4 316.5L940.9 314.2L941.4 312.8L941.9 311.0L942.4 308.8L942.9 306.4L943.4 305.2L943.9 303.9" stroke="#fdd835" stroke-width="1.3" fill="none"/>
</g>
<g font-size="11" fill="#b8b8b8">
<text x="15.9" y="277.1" textLength="66.2" lengthAdjust="spacingAndGlyphs">RSI (14, close)</text><text x="88.8" y="277.1" fill="#7e57c2" textLength="24.9" lengthAdjust="spacingAndGlyphs">81.39</text><text x="120.2" y="277.1" fill="#fdd835" textLength="24.8" lengthAdjust="spacingAndGlyphs">66.11</text>
</g>
<!-- MACD -->
<g clip-path="url(#cp)">
<path d="M9.43 423.1V423.8M10.30 423.2V423.8M14.21 421.2V423.8M15.08 420.8V423.8M15.94 420.0V423.8M16.38 419.6V423.8M16.81 418.4V423.8M30.70 423.5V423.8M31.14 422.3V423.8M31.57 420.8V423.8M32.44 420.1V423.8M33.31 419.7V423.8M35.91 423.1V423.8M45.89 423.5V423.8M46.76 423.7V423.8M48.50 422.5V423.8M55.01 422.7V423.8M55.87 422.8V423.8M56.74 422.7V423.8M57.18 422.3V423.8M57.61 421.0V423.8M58.48 421.8V423.8M59.35 421.9V423.8M60.65 423.1V423.8M61.95 423.2V423.8M62.82 423.2V423.8M63.25 423.1V423.8M64.55 423.6V423.8M64.99 423.1V423.8M65.86 423.4V423.8M66.72 423.0V423.8M67.16 421.6V423.8M68.46 423.7V423.8M73.67 423.6V423.8M74.10 422.2V423.8M74.97 422.7V423.8M75.41 422.0V423.8M75.84 420.5V423.8M77.14 421.3V423.8M78.88 422.7V423.8M81.05 423.6V423.8M81.48 422.8V423.8M82.35 421.7V423.8M82.78 421.5V423.8M84.09 421.2V423.8M85.39 422.6V423.8M93.63 422.4V423.8M94.50 422.2V423.8M95.37 421.9V423.8M95.80 421.3V423.8M97.11 421.5V423.8M97.97 421.5V423.8M99.71 423.1V423.8M100.14 423.1V423.8M101.45 423.2V423.8M102.31 422.3V423.8M103.62 421.6V423.8M104.48 422.4V423.8M104.92 422.1V423.8M105.35 420.8V423.8M106.22 421.0V423.8M113.60 423.0V423.8M114.03 422.6V423.8M114.90 421.3V423.8M115.34 420.3V423.8M116.20 421.0V423.8M116.64 419.5V423.8M120.11 423.0V423.8M121.85 423.5V423.8M126.19 421.3V423.8M127.49 422.9V423.8M137.90 423.7V423.8M138.34 423.1V423.8M138.77 422.0V423.8M140.07 421.8V423.8M140.51 421.3V423.8M140.94 420.7V423.8M141.38 420.1V423.8M141.81 419.3V423.8M142.68 417.8V423.8M143.98 420.5V423.8M144.41 420.2V423.8M144.85 419.2V423.8M146.15 420.1V423.8M147.45 421.8V423.8M149.19 423.5V423.8M156.57 423.1V423.8M173.06 423.6V423.8M180.87 422.0V423.8M181.31 421.6V423.8M181.74 421.4V423.8M182.61 421.2V423.8M183.48 421.3V423.8M183.91 421.3V423.8M184.78 420.6V423.8M185.65 420.8V423.8M186.51 421.6V423.8M187.38 422.0V423.8M187.82 421.9V423.8M188.25 421.8V423.8M188.68 420.0V423.8M189.55 422.2V423.8M189.99 421.6V423.8M191.29 421.8V423.8M192.59 422.0V423.8M193.02 421.1V423.8M193.89 421.5V423.8M195.19 422.9V423.8M196.06 422.9V423.8M197.80 423.6V423.8M204.31 423.5V423.8M206.48 423.8V423.8M206.91 422.7V423.8M207.78 423.0V423.8M208.65 423.5V423.8M209.95 423.5V423.8M211.25 423.3V423.8M212.56 423.2V423.8M213.42 423.2V423.8M214.29 423.0V423.8M215.16 422.5V423.8M216.90 423.3V423.8M217.76 423.7V423.8M218.63 423.4V423.8M220.37 423.0V423.8M223.41 423.5V423.8M235.12 422.3V423.8M235.99 421.3V423.8M236.43 421.2V423.8M236.86 420.1V423.8M237.73 420.8V423.8M238.16 419.8V423.8M238.60 419.5V423.8M239.47 420.8V423.8M240.77 420.7V423.8M242.07 421.4V423.8M243.37 421.6V423.8M244.67 421.9V423.8M245.54 421.5V423.8M247.28 423.3V423.8M249.45 422.9V423.8M249.88 422.7V423.8M250.32 422.0V423.8M252.05 423.8V423.8M252.49 423.1V423.8M253.35 423.3V423.8M255.09 423.6V423.8M259.43 422.9V423.8M261.60 422.6V423.8M262.90 423.5V423.8M263.77 423.0V423.8M264.20 422.4V423.8M265.07 422.6V423.8M265.51 421.2V423.8M266.81 422.2V423.8M267.68 421.8V423.8M268.11 421.6V423.8M268.54 421.3V423.8M269.41 421.2V423.8M269.85 420.9V423.8M271.58 421.7V423.8M272.02 420.8V423.8M272.88 421.5V423.8M274.19 421.9V423.8M274.62 421.4V423.8M275.49 422.3V423.8M276.36 421.5V423.8M278.09 421.7V423.8M278.53 421.6V423.8M279.39 421.3V423.8M280.26 421.2V423.8M305.87 423.1V423.8M306.74 423.0V423.8M307.17 423.0V423.8M307.61 421.9V423.8M308.47 422.2V423.8M308.91 422.0V423.8M309.78 422.2V423.8M310.21 420.6V423.8M311.08 421.3V423.8M311.51 421.0V423.8M312.38 420.5V423.8M313.68 420.8V423.8M314.55 421.3V423.8M315.42 421.6V423.8M316.29 421.9V423.8M316.72 421.2V423.8M317.59 421.6V423.8M318.02 421.0V423.8M318.89 420.9V423.8M320.19 421.4V423.8M321.06 420.8V423.8M321.93 421.2V423.8M322.36 420.7V423.8M323.23 420.0V423.8M324.10 421.4V423.8M324.53 421.1V423.8M326.27 422.3V423.8M327.14 422.9V423.8M328.01 423.7V423.8M328.87 423.4V423.8M329.74 423.0V423.8M330.18 422.9V423.8M330.61 422.8V423.8M331.04 422.5V423.8M332.35 421.6V423.8M333.21 422.2V423.8M336.25 423.7V423.8M337.55 423.3V423.8M340.16 423.5V423.8M342.33 423.1V423.8M344.06 423.5V423.8M344.50 422.7V423.8M345.80 423.5V423.8M346.23 423.2V423.8M346.67 422.9V423.8M347.54 423.8V423.8M347.97 423.6V423.8M348.40 423.6V423.8M348.84 423.3V423.8M349.71 423.2V423.8M350.57 422.5V423.8M351.01 422.3V423.8M354.91 423.7V423.8M356.22 423.2V423.8M356.65 422.4V423.8M358.39 423.7V423.8M359.69 421.8V423.8M360.99 422.0V423.8M361.86 421.8V423.8M363.16 420.5V423.8M363.60 420.3V423.8M364.03 420.1V423.8M364.90 419.4V423.8M365.77 419.0V423.8M367.07 420.0V423.8M367.94 419.3V423.8M368.80 418.5V423.8M369.67 419.5V423.8M370.11 419.2V423.8M370.54 418.9V423.8M372.71 423.2V423.8M381.82 423.5V423.8M382.26 423.5V423.8M383.13 422.5V423.8M383.56 422.1V423.8M383.99 420.3V423.8M384.86 420.7V423.8M385.30 420.6V423.8M386.16 419.7V423.8M403.52 423.6V423.8M403.96 422.2V423.8M404.39 421.6V423.8M405.70 422.0V423.8M406.13 420.1V423.8M407.00 420.3V423.8M407.87 419.8V423.8M408.73 420.0V423.8M409.17 419.7V423.8M409.60 419.3V423.8M410.47 420.7V423.8M410.90 420.5V423.8M411.77 420.6V423.8M412.64 421.0V423.8M413.51 421.1V423.8M413.94 420.8V423.8M414.81 421.7V423.8M415.68 421.5V423.8M416.98 421.5V423.8M417.41 421.2V423.8M417.85 421.1V423.8M419.15 421.3V423.8M419.58 420.7V423.8M422.19 421.2V423.8M422.62 420.9V423.8M423.49 421.2V423.8M423.92 419.8V423.8M425.23 420.2V423.8M427.40 421.8V423.8M428.26 423.5V423.8M445.62 423.5V423.8M446.49 422.0V423.8M447.36 421.8V423.8M447.80 421.5V423.8M449.10 422.8V423.8M449.53 422.5V423.8M449.97 422.4V423.8M450.40 422.3V423.8M450.83 421.9V423.8M462.99 423.3V423.8M463.42 423.1V423.8M463.85 422.7V423.8M464.72 422.1V423.8M465.16 421.8V423.8M465.59 421.4V423.8M466.02 419.9V423.8M466.89 419.5V423.8M467.76 419.7V423.8M468.19 418.8V423.8M469.50 419.7V423.8M469.93 418.9V423.8M491.20 423.4V423.8M491.63 423.0V423.8M492.07 421.9V423.8M492.50 420.5V423.8M493.80 420.6V423.8M494.24 420.3V423.8M494.67 419.0V423.8M495.54 418.9V423.8M496.41 419.4V423.8M496.84 418.7V423.8M497.71 418.8V423.8M498.58 419.1V423.8M499.44 419.0V423.8M499.88 418.6V423.8M500.31 418.3V423.8M501.18 419.4V423.8M512.03 422.7V423.8M513.77 422.5V423.8M514.20 421.6V423.8M515.07 421.2V423.8M516.80 421.7V423.8M517.24 421.3V423.8M518.54 421.6V423.8M519.84 421.7V423.8M521.14 421.1V423.8M522.45 421.8V423.8M524.18 422.7V423.8M525.48 423.0V423.8M526.35 422.7V423.8M527.22 422.4V423.8M528.09 423.0V423.8M528.52 422.8V423.8M528.96 422.0V423.8M529.39 421.3V423.8M529.82 421.3V423.8M531.13 422.9V423.8M531.56 421.7V423.8M532.43 423.6V423.8M545.88 423.7V423.8M546.32 423.0V423.8M546.75 422.3V423.8M547.62 422.0V423.8M548.05 421.7V423.8M556.73 423.4V423.8M557.17 422.5V423.8M558.04 422.4V423.8M558.47 422.3V423.8M558.90 421.1V423.8M559.77 421.5V423.8M560.21 420.3V423.8M561.07 420.4V423.8M561.51 420.3V423.8M561.94 419.7V423.8M562.81 419.9V423.8M563.24 419.6V423.8M564.55 419.7V423.8M564.98 419.5V423.8M566.28 420.4V423.8M567.15 420.2V423.8M568.02 419.3V423.8M569.32 418.8V423.8M571.06 420.1V423.8M571.49 419.9V423.8M572.36 419.6V423.8M572.79 418.7V423.8M587.55 423.2V423.8M587.98 421.6V423.8M588.42 420.4V423.8M588.85 419.4V423.8M589.29 419.2V423.8M589.72 416.6V423.8M598.40 423.7V423.8M598.83 422.7V423.8M599.70 421.2V423.8M600.57 420.9V423.8M601.44 420.6V423.8M601.87 420.1V423.8M603.17 420.9V423.8M604.04 420.4V423.8M604.48 420.3V423.8M605.78 422.6V423.8M606.65 422.8V423.8M607.51 422.7V423.8M607.95 422.0V423.8M609.25 423.7V423.8M609.68 421.7V423.8M610.55 423.1V423.8M611.42 422.8V423.8M621.84 422.7V423.8M622.27 421.3V423.8M622.71 421.2V423.8M623.57 420.6V423.8M624.01 419.9V423.8M624.44 419.7V423.8M624.88 419.2V423.8M625.31 418.7V423.8M625.74 418.6V423.8M626.18 418.0V423.8M626.61 415.2V423.8M627.48 415.4V423.8M627.91 413.5V423.8M629.22 413.8V423.8M630.08 414.2V423.8M630.52 414.0V423.8M630.95 412.9V423.8M631.82 413.6V423.8M643.54 421.7V423.8M644.41 420.9V423.8M645.71 419.4V423.8M646.58 419.8V423.8M647.01 419.2V423.8M648.31 418.3V423.8M649.18 418.6V423.8M649.61 417.3V423.8M651.35 419.1V423.8M651.78 418.2V423.8M652.22 417.7V423.8M653.09 418.3V423.8M653.52 418.1V423.8M653.95 417.8V423.8M654.82 418.0V423.8M655.26 417.0V423.8M656.13 418.8V423.8M656.56 418.1V423.8M656.99 417.8V423.8M657.86 419.0V423.8M658.73 418.2V423.8M660.90 423.1V423.8M676.52 421.9V423.8M677.39 422.1V423.8M677.83 422.1V423.8M678.26 422.0V423.8M678.69 421.9V423.8M679.13 420.7V423.8M679.56 420.0V423.8M680.00 419.8V423.8M693.02 423.7V423.8M693.45 421.7V423.8M694.32 421.9V423.8M694.75 420.2V423.8M695.19 419.5V423.8M695.62 418.2V423.8M696.05 416.9V423.8M696.92 416.1V423.8M697.79 416.8V423.8M698.66 416.4V423.8M699.09 415.8V423.8M699.96 415.2V423.8M700.40 414.9V423.8M702.57 420.4V423.8M705.60 423.2V423.8M720.36 422.9V423.8M721.23 422.8V423.8M721.66 421.8V423.8M722.96 419.9V423.8M724.27 421.5V423.8M724.70 420.3V423.8M726.00 421.1V423.8M726.87 420.6V423.8M727.74 420.9V423.8M728.17 420.2V423.8M729.04 420.0V423.8M731.21 423.8V423.8M744.23 422.1V423.8M744.67 421.9V423.8M745.10 420.8V423.8M745.53 420.5V423.8M745.97 418.2V423.8M746.84 418.7V423.8M747.27 417.8V423.8M748.57 417.6V423.8M756.38 422.3V423.8M756.82 421.7V423.8M757.25 420.6V423.8M757.69 418.4V423.8M758.12 417.7V423.8M758.99 417.5V423.8M759.42 417.1V423.8M759.86 417.1V423.8M760.72 417.1V423.8M761.16 416.6V423.8M762.03 417.0V423.8M762.89 416.3V423.8M763.33 416.0V423.8M763.76 415.9V423.8M765.93 420.0V423.8M767.67 421.7V423.8M768.54 421.5V423.8M768.97 421.4V423.8M769.84 421.8V423.8M771.14 423.0V423.8M773.31 423.5V423.8M773.74 423.1V423.8M774.18 422.7V423.8M774.61 422.6V423.8M775.48 422.5V423.8M776.78 423.0V423.8M778.08 423.4V423.8M781.12 423.7V423.8M782.43 423.6V423.8M784.60 423.0V423.8M788.50 423.5V423.8M789.37 423.0V423.8M790.24 422.8V423.8M791.54 422.6V423.8M794.14 422.6V423.8M794.58 421.2V423.8M795.88 421.6V423.8M796.31 420.6V423.8M797.18 421.2V423.8M798.05 420.6V423.8M798.92 421.3V423.8M799.35 419.8V423.8M800.22 419.8V423.8M801.09 419.5V423.8M801.96 420.2V423.8M802.82 418.5V423.8M811.50 421.8V423.8M811.94 419.8V423.8M812.37 418.8V423.8M812.81 417.4V423.8M813.67 416.1V423.8M814.54 416.3V423.8M817.15 422.6V423.8M835.38 421.9V423.8M835.81 419.7V423.8M836.24 418.1V423.8M836.68 417.0V423.8M837.55 415.7V423.8M837.98 415.1V423.8M838.41 414.0V423.8M838.85 413.5V423.8M839.72 414.8V423.8M840.15 413.6V423.8M840.58 412.5V423.8M841.89 413.0V423.8M842.32 412.5V423.8M842.75 411.8V423.8M843.19 411.7V423.8M856.64 423.5V423.8M857.08 423.0V423.8M857.94 422.4V423.8M858.38 421.9V423.8M858.81 421.7V423.8M859.25 421.0V423.8M860.11 421.7V423.8M860.98 421.7V423.8M862.28 422.4V423.8M864.46 422.2V423.8M865.76 423.8V423.8M867.06 423.4V423.8M868.36 422.9V423.8M869.23 421.8V423.8M869.66 421.7V423.8M870.10 419.6V423.8M870.53 418.8V423.8M871.40 419.2V423.8M871.83 417.6V423.8M873.57 417.4V423.8M874.00 416.9V423.8M874.44 416.8V423.8M874.87 416.5V423.8M875.31 416.5V423.8M876.61 418.6V423.8M879.65 423.5V423.8M883.99 423.6V423.8M884.85 420.7V423.8M885.72 421.1V423.8M892.67 423.5V423.8M893.53 423.6V423.8M893.97 422.3V423.8M894.84 422.3V423.8M895.27 422.0V423.8M897.01 422.9V423.8M897.87 423.8V423.8M908.73 423.6V423.8M909.16 421.4V423.8M910.46 421.9V423.8M910.90 421.2V423.8M911.76 421.8V423.8M912.63 421.9V423.8M913.93 422.2V423.8M914.80 421.7V423.8M916.54 421.9V423.8M917.41 420.8V423.8M919.58 423.5V423.8M921.75 423.6V423.8M927.82 423.4V423.8M929.12 423.3V423.8M931.73 423.2V423.8M932.60 423.0V423.8M935.63 423.1V423.8M936.94 423.2V423.8M937.37 423.2V423.8M937.80 422.2V423.8M938.67 421.1V423.8M939.97 420.7V423.8M940.41 420.4V423.8M940.84 418.8V423.8M942.58 419.5V423.8M943.01 419.2V423.8" stroke="#26a69a" stroke-width="0.75" fill="none"/>
<path d="M14.64 422.7V423.8M15.51 420.9V423.8M17.25 419.0V423.8M17.68 420.0V423.8M18.11 421.5V423.8M18.55 422.1V423.8M18.98 423.0V423.8M32.00 420.8V423.8M32.87 421.7V423.8M33.74 420.0V423.8M34.17 420.6V423.8M34.61 421.6V423.8M35.04 422.8V423.8M35.48 423.4V423.8M56.31 423.3V423.8M58.04 421.8V423.8M58.91 423.5V423.8M59.78 423.5V423.8M60.21 423.5V423.8M62.38 423.4V423.8M65.42 423.6V423.8M66.29 423.7V423.8M67.59 422.3V423.8M74.54 422.8V423.8M76.27 420.8V423.8M76.71 421.7V423.8M77.58 422.2V423.8M78.01 422.3V423.8M78.44 423.2V423.8M79.31 422.7V423.8M83.22 421.9V423.8M83.65 421.9V423.8M84.52 421.6V423.8M84.95 423.8V423.8M94.07 422.6V423.8M94.94 422.5V423.8M96.24 421.9V423.8M96.67 422.1V423.8M97.54 421.9V423.8M98.41 421.9V423.8M98.84 423.1V423.8M99.28 423.1V423.8M100.58 423.1V423.8M101.88 423.4V423.8M102.75 422.5V423.8M103.18 423.7V423.8M104.05 422.5V423.8M105.79 422.7V423.8M106.65 421.8V423.8M107.09 421.9V423.8M107.52 422.2V423.8M107.96 422.8V423.8M114.47 422.9V423.8M115.77 421.6V423.8M117.07 419.6V423.8M117.51 420.0V423.8M117.94 420.2V423.8M118.37 420.5V423.8M118.81 421.0V423.8M119.24 421.6V423.8M119.68 423.0V423.8M126.62 423.0V423.8M127.05 423.1V423.8M127.92 423.5V423.8M139.21 422.3V423.8M139.64 422.7V423.8M142.24 420.0V423.8M143.11 418.6V423.8M143.55 420.5V423.8M145.28 419.8V423.8M145.72 421.0V423.8M146.58 420.6V423.8M147.02 421.9V423.8M147.89 423.0V423.8M148.32 423.7V423.8M182.17 422.7V423.8M183.04 421.6V423.8M184.34 421.5V423.8M185.21 420.9V423.8M186.08 421.9V423.8M186.95 422.5V423.8M189.12 423.3V423.8M190.42 422.2V423.8M190.85 422.6V423.8M191.72 421.8V423.8M192.16 422.5V423.8M193.46 422.2V423.8M194.33 422.2V423.8M194.76 423.6V423.8M195.63 423.0V423.8M196.50 423.4V423.8M207.35 423.3V423.8M208.22 423.7V423.8M211.69 423.6V423.8M214.73 423.2V423.8M215.59 423.3V423.8M235.56 422.9V423.8M237.29 421.0V423.8M239.03 421.0V423.8M239.90 421.5V423.8M240.33 422.0V423.8M241.20 421.9V423.8M241.64 421.9V423.8M242.50 421.7V423.8M242.94 421.9V423.8M243.81 422.2V423.8M244.24 422.4V423.8M245.11 422.7V423.8M245.98 422.7V423.8M246.41 423.1V423.8M246.84 423.4V423.8M247.71 423.3V423.8M250.75 422.2V423.8M253.79 423.7V423.8M255.52 423.8V423.8M264.64 422.8V423.8M265.94 422.0V423.8M266.37 422.4V423.8M267.24 422.8V423.8M268.98 421.9V423.8M270.28 421.4V423.8M270.71 421.9V423.8M271.15 422.0V423.8M272.45 421.8V423.8M273.32 422.3V423.8M275.05 422.7V423.8M275.92 423.2V423.8M276.79 421.8V423.8M277.22 422.5V423.8M277.66 422.6V423.8M278.96 421.8V423.8M279.83 421.6V423.8M280.70 421.9V423.8M281.13 422.5V423.8M281.57 422.9V423.8M282.00 423.8V423.8M306.30 423.2V423.8M308.04 423.6V423.8M309.34 422.4V423.8M310.64 421.7V423.8M311.95 421.8V423.8M312.81 420.7V423.8M313.25 422.8V423.8M314.12 421.4V423.8M314.98 421.7V423.8M315.85 422.1V423.8M317.15 421.7V423.8M318.46 422.2V423.8M319.32 421.5V423.8M319.76 421.9V423.8M320.63 422.1V423.8M321.49 421.2V423.8M322.80 420.8V423.8M323.67 421.4V423.8M324.97 421.4V423.8M325.40 421.7V423.8M325.84 423.2V423.8M326.70 423.4V423.8M331.48 422.9V423.8M331.91 423.7V423.8M332.78 423.0V423.8M333.65 423.3V423.8M340.59 423.7V423.8M344.93 423.1V423.8M350.14 423.2V423.8M360.12 422.9V423.8M360.56 423.3V423.8M361.42 423.4V423.8M362.29 422.6V423.8M362.73 422.6V423.8M364.46 420.2V423.8M365.33 420.7V423.8M366.20 420.0V423.8M366.63 420.2V423.8M367.50 420.3V423.8M368.37 420.2V423.8M369.24 419.9V423.8M370.97 419.7V423.8M371.41 420.5V423.8M371.84 422.6V423.8M372.28 423.5V423.8M373.14 423.5V423.8M384.43 421.6V423.8M385.73 421.5V423.8M386.60 419.8V423.8M387.03 420.1V423.8M387.47 422.6V423.8M387.90 423.0V423.8M388.33 423.7V423.8M404.83 422.2V423.8M405.26 422.9V423.8M406.56 421.6V423.8M407.43 420.4V423.8M408.30 420.4V423.8M410.04 421.0V423.8M411.34 420.8V423.8M412.21 421.3V423.8M413.07 421.9V423.8M414.38 422.0V423.8M415.24 422.0V423.8M416.11 422.2V423.8M416.55 422.5V423.8M418.28 421.3V423.8M418.72 422.6V423.8M420.02 421.3V423.8M420.45 421.4V423.8M420.89 421.7V423.8M421.32 421.9V423.8M421.75 422.0V423.8M423.06 422.0V423.8M424.36 420.1V423.8M424.79 421.1V423.8M425.66 420.6V423.8M426.09 421.4V423.8M426.53 421.7V423.8M426.96 422.7V423.8M446.06 423.5V423.8M446.93 422.6V423.8M448.23 422.6V423.8M448.66 423.2V423.8M451.27 422.8V423.8M451.70 423.7V423.8M464.29 422.8V423.8M466.46 421.6V423.8M467.33 420.9V423.8M468.63 419.7V423.8M469.06 419.8V423.8M470.36 420.9V423.8M470.80 421.1V423.8M471.23 422.4V423.8M471.67 422.5V423.8M492.93 420.6V423.8M493.37 421.2V423.8M495.10 420.1V423.8M495.97 420.0V423.8M497.27 419.5V423.8M498.14 419.3V423.8M499.01 419.2V423.8M500.75 419.6V423.8M501.61 421.7V423.8M502.05 421.9V423.8M502.48 423.0V423.8M514.63 422.1V423.8M515.50 421.6V423.8M515.94 422.4V423.8M516.37 422.5V423.8M517.67 421.5V423.8M518.11 421.6V423.8M518.97 421.9V423.8M519.41 422.3V423.8M520.28 422.2V423.8M520.71 422.6V423.8M521.58 421.4V423.8M522.01 422.2V423.8M522.88 422.1V423.8M523.31 422.9V423.8M523.75 423.2V423.8M524.62 423.1V423.8M525.05 423.1V423.8M526.79 423.4V423.8M530.26 422.5V423.8M530.69 423.3V423.8M532.00 423.6V423.8M547.19 422.4V423.8M548.49 423.4V423.8M557.60 423.2V423.8M559.34 421.6V423.8M560.64 421.3V423.8M562.38 421.1V423.8M563.68 419.8V423.8M564.11 419.9V423.8M565.41 420.0V423.8M565.85 420.5V423.8M566.72 420.5V423.8M567.58 420.5V423.8M568.45 419.7V423.8M568.89 419.8V423.8M569.75 419.2V423.8M570.19 419.5V423.8M570.62 420.5V423.8M571.93 420.4V423.8M573.23 419.0V423.8M573.66 419.1V423.8M574.10 420.5V423.8M574.53 422.4V423.8M574.96 422.9V423.8M575.40 423.2V423.8M590.15 417.7V423.8M590.59 419.9V423.8M591.02 421.9V423.8M599.27 423.6V423.8M600.14 422.6V423.8M601.00 421.5V423.8M602.31 421.2V423.8M602.74 421.6V423.8M603.61 421.0V423.8M604.91 421.8V423.8M605.34 422.9V423.8M606.21 423.7V423.8M607.08 423.3V423.8M608.38 422.5V423.8M610.12 423.6V423.8M623.14 421.4V423.8M627.05 417.2V423.8M628.35 413.6V423.8M628.78 414.0V423.8M629.65 414.8V423.8M631.39 414.1V423.8M632.25 414.0V423.8M632.69 417.2V423.8M633.12 417.6V423.8M633.56 418.8V423.8M633.99 420.3V423.8M634.42 422.5V423.8M634.86 423.1V423.8M643.97 422.7V423.8M644.84 422.1V423.8M645.27 422.4V423.8M646.14 420.6V423.8M647.44 419.4V423.8M647.88 420.4V423.8M648.75 419.1V423.8M650.05 418.9V423.8M650.48 419.0V423.8M650.92 419.2V423.8M652.65 418.8V423.8M654.39 419.1V423.8M655.69 419.0V423.8M657.43 420.2V423.8M658.30 419.1V423.8M659.16 419.7V423.8M659.60 420.9V423.8M660.03 422.7V423.8M660.47 423.1V423.8M676.96 423.2V423.8M680.43 420.6V423.8M680.86 422.5V423.8M693.88 422.0V423.8M696.49 417.1V423.8M697.36 417.9V423.8M698.23 417.4V423.8M699.53 416.5V423.8M700.83 415.8V423.8M701.26 418.2V423.8M701.70 419.7V423.8M702.13 421.0V423.8M703.00 423.1V423.8M703.43 423.2V423.8M722.10 422.2V423.8M722.53 422.3V423.8M723.40 421.6V423.8M723.83 422.1V423.8M725.13 420.5V423.8M725.57 421.6V423.8M726.44 422.3V423.8M727.30 421.4V423.8M728.61 420.8V423.8M729.47 420.8V423.8M729.91 421.9V423.8M730.34 422.7V423.8M746.40 419.6V423.8M747.70 417.9V423.8M748.14 418.1V423.8M749.01 419.8V423.8M749.44 421.3V423.8M758.55 418.9V423.8M760.29 417.5V423.8M761.59 417.2V423.8M762.46 417.1V423.8M764.20 416.8V423.8M764.63 418.1V423.8M765.06 419.7V423.8M765.50 420.1V423.8M766.37 420.9V423.8M766.80 422.4V423.8M767.23 422.7V423.8M768.10 422.8V423.8M769.40 423.5V423.8M770.27 423.3V423.8M771.57 423.0V423.8M772.01 423.3V423.8M772.44 423.4V423.8M775.05 422.9V423.8M775.91 422.9V423.8M776.35 423.5V423.8M777.22 423.1V423.8M788.94 423.6V423.8M789.80 423.0V423.8M790.67 423.6V423.8M791.11 423.7V423.8M795.01 421.9V423.8M795.45 423.0V423.8M796.75 421.9V423.8M797.62 421.7V423.8M798.48 422.1V423.8M799.79 420.6V423.8M800.65 421.5V423.8M801.52 420.3V423.8M802.39 420.2V423.8M803.26 419.8V423.8M803.69 420.6V423.8M804.13 422.7V423.8M804.56 423.2V423.8M813.24 417.9V423.8M814.11 416.8V423.8M814.98 417.0V423.8M815.41 419.1V423.8M815.84 422.1V423.8M816.28 422.9V423.8M816.71 423.3V423.8M837.11 417.7V423.8M839.28 414.9V423.8M841.02 412.5V423.8M841.45 413.0V423.8M843.62 411.8V423.8M844.06 412.7V423.8M844.49 416.1V423.8M844.92 420.5V423.8M845.36 423.7V423.8M857.51 423.1V423.8M859.68 422.5V423.8M860.55 421.8V423.8M861.42 421.8V423.8M861.85 422.4V423.8M862.72 422.6V423.8M863.15 422.8V423.8M863.59 423.0V423.8M864.02 423.6V423.8M868.80 423.1V423.8M870.97 419.3V423.8M872.27 418.2V423.8M872.70 418.5V423.8M873.14 418.7V423.8M875.74 416.9V423.8M876.17 418.8V423.8M877.04 420.4V423.8M877.48 421.2V423.8M877.91 421.4V423.8M878.34 422.1V423.8M885.29 421.8V423.8M886.16 422.2V423.8M886.59 422.7V423.8M887.02 423.0V423.8M894.40 423.1V423.8M895.70 422.1V423.8M896.14 422.2V423.8M896.57 423.0V423.8M909.59 422.7V423.8M910.03 422.8V423.8M911.33 422.1V423.8M912.20 423.2V423.8M913.07 422.6V423.8M913.50 423.0V423.8M914.37 422.9V423.8M915.24 422.1V423.8M915.67 422.2V423.8M916.10 422.5V423.8M916.97 422.4V423.8M917.84 421.7V423.8M918.27 422.2V423.8M918.71 423.7V423.8M929.56 423.5V423.8M932.16 423.3V423.8M933.03 423.4V423.8M933.46 423.6V423.8M938.24 422.9V423.8M939.11 422.6V423.8M939.54 423.0V423.8M941.28 419.4V423.8M941.71 419.6V423.8M942.14 420.2V423.8M943.45 420.8V423.8" stroke="#b2dfdb" stroke-width="0.75" fill="none"/>
<path d="M9.00 423.8V424.2M9.87 423.8V424.5M10.74 423.8V423.9M11.17 423.8V424.6M12.04 423.8V425.5M12.91 423.8V424.1M13.34 423.8V425.9M19.42 423.8V424.3M20.28 423.8V424.8M21.15 423.8V425.8M22.02 423.8V425.6M22.89 423.8V426.7M24.19 423.8V426.7M25.06 423.8V426.2M25.49 423.8V427.0M25.93 423.8V427.1M27.66 423.8V426.5M28.53 423.8V425.1M28.96 423.8V425.2M36.34 423.8V424.6M36.78 423.8V425.5M38.08 423.8V426.6M39.82 423.8V425.3M40.68 423.8V425.5M41.55 423.8V426.6M43.29 423.8V425.2M44.59 423.8V424.6M45.46 423.8V425.3M46.33 423.8V424.7M47.19 423.8V424.5M47.63 423.8V424.5M48.93 423.8V424.8M49.36 423.8V425.5M50.23 423.8V425.1M51.10 423.8V425.6M52.40 423.8V425.8M54.14 423.8V424.5M55.44 423.8V424.0M61.08 423.8V424.4M63.69 423.8V424.6M68.03 423.8V424.6M68.89 423.8V424.1M70.20 423.8V424.1M70.63 423.8V425.7M71.50 423.8V426.3M72.80 423.8V424.8M79.75 423.8V424.5M80.18 423.8V425.2M80.61 423.8V425.7M81.92 423.8V423.8M85.82 423.8V424.2M86.26 423.8V425.6M86.69 423.8V426.5M87.12 423.8V427.0M87.56 423.8V428.0M87.99 423.8V428.2M89.29 423.8V426.9M89.73 423.8V427.0M91.03 423.8V427.4M92.77 423.8V424.8M101.01 423.8V423.8M108.39 423.8V423.8M108.82 423.8V425.0M109.26 423.8V425.0M110.13 423.8V424.9M110.56 423.8V425.9M111.43 423.8V425.5M112.30 423.8V426.3M113.17 423.8V425.0M120.54 423.8V424.2M120.98 423.8V424.5M121.41 423.8V424.8M122.28 423.8V426.0M124.45 423.8V425.1M124.88 423.8V425.4M128.36 423.8V424.7M128.79 423.8V425.5M129.66 423.8V425.5M130.09 423.8V427.2M130.96 423.8V427.0M131.83 423.8V427.9M132.70 423.8V427.8M133.56 423.8V428.4M134.43 423.8V427.8M135.30 423.8V427.5M148.75 423.8V424.1M149.62 423.8V424.2M150.06 423.8V424.8M150.49 423.8V425.1M150.92 423.8V425.8M151.79 423.8V426.5M152.23 423.8V427.1M153.09 423.8V425.1M153.96 423.8V425.6M154.83 423.8V424.6M155.70 423.8V424.5M157.00 423.8V424.4M157.44 423.8V424.5M158.74 423.8V424.5M159.17 423.8V425.6M160.47 423.8V425.2M161.78 423.8V425.7M162.64 423.8V426.2M163.51 423.8V425.1M163.95 423.8V425.3M164.38 423.8V425.6M165.68 423.8V425.8M166.55 423.8V425.6M166.98 423.8V426.5M169.15 423.8V425.8M170.02 423.8V425.5M171.32 423.8V425.3M172.19 423.8V426.0M173.49 423.8V426.2M174.36 423.8V425.6M174.80 423.8V426.2M175.66 423.8V425.5M176.97 423.8V426.7M177.83 423.8V426.2M179.57 423.8V426.0M196.93 423.8V424.2M198.23 423.8V424.6M199.10 423.8V424.0M199.54 423.8V424.4M199.97 423.8V424.8M200.84 423.8V424.7M201.71 423.8V425.5M203.01 423.8V425.1M203.44 423.8V425.6M204.74 423.8V424.7M205.61 423.8V424.0M209.08 423.8V424.8M210.39 423.8V424.3M212.12 423.8V424.8M212.99 423.8V423.9M213.86 423.8V423.9M216.03 423.8V424.5M217.33 423.8V425.0M218.20 423.8V425.1M219.07 423.8V424.8M219.93 423.8V424.9M220.80 423.8V425.1M221.24 423.8V425.3M222.10 423.8V425.4M223.84 423.8V425.3M224.27 423.8V426.0M225.14 423.8V426.5M226.01 423.8V427.5M227.31 423.8V426.8M227.75 423.8V427.1M228.61 423.8V427.0M229.05 423.8V427.2M229.48 423.8V427.5M230.35 423.8V428.2M230.78 423.8V429.3M231.22 423.8V429.4M232.09 423.8V428.4M232.52 423.8V428.9M233.82 423.8V425.7M248.15 423.8V424.2M248.58 423.8V425.0M251.18 423.8V425.4M252.92 423.8V424.6M254.22 423.8V424.7M254.66 423.8V425.1M255.96 423.8V425.1M257.69 423.8V424.6M258.56 423.8V424.7M259.00 423.8V425.0M259.86 423.8V424.2M260.30 423.8V425.1M261.17 423.8V424.6M262.03 423.8V424.1M263.34 423.8V423.9M273.75 423.8V424.0M282.43 423.8V424.9M282.87 423.8V426.1M284.17 423.8V426.1M285.04 423.8V426.0M286.34 423.8V426.7M286.77 423.8V427.5M287.64 423.8V427.8M288.08 423.8V427.9M288.51 423.8V428.5M288.94 423.8V428.8M290.25 423.8V429.0M291.11 423.8V427.0M291.55 423.8V427.1M292.42 423.8V428.2M294.15 423.8V427.5M295.45 423.8V426.2M296.32 423.8V426.6M297.62 423.8V427.0M298.49 423.8V425.9M299.36 423.8V425.7M299.79 423.8V426.2M300.66 423.8V426.1M301.10 423.8V426.7M301.53 423.8V427.2M302.83 423.8V426.8M304.13 423.8V426.7M327.57 423.8V424.0M328.44 423.8V424.6M329.31 423.8V424.9M334.08 423.8V423.8M334.52 423.8V424.1M335.82 423.8V425.1M336.69 423.8V424.1M337.12 423.8V424.6M337.99 423.8V425.5M338.86 423.8V425.5M341.03 423.8V424.0M341.46 423.8V425.2M342.76 423.8V424.3M343.63 423.8V424.5M345.37 423.8V423.9M347.10 423.8V425.1M349.27 423.8V423.9M351.44 423.8V424.8M352.31 423.8V424.5M353.18 423.8V424.8M354.48 423.8V424.2M355.35 423.8V424.1M357.08 423.8V424.6M357.52 423.8V425.1M358.82 423.8V424.7M373.58 423.8V424.4M374.01 423.8V425.5M375.75 423.8V425.9M377.05 423.8V424.9M377.92 423.8V425.6M378.35 423.8V425.9M379.22 423.8V426.2M380.09 423.8V425.5M380.96 423.8V426.2M382.69 423.8V424.0M388.77 423.8V424.2M389.20 423.8V424.4M389.64 423.8V425.8M390.50 423.8V426.0M390.94 423.8V426.0M391.37 423.8V426.4M392.24 423.8V426.9M392.67 423.8V427.3M393.54 423.8V427.0M393.98 423.8V427.7M394.84 423.8V427.7M396.15 423.8V427.4M397.01 423.8V427.4M397.45 423.8V427.6M398.75 423.8V426.9M399.18 423.8V427.5M399.62 423.8V428.3M400.05 423.8V428.6M400.92 423.8V429.3M401.79 423.8V428.1M427.83 423.8V424.8M428.70 423.8V423.9M429.13 423.8V424.9M430.00 423.8V425.0M430.43 423.8V425.4M430.87 423.8V425.6M431.30 423.8V425.9M432.17 423.8V425.5M432.60 423.8V426.3M433.47 423.8V425.8M434.34 423.8V425.3M434.77 423.8V425.8M435.64 423.8V424.9M436.08 423.8V425.0M437.81 423.8V424.9M438.25 423.8V425.1M439.11 423.8V426.0M439.98 423.8V426.4M440.42 423.8V426.7M440.85 423.8V427.1M441.72 423.8V427.3M442.59 423.8V427.1M444.32 423.8V425.4M452.14 423.8V424.5M452.57 423.8V424.6M453.00 423.8V425.1M453.87 423.8V424.5M454.31 423.8V426.3M455.61 423.8V427.5M456.91 423.8V425.5M457.34 423.8V425.6M458.21 423.8V426.7M459.08 423.8V426.9M460.38 423.8V426.6M460.82 423.8V427.0M461.68 423.8V426.9M462.12 423.8V427.0M472.10 423.8V425.3M472.53 423.8V425.4M472.97 423.8V426.6M474.27 423.8V425.5M474.70 423.8V426.3M476.01 423.8V426.6M476.87 423.8V426.7M478.18 423.8V426.2M478.61 423.8V426.5M480.78 423.8V425.8M481.21 423.8V427.0M481.65 423.8V427.0M482.52 423.8V426.9M483.82 423.8V426.1M484.69 423.8V426.9M485.99 423.8V426.8M487.29 423.8V426.6M488.16 423.8V426.7M489.03 423.8V426.1M489.90 423.8V426.1M502.92 423.8V425.1M503.35 423.8V426.0M503.78 423.8V426.6M504.22 423.8V428.0M505.09 423.8V428.0M505.95 423.8V429.0M506.39 423.8V430.0M507.26 423.8V430.4M508.12 423.8V431.4M508.99 423.8V430.3M512.46 423.8V424.4M513.33 423.8V424.0M525.92 423.8V424.6M527.65 423.8V424.2M532.86 423.8V424.6M533.30 423.8V425.3M534.17 423.8V425.1M534.60 423.8V425.2M535.03 423.8V425.8M535.47 423.8V426.5M536.34 423.8V427.1M537.20 423.8V426.4M537.64 423.8V427.7M538.94 423.8V427.3M539.37 423.8V427.6M541.11 423.8V425.9M541.54 423.8V427.4M542.41 423.8V427.8M544.15 423.8V426.4M545.02 423.8V426.7M548.92 423.8V425.1M549.36 423.8V427.9M549.79 423.8V429.3M550.22 423.8V429.7M550.66 423.8V431.3M551.09 423.8V433.4M552.83 423.8V433.3M553.26 423.8V434.7M575.83 423.8V425.5M576.27 423.8V426.1M576.70 423.8V426.3M577.57 423.8V426.7M578.87 423.8V425.6M579.74 423.8V427.1M580.61 423.8V426.3M581.04 423.8V427.5M582.34 423.8V427.6M583.21 423.8V427.5M584.08 423.8V427.9M585.38 423.8V427.7M591.46 423.8V424.0M591.89 423.8V425.7M592.32 423.8V426.7M592.76 423.8V428.3M593.63 423.8V429.5M594.49 423.8V430.4M594.93 423.8V431.0M596.23 423.8V426.8M597.53 423.8V424.6M597.97 423.8V425.4M608.82 423.8V423.9M610.99 423.8V424.0M611.85 423.8V424.0M612.29 423.8V428.2M612.72 423.8V429.7M613.16 423.8V433.5M614.03 423.8V435.6M614.46 423.8V436.5M614.89 423.8V438.4M615.33 423.8V438.8M615.76 423.8V440.5M616.20 423.8V440.6M616.63 423.8V441.3M617.50 423.8V442.0M621.40 423.8V425.0M635.29 423.8V424.4M636.16 423.8V425.1M637.03 423.8V425.1M637.90 423.8V426.4M639.20 423.8V425.7M639.63 423.8V426.8M640.93 423.8V425.4M641.37 423.8V425.6M641.80 423.8V426.5M661.33 423.8V425.1M661.77 423.8V426.2M662.64 423.8V425.8M663.50 423.8V426.8M663.94 423.8V426.9M664.81 423.8V426.6M665.67 423.8V426.8M666.11 423.8V427.5M667.41 423.8V428.1M668.28 423.8V427.3M669.58 423.8V426.9M670.45 423.8V427.6M671.32 423.8V426.6M671.75 423.8V427.4M672.62 423.8V428.0M673.05 423.8V428.7M673.92 423.8V427.4M675.22 423.8V427.8M681.30 423.8V424.1M682.17 423.8V425.8M682.60 423.8V427.1M683.03 423.8V427.6M683.47 423.8V428.9M684.34 423.8V428.6M684.77 423.8V430.2M686.07 423.8V429.7M686.51 423.8V430.4M687.37 423.8V429.8M687.81 423.8V429.8M688.24 423.8V430.9M689.11 423.8V430.1M689.54 423.8V430.5M689.98 423.8V431.0M690.85 423.8V430.4M691.28 423.8V431.6M703.87 423.8V423.8M704.30 423.8V425.3M705.17 423.8V425.4M706.04 423.8V424.2M706.47 423.8V425.2M707.34 423.8V425.8M708.21 423.8V425.6M709.08 423.8V426.3M709.51 423.8V427.1M710.81 423.8V425.3M711.25 423.8V425.4M711.68 423.8V426.3M712.55 423.8V426.7M712.98 423.8V426.7M714.28 423.8V426.4M715.15 423.8V426.6M716.45 423.8V426.2M716.89 423.8V426.9M717.32 423.8V427.6M718.19 423.8V426.3M719.49 423.8V425.1M720.79 423.8V423.9M730.78 423.8V424.7M731.64 423.8V424.9M732.51 423.8V426.7M733.81 423.8V427.2M735.12 423.8V427.0M735.55 423.8V427.2M736.85 423.8V427.6M737.29 423.8V428.1M738.15 423.8V428.1M739.02 423.8V429.1M739.89 423.8V427.9M740.76 423.8V428.2M741.19 423.8V428.3M741.63 423.8V428.5M742.06 423.8V429.1M749.87 423.8V426.4M750.31 423.8V426.7M750.74 423.8V428.5M751.18 423.8V430.5M751.61 423.8V431.3M752.04 423.8V431.7M752.48 423.8V432.6M752.91 423.8V433.5M753.35 423.8V435.1M770.71 423.8V423.8M772.88 423.8V424.3M777.65 423.8V424.0M778.52 423.8V424.6M778.95 423.8V424.7M779.39 423.8V425.5M780.69 423.8V425.1M781.56 423.8V424.3M781.99 423.8V424.4M782.86 423.8V424.1M783.29 423.8V424.5M785.03 423.8V424.1M785.46 423.8V424.7M785.90 423.8V425.2M787.20 423.8V424.6M791.97 423.8V424.4M792.41 423.8V425.1M793.71 423.8V424.2M804.99 423.8V424.5M805.43 423.8V425.8M805.86 423.8V426.6M806.73 423.8V425.4M807.16 423.8V427.6M807.60 423.8V427.8M808.47 423.8V427.8M808.90 423.8V428.2M809.33 423.8V429.5M817.58 423.8V424.2M818.01 423.8V425.2M818.45 423.8V426.1M818.88 423.8V427.1M819.32 423.8V427.2M820.18 423.8V428.8M821.05 423.8V429.3M821.92 423.8V429.9M823.66 423.8V429.1M824.09 423.8V429.7M826.26 423.8V427.8M826.70 423.8V428.8M827.13 423.8V429.3M828.00 423.8V428.9M828.43 423.8V431.3M829.30 423.8V429.9M829.73 423.8V430.0M830.60 423.8V429.9M832.34 423.8V430.3M833.21 423.8V429.3M845.79 423.8V426.6M846.23 423.8V427.2M846.66 423.8V429.3M847.09 423.8V430.7M847.53 423.8V431.4M847.96 423.8V432.0M848.40 423.8V432.1M848.83 423.8V434.2M849.70 423.8V436.1M850.57 423.8V436.0M851.00 423.8V436.6M851.43 423.8V436.8M853.60 423.8V429.2M854.47 423.8V427.5M864.89 423.8V424.1M865.32 423.8V424.4M866.19 423.8V423.9M866.63 423.8V424.9M867.49 423.8V424.0M867.93 423.8V424.0M878.78 423.8V424.0M879.21 423.8V424.2M880.08 423.8V424.3M880.95 423.8V424.9M881.82 423.8V425.2M882.68 423.8V425.5M884.42 423.8V423.9M887.46 423.8V424.5M887.89 423.8V425.3M889.19 423.8V426.1M889.63 423.8V426.2M890.06 423.8V426.2M890.93 423.8V426.1M891.80 423.8V425.1M893.10 423.8V424.3M897.44 423.8V423.9M898.31 423.8V424.9M898.74 423.8V426.6M899.61 423.8V426.9M900.04 423.8V427.2M900.48 423.8V427.6M902.21 423.8V427.6M903.95 423.8V428.6M904.82 423.8V427.9M908.29 423.8V424.4M919.14 423.8V424.6M920.01 423.8V425.0M920.88 423.8V424.4M921.31 423.8V424.8M922.18 423.8V424.4M922.61 423.8V425.1M923.48 423.8V425.1M924.78 423.8V426.1M925.65 423.8V426.4M927.39 423.8V424.6M928.26 423.8V424.1M928.69 423.8V424.5M929.99 423.8V425.1M931.29 423.8V424.6M933.90 423.8V424.3M934.33 423.8V424.4M934.77 423.8V425.0M936.07 423.8V424.1M936.50 423.8V424.8" stroke="#ff5252" stroke-width="0.75" fill="none"/>
<path d="M11.60 423.8V424.0M12.47 423.8V423.9M13.77 423.8V424.8M19.85 423.8V424.1M20.72 423.8V424.1M21.59 423.8V425.5M22.45 423.8V425.1M23.32 423.8V426.5M23.76 423.8V425.6M24.62 423.8V425.6M26.36 423.8V426.8M26.79 423.8V426.8M27.23 423.8V426.2M28.10 423.8V425.0M29.40 423.8V424.9M29.83 423.8V424.9M30.27 423.8V424.1M37.21 423.8V425.3M37.65 423.8V425.2M38.51 423.8V425.9M38.95 423.8V425.0M39.38 423.8V424.6M40.25 423.8V425.1M41.12 423.8V424.7M41.99 423.8V426.0M42.42 423.8V425.9M42.85 423.8V424.7M43.72 423.8V424.5M44.16 423.8V424.0M45.02 423.8V424.5M48.06 423.8V424.4M49.80 423.8V424.8M50.67 423.8V424.8M51.53 423.8V425.6M51.97 423.8V425.0M52.84 423.8V425.2M53.27 423.8V424.5M53.70 423.8V424.3M54.57 423.8V424.3M61.52 423.8V424.0M64.12 423.8V424.0M69.33 423.8V424.0M69.76 423.8V423.9M71.06 423.8V425.4M71.93 423.8V426.0M72.37 423.8V424.7M73.24 423.8V424.6M88.43 423.8V427.0M88.86 423.8V426.3M90.16 423.8V426.9M90.60 423.8V426.3M91.46 423.8V426.6M91.90 423.8V425.7M92.33 423.8V424.3M93.20 423.8V424.7M109.69 423.8V424.3M110.99 423.8V425.0M111.86 423.8V425.0M112.73 423.8V424.8M122.71 423.8V426.0M123.15 423.8V425.6M123.58 423.8V425.5M124.02 423.8V424.9M125.32 423.8V424.0M125.75 423.8V423.8M129.22 423.8V425.1M130.53 423.8V426.2M131.39 423.8V426.2M132.26 423.8V427.0M133.13 423.8V427.5M134.00 423.8V427.5M134.87 423.8V427.0M135.73 423.8V426.4M136.17 423.8V425.6M136.60 423.8V425.5M137.04 423.8V425.4M137.47 423.8V424.2M151.36 423.8V425.6M152.66 423.8V424.8M153.53 423.8V423.9M154.40 423.8V424.5M155.27 423.8V424.2M156.13 423.8V423.9M157.87 423.8V424.0M158.30 423.8V424.0M159.61 423.8V424.8M160.04 423.8V424.2M160.91 423.8V425.0M161.34 423.8V424.9M162.21 423.8V425.3M163.08 423.8V424.9M164.81 423.8V425.5M165.25 423.8V425.1M166.12 423.8V425.5M167.42 423.8V425.8M167.85 423.8V425.7M168.29 423.8V425.4M168.72 423.8V424.8M169.59 423.8V424.4M170.46 423.8V425.4M170.89 423.8V424.6M171.76 423.8V424.8M172.63 423.8V425.7M173.93 423.8V425.5M175.23 423.8V425.3M176.10 423.8V425.1M176.53 423.8V425.0M177.40 423.8V424.2M178.27 423.8V426.1M178.70 423.8V425.7M179.14 423.8V425.7M180.00 423.8V424.9M180.44 423.8V424.3M197.37 423.8V424.0M198.67 423.8V423.8M200.40 423.8V424.1M201.27 423.8V424.4M202.14 423.8V425.4M202.57 423.8V424.4M203.88 423.8V425.5M205.18 423.8V424.0M206.05 423.8V424.0M209.52 423.8V424.3M210.82 423.8V424.2M216.46 423.8V424.0M219.50 423.8V424.8M221.67 423.8V424.7M222.54 423.8V424.7M222.97 423.8V424.2M224.71 423.8V425.8M225.58 423.8V425.8M226.44 423.8V426.8M226.88 423.8V424.9M228.18 423.8V426.5M229.92 423.8V427.3M231.65 423.8V427.8M232.95 423.8V427.7M233.39 423.8V425.6M234.26 423.8V425.0M234.69 423.8V424.7M249.01 423.8V423.9M251.62 423.8V424.4M256.39 423.8V424.8M256.83 423.8V424.3M257.26 423.8V424.1M258.13 423.8V424.5M260.73 423.8V424.1M262.47 423.8V423.8M283.30 423.8V425.2M283.74 423.8V424.8M284.60 423.8V425.5M285.47 423.8V425.5M285.91 423.8V425.3M287.21 423.8V427.3M289.38 423.8V428.3M289.81 423.8V427.4M290.68 423.8V427.0M291.98 423.8V426.6M292.85 423.8V427.4M293.28 423.8V427.3M293.72 423.8V426.6M294.59 423.8V426.0M295.02 423.8V424.8M295.89 423.8V425.7M296.76 423.8V426.3M297.19 423.8V425.6M298.06 423.8V424.8M298.93 423.8V425.0M300.23 423.8V424.8M301.96 423.8V426.5M302.40 423.8V426.3M303.27 423.8V425.7M303.70 423.8V425.4M304.57 423.8V426.2M305.00 423.8V425.7M305.44 423.8V425.6M334.95 423.8V423.9M335.38 423.8V423.8M338.42 423.8V425.2M339.29 423.8V425.3M339.72 423.8V425.2M341.89 423.8V424.0M343.20 423.8V423.9M351.88 423.8V424.4M352.74 423.8V424.3M353.61 423.8V424.5M354.05 423.8V424.1M355.78 423.8V424.0M357.95 423.8V424.1M359.25 423.8V424.2M374.45 423.8V424.9M374.88 423.8V424.7M375.31 423.8V424.5M376.18 423.8V425.1M376.62 423.8V424.9M377.48 423.8V424.6M378.79 423.8V425.2M379.65 423.8V425.4M380.52 423.8V425.0M381.39 423.8V424.7M390.07 423.8V424.9M391.81 423.8V426.1M393.11 423.8V426.2M394.41 423.8V427.4M395.28 423.8V427.3M395.71 423.8V427.3M396.58 423.8V427.3M397.88 423.8V427.5M398.32 423.8V426.5M400.49 423.8V428.3M401.35 423.8V427.8M402.22 423.8V426.4M402.66 423.8V425.8M403.09 423.8V423.9M429.57 423.8V424.9M431.74 423.8V425.3M433.04 423.8V424.4M433.91 423.8V425.1M435.21 423.8V424.8M436.51 423.8V425.0M436.94 423.8V424.7M437.38 423.8V424.6M438.68 423.8V425.0M439.55 423.8V425.0M441.28 423.8V426.3M442.15 423.8V425.9M443.02 423.8V426.4M443.45 423.8V426.3M443.89 423.8V425.1M444.76 423.8V424.9M445.19 423.8V424.8M453.44 423.8V424.3M454.74 423.8V425.3M455.17 423.8V425.3M456.04 423.8V426.1M456.48 423.8V425.1M457.78 423.8V425.5M458.65 423.8V426.0M459.51 423.8V425.6M459.95 423.8V425.6M461.25 423.8V425.8M462.55 423.8V425.3M473.40 423.8V425.2M473.84 423.8V424.4M475.14 423.8V425.4M475.57 423.8V425.2M476.44 423.8V425.7M477.31 423.8V426.5M477.74 423.8V425.9M479.04 423.8V426.2M479.48 423.8V425.8M479.91 423.8V425.6M480.35 423.8V425.2M482.08 423.8V426.4M482.95 423.8V426.7M483.38 423.8V425.8M484.25 423.8V425.8M485.12 423.8V426.5M485.55 423.8V426.3M486.42 423.8V425.8M486.86 423.8V425.8M487.72 423.8V426.3M488.59 423.8V425.8M489.46 423.8V424.3M490.33 423.8V425.6M490.76 423.8V425.1M504.65 423.8V428.0M505.52 423.8V427.7M506.82 423.8V429.8M507.69 423.8V429.6M508.56 423.8V430.3M509.43 423.8V428.8M509.86 423.8V426.0M510.29 423.8V425.7M510.73 423.8V425.0M511.16 423.8V424.4M511.60 423.8V423.9M512.90 423.8V423.9M533.73 423.8V424.9M535.90 423.8V425.4M536.77 423.8V426.2M538.07 423.8V426.0M538.51 423.8V424.7M539.81 423.8V427.5M540.24 423.8V426.3M540.68 423.8V425.2M541.98 423.8V426.7M542.85 423.8V427.6M543.28 423.8V427.2M543.71 423.8V426.3M544.58 423.8V425.3M545.45 423.8V424.3M551.53 423.8V432.9M551.96 423.8V432.5M552.39 423.8V431.9M553.70 423.8V432.3M554.13 423.8V430.1M554.56 423.8V428.2M555.00 423.8V427.1M555.43 423.8V424.9M555.87 423.8V424.2M556.30 423.8V423.8M577.13 423.8V425.9M578.00 423.8V426.0M578.44 423.8V425.4M579.30 423.8V424.8M580.17 423.8V426.2M581.47 423.8V426.9M581.91 423.8V426.6M582.78 423.8V426.8M583.64 423.8V427.0M584.51 423.8V427.3M584.95 423.8V426.3M585.81 423.8V426.9M586.25 423.8V426.2M586.68 423.8V425.9M587.12 423.8V424.1M593.19 423.8V428.2M594.06 423.8V429.3M595.36 423.8V429.9M595.80 423.8V426.4M596.66 423.8V425.6M597.10 423.8V424.0M613.59 423.8V433.2M617.06 423.8V440.9M617.93 423.8V441.9M618.37 423.8V439.5M618.80 423.8V435.9M619.23 423.8V431.7M619.67 423.8V431.3M620.10 423.8V427.4M620.54 423.8V426.6M620.97 423.8V424.3M635.73 423.8V424.2M636.59 423.8V424.5M637.46 423.8V425.0M638.33 423.8V426.0M638.76 423.8V425.0M640.07 423.8V426.0M640.50 423.8V425.3M642.24 423.8V425.9M642.67 423.8V424.8M643.10 423.8V424.1M662.20 423.8V425.7M663.07 423.8V425.6M664.37 423.8V426.1M665.24 423.8V426.4M666.54 423.8V427.3M666.98 423.8V426.0M667.84 423.8V426.8M668.71 423.8V427.3M669.15 423.8V426.8M670.01 423.8V426.7M670.88 423.8V425.8M672.18 423.8V426.1M673.49 423.8V427.2M674.35 423.8V427.2M674.79 423.8V426.3M675.66 423.8V426.0M676.09 423.8V424.4M681.73 423.8V424.0M683.90 423.8V428.0M685.20 423.8V430.0M685.64 423.8V429.5M686.94 423.8V429.3M688.68 423.8V430.0M690.41 423.8V430.0M691.71 423.8V431.1M692.15 423.8V428.6M692.58 423.8V426.0M704.74 423.8V423.8M706.91 423.8V424.2M707.77 423.8V424.9M708.64 423.8V425.6M709.94 423.8V425.5M710.38 423.8V425.1M712.11 423.8V426.3M713.42 423.8V426.3M713.85 423.8V425.5M714.72 423.8V425.2M715.59 423.8V426.1M716.02 423.8V425.7M717.76 423.8V425.5M718.62 423.8V425.1M719.06 423.8V424.0M719.93 423.8V423.9M732.08 423.8V424.8M732.95 423.8V426.1M733.38 423.8V425.6M734.25 423.8V426.8M734.68 423.8V426.6M735.98 423.8V426.7M736.42 423.8V426.6M737.72 423.8V427.4M738.59 423.8V427.7M739.46 423.8V427.1M740.33 423.8V427.1M742.50 423.8V428.4M742.93 423.8V426.8M743.36 423.8V425.9M743.80 423.8V424.4M753.78 423.8V434.3M754.21 423.8V432.2M754.65 423.8V429.7M755.08 423.8V427.9M755.52 423.8V426.0M755.95 423.8V424.6M779.82 423.8V425.1M780.26 423.8V424.6M783.73 423.8V424.3M784.16 423.8V424.0M786.33 423.8V424.2M786.77 423.8V424.2M787.63 423.8V424.5M788.07 423.8V424.4M792.84 423.8V424.9M793.28 423.8V424.2M806.30 423.8V425.1M808.03 423.8V427.3M809.77 423.8V428.2M810.20 423.8V426.6M810.64 423.8V423.8M811.07 423.8V423.8M819.75 423.8V426.8M820.62 423.8V428.5M821.49 423.8V428.5M822.36 423.8V429.0M822.79 423.8V428.8M823.22 423.8V428.1M824.53 423.8V428.9M824.96 423.8V428.6M825.39 423.8V428.5M825.83 423.8V427.3M827.56 423.8V428.3M828.87 423.8V429.3M830.17 423.8V429.4M831.04 423.8V429.5M831.47 423.8V429.1M831.90 423.8V428.9M832.77 423.8V429.1M833.64 423.8V429.0M834.07 423.8V428.5M834.51 423.8V425.9M834.94 423.8V424.1M849.26 423.8V434.2M850.13 423.8V435.4M851.87 423.8V435.9M852.30 423.8V433.3M852.74 423.8V432.0M853.17 423.8V429.2M854.04 423.8V427.3M854.91 423.8V425.3M855.34 423.8V425.1M855.77 423.8V424.8M856.21 423.8V424.7M880.51 423.8V424.2M881.38 423.8V424.6M882.25 423.8V424.9M883.12 423.8V425.1M883.55 423.8V424.4M888.33 423.8V425.2M888.76 423.8V425.1M890.50 423.8V425.8M891.36 423.8V424.3M892.23 423.8V424.6M899.18 423.8V426.4M900.91 423.8V427.0M901.35 423.8V426.9M901.78 423.8V426.8M902.65 423.8V427.6M903.08 423.8V427.3M903.52 423.8V426.3M904.38 423.8V426.3M905.25 423.8V427.6M905.69 423.8V426.1M906.12 423.8V425.6M906.56 423.8V424.6M906.99 423.8V424.4M907.42 423.8V424.4M907.86 423.8V423.9M920.44 423.8V424.3M923.05 423.8V423.9M923.92 423.8V424.8M924.35 423.8V424.7M925.22 423.8V425.2M926.09 423.8V425.3M926.52 423.8V424.4M926.95 423.8V424.3M930.43 423.8V424.8M930.86 423.8V424.1M935.20 423.8V424.3" stroke="#ffcdd2" stroke-width="0.75" fill="none"/>
<path d="M9.0 419.2L9.9 419.2L10.7 419.6L11.6 419.9L12.5 420.3L13.3 420.0L14.2 418.6L15.1 416.1L15.9 413.1L16.8 411.1L17.7 410.2L18.5 410.8L19.4 412.0L20.3 413.1L21.2 414.2L22.0 415.6L22.9 416.8L23.8 418.2L24.6 419.5L25.5 420.9L26.4 422.2L27.2 422.9L28.1 423.3L29.0 423.2L29.8 422.7L30.7 421.3L31.6 419.2L32.4 416.6L33.3 414.9L34.2 414.4L35.0 415.0L35.9 416.4L36.8 417.8L37.6 419.1L38.5 420.0L39.4 420.8L40.2 421.4L41.1 422.1L42.0 422.7L42.9 423.0L43.7 423.1L44.6 423.1L45.5 423.0L46.3 423.2L47.2 423.2L48.1 423.6L48.9 424.2L49.8 425.1L50.7 426.2L51.5 427.3L52.4 427.7L53.3 427.9L54.1 427.4L55.0 426.7L55.9 425.9L56.7 424.9L57.6 424.3L58.5 424.0L59.3 424.1L60.2 424.5L61.1 424.6L62.0 424.7L62.8 424.8L63.7 424.5L64.6 424.5L65.4 424.1L66.3 423.6L67.2 423.6L68.0 423.9L68.9 424.5L69.8 425.6L70.6 426.5L71.5 427.0L72.4 427.0L73.2 426.2L74.1 425.0L75.0 423.5L75.8 422.1L76.7 421.1L77.6 420.9L78.4 421.6L79.3 422.7L80.2 423.1L81.0 422.7L81.9 421.3L82.8 419.6L83.7 418.7L84.5 418.7L85.4 419.7L86.3 421.8L87.1 423.9L88.0 425.8L88.9 427.3L89.7 428.3L90.6 429.4L91.5 429.6L92.3 429.4L93.2 428.4L94.1 427.4L94.9 426.2L95.8 425.3L96.7 424.4L97.5 423.8L98.4 423.4L99.3 423.2L100.1 423.4L101.0 423.5L101.9 423.3L102.7 422.3L103.6 421.0L104.5 420.0L105.4 418.9L106.2 418.5L107.1 418.5L108.0 419.0L108.8 419.9L109.7 420.8L110.6 421.9L111.4 422.9L112.3 423.3L113.2 422.6L114.0 421.2L114.9 419.1L115.8 416.9L116.6 414.6L117.5 412.9L118.4 412.1L119.2 412.5L120.1 413.7L121.0 415.0L121.8 416.3L122.7 417.4L123.6 418.1L124.4 418.0L125.3 417.3L126.2 416.3L127.1 416.1L127.9 416.9L128.8 418.3L129.7 420.1L130.5 421.9L131.4 423.8L132.3 425.7L133.1 427.4L134.0 428.9L134.9 429.8L135.7 430.0L136.6 429.6L137.5 428.8L138.3 427.6L139.2 426.1L140.1 424.3L140.9 422.1L141.8 419.7L142.7 417.7L143.5 415.6L144.4 413.9L145.3 412.8L146.2 412.4L147.0 412.7L147.9 413.3L148.8 414.0L149.6 415.0L150.5 416.2L151.4 417.5L152.2 418.2L153.1 418.5L154.0 418.3L154.8 418.1L155.7 417.9L156.6 417.9L157.4 418.3L158.3 419.1L159.2 420.0L160.0 420.8L160.9 421.6L161.8 422.5L162.6 423.1L163.5 424.0L164.4 424.9L165.2 425.8L166.1 426.7L167.0 427.5L167.9 428.1L168.7 428.7L169.6 429.2L170.5 429.8L171.3 430.3L172.2 430.7L173.1 431.3L173.9 431.9L174.8 432.6L175.7 433.3L176.5 434.1L177.4 435.2L178.3 436.2L179.1 436.7L180.0 436.2L180.9 435.0L181.7 433.3L182.6 431.8L183.5 430.6L184.3 429.4L185.2 428.4L186.1 427.6L186.9 427.0L187.8 426.3L188.7 425.8L189.6 425.3L190.4 424.6L191.3 423.7L192.2 422.6L193.0 422.0L193.9 421.6L194.8 421.6L195.6 421.7L196.5 421.8L197.4 422.2L198.2 422.4L199.1 422.7L200.0 423.0L200.8 423.4L201.7 423.8L202.6 424.3L203.4 424.6L204.3 425.1L205.2 425.2L206.0 425.1L206.9 425.0L207.8 425.1L208.6 425.0L209.5 425.1L210.4 425.2L211.3 425.2L212.1 425.2L213.0 424.9L213.9 424.5L214.7 424.0L215.6 423.8L216.5 423.8L217.3 424.1L218.2 424.6L219.1 425.2L219.9 425.8L220.8 426.3L221.7 426.6L222.5 427.0L223.4 427.8L224.3 428.9L225.1 430.6L226.0 432.2L226.9 433.7L227.7 435.3L228.6 437.1L229.5 439.3L230.4 441.5L231.2 443.8L232.1 445.4L233.0 445.7L233.8 444.9L234.7 443.0L235.6 441.0L236.4 438.9L237.3 437.0L238.2 435.4L239.0 434.2L239.9 433.2L240.8 432.6L241.6 432.0L242.5 431.3L243.4 430.6L244.2 429.7L245.1 429.2L246.0 428.8L246.8 429.0L247.7 429.6L248.6 429.6L249.4 429.5L250.3 429.2L251.2 429.0L252.1 429.3L252.9 429.5L253.8 429.8L254.7 430.4L255.5 430.8L256.4 431.1L257.3 431.2L258.1 431.2L259.0 431.2L259.9 431.2L260.7 431.1L261.6 431.3L262.5 431.1L263.3 430.7L264.2 430.0L265.1 429.0L265.9 428.1L266.8 427.1L267.7 425.9L268.5 424.8L269.4 423.7L270.3 422.8L271.1 422.1L272.0 421.4L272.9 420.8L273.8 420.0L274.6 419.5L275.5 418.7L276.4 418.1L277.2 417.3L278.1 416.4L279.0 415.4L279.8 414.7L280.7 414.7L281.6 415.6L282.4 416.9L283.3 418.3L284.2 419.4L285.0 420.7L285.9 422.2L286.8 424.2L287.6 426.5L288.5 428.7L289.4 430.7L290.2 432.2L291.1 433.4L292.0 434.4L292.8 435.5L293.7 436.5L294.6 437.4L295.5 438.1L296.3 438.9L297.2 439.8L298.1 440.8L298.9 441.7L299.8 442.6L300.7 443.5L301.5 444.6L302.4 445.7L303.3 446.8L304.1 447.3L305.0 447.2L305.9 446.4L306.7 445.1L307.6 443.9L308.5 442.7L309.3 441.2L310.2 439.8L311.1 438.4L311.9 437.2L312.8 436.3L313.7 435.3L314.6 434.5L315.4 433.5L316.3 432.5L317.2 431.7L318.0 430.7L318.9 429.9L319.8 428.8L320.6 427.7L321.5 426.3L322.4 424.8L323.2 423.6L324.1 422.8L325.0 422.7L325.8 422.9L326.7 423.3L327.6 423.6L328.4 423.9L329.3 423.7L330.2 423.2L331.0 422.6L331.9 422.3L332.8 422.2L333.6 422.1L334.5 422.5L335.4 422.8L336.3 423.2L337.1 423.6L338.0 423.9L338.9 424.0L339.7 424.2L340.6 424.2L341.5 424.1L342.3 424.1L343.2 424.0L344.1 423.8L344.9 423.3L345.8 422.9L346.7 422.6L347.5 422.4L348.4 422.4L349.3 422.2L350.1 422.2L351.0 422.3L351.9 422.6L352.7 423.1L353.6 423.4L354.5 423.3L355.3 423.2L356.2 423.4L357.1 423.4L358.0 423.5L358.8 423.2L359.7 422.8L360.6 422.3L361.4 421.7L362.3 420.4L363.2 418.7L364.0 416.5L364.9 414.4L365.8 412.8L366.6 411.1L367.5 409.2L368.4 407.3L369.2 405.1L370.1 403.4L371.0 402.8L371.8 403.3L372.7 404.6L373.6 405.9L374.4 407.0L375.3 407.8L376.2 408.5L377.0 409.5L377.9 410.5L378.8 411.5L379.7 412.5L380.5 412.9L381.4 412.8L382.3 412.0L383.1 410.5L384.0 408.9L384.9 407.3L385.7 405.6L386.6 404.7L387.5 404.7L388.3 405.8L389.2 407.7L390.1 409.5L390.9 411.2L391.8 412.8L392.7 414.5L393.5 416.5L394.4 418.4L395.3 420.2L396.1 421.7L397.0 423.1L397.9 424.6L398.8 426.6L399.6 428.7L400.5 430.5L401.4 431.2L402.2 430.8L403.1 429.4L404.0 427.9L404.8 426.2L405.7 424.5L406.6 422.8L407.4 421.0L408.3 419.2L409.2 417.6L410.0 416.3L410.9 415.2L411.8 414.3L412.6 413.2L413.5 412.2L414.4 411.3L415.2 410.6L416.1 410.1L417.0 409.3L417.8 408.4L418.7 407.2L419.6 406.1L420.5 405.0L421.3 404.0L422.2 402.7L423.1 401.3L423.9 400.1L424.8 398.8L425.7 398.1L426.5 398.0L427.4 398.5L428.3 399.3L429.1 400.2L430.0 401.1L430.9 401.9L431.7 402.7L432.6 403.4L433.5 403.9L434.3 404.4L435.2 404.8L436.1 405.1L436.9 405.6L437.8 406.2L438.7 407.1L439.5 408.4L440.4 409.8L441.3 411.3L442.2 412.5L443.0 412.9L443.9 412.7L444.8 412.1L445.6 411.3L446.5 410.3L447.4 409.5L448.2 408.6L449.1 408.0L450.0 407.6L450.8 407.6L451.7 408.2L452.6 409.0L453.4 410.3L454.3 411.5L455.2 412.6L456.0 413.6L456.9 414.5L457.8 415.5L458.6 416.7L459.5 417.8L460.4 418.8L461.2 419.7L462.1 419.5L463.0 418.6L463.9 416.8L464.7 414.8L465.6 413.2L466.5 411.4L467.3 409.6L468.2 407.3L469.1 405.3L469.9 404.4L470.8 404.7L471.7 406.0L472.5 407.4L473.4 408.5L474.3 409.5L475.1 410.5L476.0 411.6L476.9 412.8L477.7 413.9L478.6 414.9L479.5 415.9L480.3 417.0L481.2 418.3L482.1 419.5L483.0 420.7L483.8 421.9L484.7 422.9L485.6 423.9L486.4 424.9L487.3 425.8L488.2 426.6L489.0 427.2L489.9 427.3L490.8 426.5L491.6 424.8L492.5 422.6L493.4 420.0L494.2 417.6L495.1 415.1L496.0 413.0L496.8 411.0L497.7 409.0L498.6 406.9L499.4 404.8L500.3 403.3L501.2 403.2L502.0 404.6L502.9 407.2L503.8 410.0L504.7 412.8L505.5 415.7L506.4 418.6L507.3 421.7L508.1 424.0L509.0 425.3L509.9 425.3L510.7 424.4L511.6 423.5L512.5 422.5L513.3 421.4L514.2 420.2L515.1 419.3L515.9 418.3L516.8 417.4L517.7 416.5L518.5 415.7L519.4 414.8L520.3 414.2L521.1 413.5L522.0 413.2L522.9 412.9L523.7 412.7L524.6 412.6L525.5 412.5L526.4 412.4L527.2 411.9L528.1 411.2L529.0 410.5L529.8 409.9L530.7 409.3L531.6 409.6L532.4 410.4L533.3 411.6L534.2 412.9L535.0 414.1L535.9 415.3L536.8 416.5L537.6 417.8L538.5 419.2L539.4 420.5L540.2 421.7L541.1 423.1L542.0 424.5L542.8 426.1L543.7 427.0L544.6 427.1L545.4 426.3L546.3 425.0L547.2 424.0L548.1 424.8L548.9 427.3L549.8 431.7L550.7 437.0L551.5 442.2L552.4 446.8L553.3 449.4L554.1 450.3L555.0 449.1L555.9 447.3L556.7 445.7L557.6 444.2L558.5 442.8L559.3 441.2L560.2 439.4L561.1 437.8L561.9 436.0L562.8 434.1L563.7 432.2L564.5 430.3L565.4 428.6L566.3 427.0L567.2 425.3L568.0 423.4L568.9 421.5L569.8 419.8L570.6 418.0L571.5 416.2L572.4 414.4L573.2 413.2L574.1 413.2L575.0 414.4L575.8 416.2L576.7 417.9L577.6 419.3L578.4 420.4L579.3 421.7L580.2 423.1L581.0 424.6L581.9 426.0L582.8 427.3L583.6 428.7L584.5 430.1L585.4 431.5L586.2 431.2L587.1 429.4L588.0 426.1L588.9 422.2L589.7 419.9L590.6 420.1L591.5 422.5L592.3 426.4L593.2 430.2L594.1 433.7L594.9 435.8L595.8 436.3L596.7 435.8L597.5 434.4L598.4 433.3L599.3 432.1L600.1 430.4L601.0 428.7L601.9 427.1L602.7 425.4L603.6 424.4L604.5 423.8L605.3 423.3L606.2 423.2L607.1 423.0L607.9 422.9L608.8 422.7L609.7 422.8L610.6 422.8L611.4 425.0L612.3 429.8L613.2 437.0L614.0 445.6L614.9 453.9L615.8 462.3L616.6 470.6L617.5 477.3L618.4 480.7L619.2 481.1L620.1 478.9L621.0 476.2L621.8 473.4L622.7 470.8L623.6 468.2L624.4 465.5L625.3 462.3L626.2 458.6L627.0 454.1L627.9 449.3L628.8 444.6L629.6 439.9L630.5 435.2L631.4 431.6L632.3 429.6L633.1 429.4L634.0 430.9L634.9 432.4L635.7 434.0L636.6 435.4L637.5 436.5L638.3 437.7L639.2 438.8L640.1 439.6L640.9 440.7L641.8 440.9L642.7 440.0L643.5 438.3L644.4 436.1L645.3 434.1L646.1 432.1L647.0 429.6L647.9 427.0L648.7 424.3L649.6 421.9L650.5 419.5L651.4 417.3L652.2 415.0L653.1 412.8L654.0 410.4L654.8 408.1L655.7 405.6L656.6 403.3L657.4 401.2L658.3 400.0L659.2 400.0L660.0 401.1L660.9 403.0L661.8 404.6L662.6 406.3L663.5 407.8L664.4 409.2L665.2 410.6L666.1 412.1L667.0 413.6L667.8 415.1L668.7 416.6L669.6 417.8L670.4 419.2L671.3 420.7L672.2 422.4L673.1 424.4L673.9 426.2L674.8 426.9L675.7 426.2L676.5 424.6L677.4 422.5L678.3 420.5L679.1 418.5L680.0 417.6L680.9 418.1L681.7 420.3L682.6 423.5L683.5 426.8L684.3 429.9L685.2 433.1L686.1 436.0L686.9 439.0L687.8 441.9L688.7 444.9L689.5 447.9L690.4 450.8L691.3 452.4L692.1 452.0L693.0 449.8L693.9 446.1L694.8 442.4L695.6 438.6L696.5 435.1L697.4 431.9L698.2 428.4L699.1 424.6L700.0 421.3L700.8 419.4L701.7 418.9L702.6 419.9L703.4 421.0L704.3 421.9L705.2 422.7L706.0 423.7L706.9 424.7L707.8 425.8L708.6 426.8L709.5 427.4L710.4 428.4L711.2 429.3L712.1 430.4L713.0 431.6L713.8 432.6L714.7 433.7L715.6 434.9L716.5 436.0L717.3 437.0L718.2 437.5L719.1 437.3L719.9 436.3L720.8 435.0L721.7 433.5L722.5 432.0L723.4 430.6L724.3 429.1L725.1 428.1L726.0 427.2L726.9 426.3L727.7 425.1L728.6 423.9L729.5 423.5L730.3 424.3L731.2 425.7L732.1 427.5L732.9 429.2L733.8 430.6L734.7 432.1L735.6 433.8L736.4 435.7L737.3 437.7L738.2 439.7L739.0 441.7L739.9 443.6L740.8 445.6L741.6 447.4L742.5 447.8L743.4 446.7L744.2 444.0L745.1 440.9L746.0 437.9L746.8 434.9L747.7 432.2L748.6 431.8L749.4 434.0L750.3 438.8L751.2 444.9L752.0 450.7L752.9 455.9L753.8 458.5L754.6 458.7L755.5 456.0L756.4 452.4L757.3 448.6L758.1 444.9L759.0 441.3L759.9 438.0L760.7 434.7L761.6 431.5L762.5 428.2L763.3 425.3L764.2 423.5L765.1 422.6L765.9 422.8L766.8 422.7L767.7 422.6L768.5 422.3L769.4 422.1L770.3 422.0L771.1 421.9L772.0 421.9L772.9 421.7L773.7 421.4L774.6 421.0L775.5 420.7L776.3 420.6L777.2 420.9L778.1 421.4L779.0 422.0L779.8 422.4L780.7 422.6L781.6 422.6L782.4 422.6L783.3 422.4L784.2 422.4L785.0 422.7L785.9 423.1L786.8 423.4L787.6 423.3L788.5 423.1L789.4 422.8L790.2 422.7L791.1 422.6L792.0 422.8L792.8 422.5L793.7 421.7L794.6 420.7L795.4 419.2L796.3 418.0L797.2 416.5L798.0 414.9L798.9 413.3L799.8 411.6L800.7 410.0L801.5 408.3L802.4 406.9L803.3 406.5L804.1 407.3L805.0 409.2L805.9 411.4L806.7 413.6L807.6 415.7L808.5 417.8L809.3 418.5L810.2 417.6L811.1 415.0L811.9 411.1L812.8 407.0L813.7 403.3L814.5 401.2L815.4 400.7L816.3 401.8L817.1 403.7L818.0 405.9L818.9 408.3L819.8 411.0L820.6 413.7L821.5 416.1L822.4 418.4L823.2 420.6L824.1 422.5L825.0 424.5L825.8 426.3L826.7 428.6L827.6 431.1L828.4 433.9L829.3 436.5L830.2 438.9L831.0 441.1L831.9 443.2L832.8 445.2L833.6 445.3L834.5 443.4L835.4 439.3L836.2 434.5L837.1 429.6L838.0 424.9L838.8 419.9L839.7 414.7L840.6 409.7L841.5 404.4L842.3 399.3L843.2 395.2L844.1 394.4L844.9 397.0L845.8 402.6L846.7 408.7L847.5 414.5L848.4 420.4L849.3 426.3L850.1 432.5L851.0 437.6L851.9 440.7L852.7 441.7L853.6 441.3L854.5 440.5L855.3 439.7L856.2 438.7L857.1 437.5L857.9 436.3L858.8 435.2L859.7 434.1L860.5 433.1L861.4 432.4L862.3 432.2L863.2 432.1L864.0 432.4L864.9 432.9L865.8 433.3L866.6 433.8L867.5 433.8L868.4 433.0L869.2 431.2L870.1 428.4L871.0 425.1L871.8 422.0L872.7 418.9L873.6 416.0L874.4 413.1L875.3 410.8L876.2 409.4L877.0 409.2L877.9 409.7L878.8 410.5L879.6 411.5L880.5 412.3L881.4 413.2L882.2 413.7L883.1 413.6L884.0 412.4L884.9 410.9L885.7 409.9L886.6 409.9L887.5 411.3L888.3 412.8L889.2 414.4L890.1 415.4L890.9 416.0L891.8 415.8L892.7 414.9L893.5 413.8L894.4 412.6L895.3 411.9L896.1 411.9L897.0 412.6L897.9 413.9L898.7 415.9L899.6 417.9L900.5 419.8L901.3 421.4L902.2 423.0L903.1 424.5L904.0 426.0L904.8 426.7L905.7 426.7L906.6 426.2L907.4 425.6L908.3 424.7L909.2 423.9L910.0 422.7L910.9 421.7L911.8 420.9L912.6 420.3L913.5 419.8L914.4 419.3L915.2 418.6L916.1 417.7L917.0 417.1L917.8 417.0L918.7 417.3L919.6 418.1L920.4 418.9L921.3 419.4L922.2 419.8L923.0 420.4L923.9 421.1L924.8 421.9L925.7 422.4L926.5 422.5L927.4 422.3L928.3 422.3L929.1 422.4L930.0 422.8L930.9 422.9L931.7 422.9L932.6 422.8L933.5 422.7L934.3 422.7L935.2 422.7L936.1 422.3L936.9 421.9L937.8 421.0L938.7 419.9L939.5 418.3L940.4 416.2L941.3 414.2L942.1 412.3L943.0 411.4" stroke="#2962ff" stroke-width="1.15" fill="none"/>
<path d="M9.0 418.5L9.9 418.8L10.7 418.9L11.6 419.1L12.5 419.5L13.3 419.9L14.2 419.9L15.1 419.0L15.9 417.5L16.8 415.3L17.7 413.6L18.5 412.7L19.4 412.4L20.3 412.5L21.2 413.0L22.0 413.6L22.9 414.5L23.8 415.5L24.6 416.5L25.5 417.7L26.4 419.0L27.2 420.3L28.1 421.1L29.0 421.7L29.8 422.2L30.7 422.3L31.6 421.6L32.4 420.2L33.3 418.6L34.2 417.0L35.0 416.3L35.9 416.3L36.8 416.6L37.6 417.2L38.5 418.1L39.4 418.9L40.2 419.6L41.1 420.2L42.0 421.0L42.9 421.6L43.7 422.1L44.6 422.3L45.5 422.6L46.3 422.7L47.2 422.8L48.1 423.0L48.9 423.2L49.8 423.7L50.7 424.4L51.5 425.1L52.4 426.1L53.3 426.7L54.1 426.9L55.0 426.9L55.9 426.7L56.7 426.2L57.6 425.6L58.5 425.0L59.3 424.8L60.2 424.6L61.1 424.6L62.0 424.8L62.8 424.6L63.7 424.7L64.6 424.7L65.4 424.5L66.3 424.3L67.2 424.0L68.0 423.8L68.9 424.0L69.8 424.3L70.6 424.9L71.5 425.7L72.4 426.2L73.2 426.3L74.1 426.0L75.0 425.5L75.8 424.5L76.7 423.5L77.6 422.5L78.4 422.1L79.3 422.2L80.2 422.7L81.0 423.0L81.9 422.6L82.8 421.8L83.7 420.8L84.5 419.9L85.4 419.7L86.3 420.0L87.1 421.1L88.0 422.6L88.9 423.8L89.7 425.1L90.6 426.3L91.5 427.5L92.3 428.1L93.2 428.3L94.1 428.1L94.9 427.7L95.8 426.9L96.7 426.3L97.5 425.6L98.4 424.9L99.3 424.3L100.1 423.9L101.0 423.9L101.9 423.9L102.7 423.5L103.6 422.9L104.5 422.0L105.4 421.2L106.2 420.3L107.1 419.6L108.0 419.4L108.8 419.4L109.7 419.8L110.6 420.3L111.4 421.1L112.3 421.8L113.2 422.4L114.0 422.2L114.9 421.4L115.8 420.3L116.6 418.9L117.5 417.0L118.4 415.3L119.2 414.4L120.1 414.0L121.0 414.3L121.8 414.7L122.7 415.5L123.6 416.3L124.4 417.0L125.3 417.3L126.2 416.9L127.1 416.5L127.9 416.4L128.8 416.9L129.7 417.7L130.5 418.8L131.4 420.2L132.3 421.6L133.1 423.2L134.0 424.9L134.9 426.4L135.7 427.5L136.6 428.3L137.5 428.5L138.3 428.4L139.2 427.8L140.1 427.0L140.9 425.7L141.8 424.1L142.7 422.3L143.5 420.4L144.4 418.6L145.3 416.7L146.2 415.4L147.0 414.5L147.9 414.0L148.8 414.0L149.6 414.2L150.5 414.6L151.4 415.4L152.2 416.4L153.1 417.1L154.0 417.4L154.8 417.7L155.7 417.8L156.6 417.7L157.4 417.7L158.3 418.1L159.2 418.6L160.0 419.2L160.9 419.8L161.8 420.6L162.6 421.3L163.5 422.0L164.4 422.7L165.2 423.6L166.1 424.5L167.0 425.3L167.9 426.2L168.7 426.9L169.6 427.5L170.5 428.2L171.3 428.8L172.2 429.3L173.1 429.8L173.9 430.4L174.8 431.0L175.7 431.6L176.5 432.3L177.4 433.0L178.3 434.0L179.1 434.9L180.0 435.5L180.9 435.5L181.7 434.9L182.6 434.1L183.5 433.1L184.3 432.1L185.2 431.0L186.1 430.0L186.9 429.2L187.8 428.4L188.7 427.6L189.6 427.0L190.4 426.5L191.3 425.7L192.2 424.9L193.0 423.9L193.9 423.2L194.8 422.8L195.6 422.4L196.5 422.2L197.4 422.2L198.2 422.3L199.1 422.3L200.0 422.5L200.8 422.7L201.7 423.1L202.6 423.3L203.4 423.7L204.3 424.1L205.2 424.5L206.0 424.7L206.9 424.8L207.8 424.8L208.6 424.9L209.5 425.0L210.4 425.0L211.3 425.1L212.1 425.2L213.0 425.2L213.9 425.0L214.7 424.7L215.6 424.4L216.5 424.2L217.3 424.1L218.2 424.2L219.1 424.5L219.9 424.9L220.8 425.1L221.7 425.6L222.5 426.1L223.4 426.3L224.3 426.9L225.1 427.9L226.0 429.1L226.9 430.3L227.7 431.6L228.6 433.1L229.5 434.6L230.4 436.6L231.2 438.6L232.1 440.6L233.0 442.5L233.8 443.4L234.7 443.5L235.6 442.9L236.4 441.8L237.3 440.5L238.2 439.1L239.0 437.6L239.9 436.3L240.8 435.3L241.6 434.4L242.5 433.5L243.4 432.6L244.2 431.9L245.1 431.1L246.0 430.3L246.8 429.9L247.7 429.7L248.6 429.9L249.4 429.9L250.3 429.4L251.2 429.4L252.1 429.4L252.9 429.3L253.8 429.4L254.7 429.7L255.5 430.0L256.4 430.3L257.3 430.6L258.1 430.8L259.0 430.9L259.9 431.0L260.7 431.1L261.6 431.1L262.5 431.1L263.3 431.2L264.2 430.8L265.1 430.4L265.9 429.8L266.8 429.1L267.7 428.2L268.5 427.3L269.4 426.3L270.3 425.2L271.1 424.4L272.0 423.6L272.9 422.7L273.8 422.1L274.6 421.2L275.5 420.6L276.4 419.9L277.2 419.2L278.1 418.5L279.0 417.6L279.8 416.7L280.7 415.9L281.6 415.6L282.4 415.9L283.3 416.7L284.2 417.4L285.0 418.2L285.9 419.2L286.8 420.5L287.6 422.0L288.5 423.9L289.4 425.9L290.2 427.7L291.1 429.3L292.0 430.7L292.8 432.0L293.7 433.3L294.6 434.5L295.5 435.5L296.3 436.4L297.2 437.4L298.1 438.3L298.9 439.2L299.8 440.1L300.7 441.0L301.5 442.0L302.4 443.0L303.3 444.1L304.1 445.1L305.0 445.9L305.9 446.2L306.7 445.9L307.6 445.4L308.5 444.7L309.3 443.8L310.2 442.7L311.1 441.5L311.9 440.4L312.8 439.2L313.7 438.1L314.6 437.1L315.4 436.1L316.3 435.2L317.2 434.1L318.0 433.2L318.9 432.3L319.8 431.4L320.6 430.4L321.5 429.2L322.4 428.1L323.2 426.8L324.1 425.5L325.0 424.6L325.8 424.1L326.7 423.8L327.6 423.7L328.4 423.9L329.3 423.9L330.2 423.7L331.0 423.4L331.9 423.1L332.8 422.7L333.6 422.6L334.5 422.5L335.4 422.5L336.3 422.7L337.1 423.1L338.0 423.2L338.9 423.5L339.7 423.7L340.6 423.8L341.5 423.9L342.3 424.0L343.2 424.0L344.1 424.0L344.9 423.9L345.8 423.6L346.7 423.3L347.5 423.0L348.4 422.8L349.3 422.7L350.1 422.5L351.0 422.3L351.9 422.4L352.7 422.6L353.6 422.8L354.5 423.0L355.3 423.1L356.2 423.0L357.1 423.2L358.0 423.4L358.8 423.4L359.7 423.2L360.6 422.9L361.4 422.7L362.3 422.3L363.2 421.5L364.0 420.1L364.9 418.5L365.8 416.9L366.6 415.3L367.5 413.7L368.4 412.0L369.2 410.1L370.1 408.1L371.0 406.2L371.8 405.2L372.7 405.0L373.6 405.2L374.4 405.7L375.3 406.3L376.2 406.9L377.0 407.5L377.9 408.3L378.8 409.3L379.7 410.1L380.5 411.0L381.4 411.7L382.3 412.0L383.1 411.6L384.0 410.9L384.9 410.0L385.7 408.8L386.6 407.5L387.5 406.3L388.3 406.0L389.2 406.3L390.1 407.3L390.9 408.3L391.8 409.5L392.7 410.9L393.5 412.3L394.4 414.0L395.3 415.8L396.1 417.5L397.0 419.0L397.9 420.5L398.8 422.0L399.6 423.8L400.5 425.8L401.4 427.8L402.2 428.8L403.1 429.1L404.0 428.8L404.8 428.2L405.7 427.3L406.6 426.0L407.4 424.7L408.3 423.2L409.2 421.6L410.0 420.1L410.9 418.7L411.8 417.5L412.6 416.3L413.5 415.1L414.4 414.0L415.2 413.1L416.1 412.2L417.0 411.5L417.8 410.7L418.7 409.8L419.6 408.6L420.5 407.7L421.3 406.8L422.2 405.5L423.1 404.5L423.9 403.2L424.8 402.0L425.7 400.8L426.5 399.8L427.4 399.3L428.3 399.2L429.1 399.5L430.0 399.9L430.9 400.5L431.7 401.1L432.6 401.7L433.5 402.4L434.3 402.9L435.2 403.5L436.1 404.0L436.9 404.3L437.8 404.8L438.7 405.4L439.5 406.1L440.4 407.1L441.3 408.3L442.2 409.5L443.0 410.7L443.9 411.4L444.8 411.6L445.6 411.6L446.5 411.3L447.4 410.8L448.2 410.1L449.1 409.6L450.0 408.9L450.8 408.4L451.7 408.2L452.6 408.4L453.4 408.8L454.3 409.5L455.2 410.4L456.0 411.3L456.9 412.1L457.8 413.0L458.6 414.0L459.5 415.1L460.4 416.2L461.2 417.1L462.1 418.2L463.0 418.6L463.9 418.1L464.7 417.3L465.6 416.1L466.5 414.9L467.3 413.5L468.2 411.9L469.1 410.0L469.9 408.0L470.8 406.8L471.7 406.5L472.5 406.7L473.4 407.3L474.3 407.8L475.1 408.5L476.0 409.4L476.9 410.3L477.7 411.3L478.6 412.3L479.5 413.2L480.3 414.3L481.2 415.4L482.1 416.5L483.0 417.7L483.8 418.8L484.7 420.0L485.6 421.0L486.4 422.0L487.3 423.2L488.2 424.2L489.0 425.0L489.9 425.9L490.8 426.4L491.6 426.1L492.5 425.2L493.4 423.9L494.2 422.1L495.1 420.2L496.0 418.2L496.8 416.1L497.7 414.2L498.6 412.3L499.4 410.2L500.3 408.1L501.2 406.2L502.0 405.5L502.9 405.8L503.8 406.8L504.7 408.5L505.5 410.3L506.4 412.6L507.3 415.0L508.1 417.7L509.0 420.3L509.9 421.9L510.7 422.6L511.6 423.0L512.5 422.9L513.3 422.6L514.2 422.0L515.1 421.1L515.9 420.4L516.8 419.6L517.7 418.8L518.5 417.8L519.4 417.1L520.3 416.2L521.1 415.4L522.0 414.7L522.9 414.2L523.7 413.8L524.6 413.4L525.5 413.2L526.4 413.0L527.2 412.7L528.1 412.3L529.0 411.9L529.8 411.3L530.7 410.7L531.6 410.1L532.4 410.1L533.3 410.5L534.2 411.1L535.0 411.9L535.9 412.8L536.8 413.8L537.6 414.9L538.5 416.0L539.4 417.3L540.2 418.6L541.1 419.7L542.0 421.0L542.8 422.4L543.7 423.9L544.6 425.1L545.4 425.6L546.3 425.4L547.2 425.0L548.1 424.4L548.9 424.7L549.8 426.3L550.7 429.1L551.5 432.7L552.4 436.6L553.3 440.9L554.1 443.8L555.0 445.6L555.9 446.2L556.7 446.0L557.6 445.6L558.5 444.9L559.3 444.0L560.2 442.8L561.1 441.4L561.9 439.9L562.8 438.5L563.7 436.7L564.5 434.9L565.4 433.1L566.3 431.5L567.2 429.8L568.0 428.0L568.9 426.3L569.8 424.4L570.6 422.6L571.5 420.9L572.4 419.1L573.2 417.3L574.1 415.7L575.0 415.2L575.8 415.4L576.7 416.2L577.6 417.0L578.4 417.9L579.3 418.9L580.2 420.0L581.0 421.3L581.9 422.6L582.8 423.9L583.6 425.1L584.5 426.6L585.4 427.9L586.2 429.4L587.1 429.9L588.0 429.1L588.9 427.2L589.7 424.8L590.6 422.7L591.5 422.3L592.3 423.2L593.2 425.1L594.1 427.5L594.9 430.1L595.8 432.3L596.7 433.3L597.5 433.7L598.4 433.7L599.3 433.3L600.1 432.6L601.0 431.7L601.9 430.3L602.7 429.0L603.6 427.7L604.5 426.3L605.3 425.6L606.2 424.9L607.1 424.3L607.9 423.9L608.8 423.6L609.7 423.3L610.6 423.1L611.4 423.0L612.3 423.9L613.2 427.3L614.0 432.1L614.9 438.0L615.8 444.5L616.6 451.7L617.5 459.2L618.4 466.3L619.2 470.9L620.1 473.5L621.0 474.4L621.8 474.3L622.7 473.4L623.6 472.1L624.4 470.4L625.3 468.4L626.2 465.9L627.0 462.8L627.9 459.2L628.8 455.1L629.6 450.9L630.5 446.7L631.4 442.2L632.3 438.0L633.1 435.4L634.0 433.9L634.9 433.4L635.7 433.5L636.6 434.0L637.5 434.6L638.3 435.5L639.2 436.3L640.1 437.3L640.9 438.2L641.8 439.1L642.7 439.9L643.5 439.4L644.4 438.5L645.3 437.5L646.1 436.1L647.0 434.4L647.9 432.3L648.7 430.1L649.6 427.8L650.5 425.5L651.4 423.3L652.2 421.0L653.1 418.7L654.0 416.5L654.8 414.2L655.7 411.8L656.6 409.4L657.4 407.1L658.3 404.9L659.2 403.1L660.0 402.4L660.9 402.4L661.8 403.0L662.6 403.9L663.5 405.0L664.4 406.1L665.2 407.4L666.1 408.6L667.0 410.0L667.8 411.4L668.7 412.9L669.6 414.2L670.4 415.6L671.3 417.0L672.2 418.4L673.1 420.0L673.9 421.8L674.8 423.5L675.7 424.7L676.5 424.8L677.4 424.1L678.3 423.3L679.1 422.1L680.0 420.4L680.9 419.3L681.7 419.4L682.6 420.4L683.5 422.0L684.3 424.2L685.2 426.6L686.1 429.2L686.9 431.9L687.8 434.5L688.7 437.5L689.5 440.3L690.4 443.2L691.3 446.2L692.1 448.5L693.0 449.1L693.9 448.5L694.8 447.0L695.6 444.7L696.5 442.1L697.4 439.3L698.2 436.4L699.1 433.3L700.0 429.9L700.8 426.3L701.7 424.0L702.6 422.7L703.4 422.2L704.3 422.1L705.2 422.2L706.0 422.5L706.9 423.1L707.8 423.9L708.6 424.6L709.5 425.5L710.4 426.2L711.2 427.0L712.1 428.0L713.0 428.9L713.8 430.0L714.7 431.0L715.6 432.1L716.5 433.1L717.3 434.2L718.2 435.4L719.1 436.0L719.9 436.3L720.8 436.0L721.7 435.3L722.5 434.5L723.4 433.4L724.3 432.2L725.1 431.0L726.0 429.9L726.9 429.0L727.7 428.0L728.6 426.8L729.5 425.6L730.3 424.9L731.2 425.0L732.1 425.7L732.9 426.7L733.8 427.7L734.7 428.9L735.6 430.2L736.4 431.6L737.3 433.2L738.2 435.1L739.0 436.9L739.9 438.7L740.8 440.6L741.6 442.5L742.5 444.6L743.4 445.6L744.2 445.3L745.1 444.2L746.0 442.5L746.8 440.5L747.7 438.2L748.6 435.7L749.4 434.3L750.3 435.3L751.2 437.7L752.0 441.3L752.9 445.3L753.8 449.9L754.6 452.9L755.5 454.1L756.4 453.9L757.3 452.6L758.1 450.5L759.0 448.0L759.9 445.3L760.7 442.4L761.6 439.4L762.5 436.3L763.3 433.2L764.2 430.0L765.1 427.9L765.9 426.3L766.8 425.3L767.7 424.5L768.5 423.9L769.4 423.4L770.3 422.9L771.1 422.7L772.0 422.4L772.9 422.3L773.7 422.0L774.6 421.8L775.5 421.4L776.3 421.2L777.2 421.0L778.1 421.0L779.0 421.3L779.8 421.7L780.7 421.9L781.6 422.2L782.4 422.4L783.3 422.4L784.2 422.3L785.0 422.3L785.9 422.6L786.8 422.8L787.6 423.0L788.5 423.1L789.4 423.0L790.2 422.8L791.1 422.8L792.0 422.8L792.8 422.8L793.7 422.7L794.6 422.1L795.4 421.4L796.3 420.5L797.2 419.4L798.0 418.2L798.9 416.9L799.8 415.4L800.7 413.9L801.5 412.4L802.4 410.8L803.3 409.2L804.1 408.3L805.0 408.5L805.9 409.3L806.7 410.3L807.6 411.8L808.5 413.5L809.3 415.3L810.2 416.5L811.1 416.4L811.9 415.1L812.8 413.0L813.7 410.3L814.5 407.3L815.4 405.1L816.3 404.0L817.1 403.7L818.0 404.1L818.9 405.2L819.8 406.7L820.6 408.6L821.5 410.7L822.4 412.9L823.2 414.9L824.1 417.2L825.0 419.2L825.8 421.1L826.7 423.0L827.6 425.2L828.4 427.6L829.3 430.1L830.2 432.6L831.0 435.0L831.9 437.2L832.8 439.4L833.6 441.8L834.5 442.9L835.4 442.2L836.2 440.2L837.1 437.4L838.0 434.1L838.8 430.2L839.7 426.1L840.6 421.5L841.5 416.9L842.3 412.1L843.2 407.1L844.1 402.3L844.9 400.0L845.8 400.4L846.7 402.5L847.5 405.6L848.4 409.5L849.3 414.0L850.1 419.1L851.0 424.4L851.9 429.6L852.7 433.4L853.6 435.7L854.5 437.1L855.3 438.0L856.2 438.4L857.1 438.1L857.9 437.6L858.8 437.0L859.7 436.2L860.5 435.3L861.4 434.5L862.3 433.7L863.2 433.2L864.0 432.9L864.9 432.8L865.8 433.0L866.6 433.2L867.5 433.4L868.4 433.6L869.2 433.2L870.1 432.0L871.0 430.2L871.8 427.9L872.7 425.5L873.6 422.9L874.4 420.2L875.3 417.4L876.2 414.9L877.0 413.1L877.9 412.0L878.8 411.6L879.6 411.4L880.5 411.6L881.4 412.0L882.2 412.5L883.1 413.1L884.0 413.2L884.9 412.6L885.7 411.5L886.6 410.9L887.5 410.8L888.3 411.4L889.2 412.1L890.1 413.1L890.9 414.2L891.8 414.6L892.7 415.0L893.5 414.7L894.4 414.0L895.3 413.4L896.1 412.8L897.0 412.5L897.9 412.8L898.7 413.5L899.6 414.7L900.5 416.2L901.3 417.7L902.2 419.0L903.1 420.6L904.0 422.1L904.8 423.6L905.7 424.6L906.6 425.2L907.4 425.2L908.3 425.3L909.2 424.9L910.0 424.3L910.9 423.6L911.8 422.8L912.6 422.0L913.5 421.5L914.4 420.9L915.2 420.2L916.1 419.6L917.0 418.9L917.8 418.1L918.7 417.7L919.6 417.9L920.4 418.2L921.3 418.4L922.2 418.9L923.0 419.2L923.9 419.7L924.8 420.3L925.7 421.1L926.5 421.4L927.4 421.7L928.3 421.8L929.1 422.0L930.0 422.1L930.9 422.4L931.7 422.7L932.6 422.7L933.5 422.6L934.3 422.7L935.2 422.7L936.1 422.7L936.9 422.5L937.8 422.2L938.7 421.7L939.5 420.9L940.4 419.7L941.3 418.2L942.1 416.4L943.0 414.8" stroke="#f06a10" stroke-width="1.15" fill="none"/>
</g>
<g font-size="11" fill="#b8b8b8">
<text x="16" y="394.9" textLength="96" lengthAdjust="spacingAndGlyphs">MACD (12, 26, close)</text><text x="119.6" y="394.9" fill="#26a69a" textLength="30" lengthAdjust="spacingAndGlyphs">165.38</text><text x="156.5" y="394.9" fill="#2962ff" textLength="30.7" lengthAdjust="spacingAndGlyphs">393.43</text><text x="193.7" y="394.9" fill="#ff6d00" textLength="31.1" lengthAdjust="spacingAndGlyphs">228.05</text>
</g>
<!-- axes labels -->
<g font-size="11" fill="#b8b8b8" clip-path="url(#cpa)">
<text x="956" y="31.0" textLength="51.2" lengthAdjust="spacingAndGlyphs">128,000.00</text><text x="956" y="65.5" textLength="51.2" lengthAdjust="spacingAndGlyphs">124,000.00</text><text x="956" y="100.0" textLength="51.2" lengthAdjust="spacingAndGlyphs">120,000.00</text><text x="956" y="134.6" textLength="51.2" lengthAdjust="spacingAndGlyphs">116,000.00</text><text x="956" y="203.7" textLength="51.2" lengthAdjust="spacingAndGlyphs">108,000.00</text><text x="956" y="238.5" textLength="51.2" lengthAdjust="spacingAndGlyphs">104,000.00</text>
<text x="955.6" y="324.7" textLength="25.6" lengthAdjust="spacingAndGlyphs">50.00</text>
<text x="955.6" y="356.2" textLength="25.6" lengthAdjust="spacingAndGlyphs">25.00</text>
<text x="955.6" y="294.2" textLength="25.6" lengthAdjust="spacingAndGlyphs">75.00</text>
<text x="955.6" y="394.2" textLength="40.6" lengthAdjust="spacingAndGlyphs">1,000.00</text>
<text x="955.6" y="427.5" textLength="25.6" lengthAdjust="spacingAndGlyphs">0.00</text>
<text x="954.4" y="460.5" textLength="47" lengthAdjust="spacingAndGlyphs">−1,000.00</text>
<text x="954.4" y="492.8" textLength="47" lengthAdjust="spacingAndGlyphs">−2,000.00</text>
</g>
<g font-size="11" fill="#b8b8b8" clip-path="url(#cpt)"><text x="12.0" y="511.7" text-anchor="middle">12</text><text x="74.5" y="511.7" text-anchor="middle">15</text><text x="137.0" y="511.7" text-anchor="middle">18</text><text x="199.5" y="511.7" text-anchor="middle">21</text><text x="262.0" y="511.7" text-anchor="middle">24</text><text x="324.5" y="511.7" text-anchor="middle">27</text><text x="407.8" y="511.7" text-anchor="middle" font-weight="bold">Oct</text><text x="470.3" y="511.7" text-anchor="middle">4</text><text x="532.8" y="511.7" text-anchor="middle">7</text><text x="595.3" y="511.7" text-anchor="middle">10</text><text x="657.8" y="511.7" text-anchor="middle">13</text><text x="720.3" y="511.7" text-anchor="middle">16</text><text x="782.8" y="511.7" text-anchor="middle">19</text><text x="845.3" y="511.7" text-anchor="middle">22</text><text x="907.8" y="511.7" text-anchor="middle">25</text></g>
<!-- price labels -->
<rect x="948.2" y="146.3" width="63.8" height="27.3" rx="1.5" fill="#089981"/>
<text x="956.4" y="156.8" font-size="11" fill="#ffffff" stroke="#ffffff" stroke-width="0.3" textLength="50.9" lengthAdjust="spacingAndGlyphs">113,491.89</text>
<text x="956.4" y="169.3" font-size="11" fill="#ffffff" stroke="#ffffff" stroke-width="0.3" textLength="25.4" lengthAdjust="spacingAndGlyphs">03:38</text>
<rect x="948.3" y="274.9" width="37.3" height="14" rx="1.2" fill="#7e57c2"/>
<text x="956.1" y="285.7" font-size="11" fill="#ffffff" textLength="25.6" lengthAdjust="spacingAndGlyphs">81.39</text>
<rect x="948.3" y="294.2" width="37.5" height="14.5" rx="1.2" fill="#fdd835"/>
<text x="956.1" y="305.4" font-size="11" fill="#131313" textLength="24.8" lengthAdjust="spacingAndGlyphs">66.11</text>
<rect x="948.2" y="381.8" width="42.7" height="14.4" rx="1.2" fill="#2962ff"/>
<text x="956.2" y="392.7" font-size="11" fill="#ffffff" textLength="30.9" lengthAdjust="spacingAndGlyphs">393.43</text>
<rect x="948.2" y="396.2" width="42.7" height="14.5" fill="#ff6d00"/>
<text x="956.2" y="407.5" font-size="11" fill="#ffffff" textLength="30.9" lengthAdjust="spacingAndGlyphs">228.05</text>
<rect x="948.2" y="410.7" width="42.7" height="14.6" rx="1.2" fill="#26a69a"/>
<text x="956.2" y="422.1" font-size="11" fill="#ffffff" textLength="31.3" lengthAdjust="spacingAndGlyphs">165.38</text>
<!-- lightning icon -->
<g transform="translate(943.2,247.5)">
<path d="M4.6 -7.3A8.6 8.6 0 1 0 4.6 7.3" stroke="#a852d4" stroke-width="1.8" fill="none"/>
<path d="M3.4 -4.9L-3.3 0.9H0.4L-2.9 4.7L3.6 -0.8H-0.1Z" fill="#c455cf" stroke="#c455cf" stroke-width="0.7" stroke-linejoin="round"/>
</g>
<!-- logo -->
<g fill="#dcdcdc">
<path d="M10.6 539H21V551.9H15.8V543.9H10.6Z"/>
<circle cx="25.6" cy="541.5" r="2.55"/>
<path d="M30.8 539H36.9L31.7 551.9H25.6Z"/>
<text x="43.2" y="551.9" font-size="18" stroke="#dcdcdc" stroke-width="0.75" textLength="104.5" lengthAdjust="spacingAndGlyphs">TradingView</text>
</g>
</svg>
</body></html>
